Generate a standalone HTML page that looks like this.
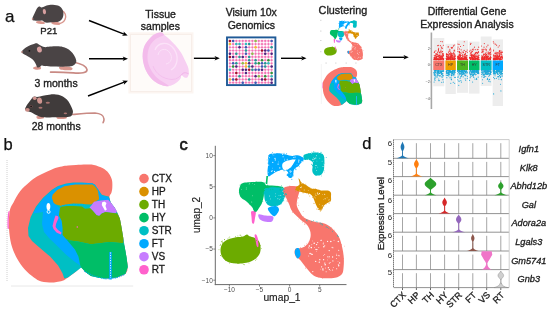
<!DOCTYPE html>
<html><head><meta charset="utf-8"><style>
html,body{margin:0;padding:0;background:#fff;width:550px;height:310px;overflow:hidden}
svg{display:block}
text{font-family:'Liberation Sans', Arial, sans-serif}
</style></head><body>
<svg width="550" height="310" viewBox="0 0 550 310">
<rect width="550" height="310" fill="#fff"/>
<text x="5.00" y="21.70" font-size="17.00" fill="#111" text-anchor="start" stroke="#111" stroke-width="0.25" >a</text>
<text x="3.40" y="149.80" font-size="16.50" fill="#111" text-anchor="start" stroke="#111" stroke-width="0.25" >b</text>
<text x="179.60" y="149.90" font-size="16.50" fill="#111" text-anchor="start" stroke="#111" stroke-width="0.60" >c</text>
<text x="362.20" y="149.00" font-size="16.50" fill="#111" text-anchor="start" stroke="#111" stroke-width="0.25" >d</text>
<text x="48.90" y="33.80" font-size="9.60" fill="#222" text-anchor="middle" stroke="#222" stroke-width="0.35" >P21</text>
<text x="56.10" y="86.80" font-size="10.50" fill="#222" text-anchor="middle" stroke="#222" stroke-width="0.35" >3 months</text>
<text x="56.20" y="130.40" font-size="10.50" fill="#222" text-anchor="middle" stroke="#222" stroke-width="0.35" >28 months</text>
<text x="160.60" y="17.80" font-size="10.50" fill="#222" text-anchor="middle" stroke="#222" stroke-width="0.35" >Tissue</text>
<text x="160.40" y="29.90" font-size="10.50" fill="#222" text-anchor="middle" stroke="#222" stroke-width="0.35" >samples</text>
<text x="251.30" y="16.20" font-size="10.50" fill="#222" text-anchor="middle" stroke="#222" stroke-width="0.35" >Visium 10x</text>
<text x="251.30" y="29.00" font-size="10.50" fill="#222" text-anchor="middle" stroke="#222" stroke-width="0.35" >Genomics</text>
<text x="342.90" y="13.70" font-size="10.80" fill="#222" text-anchor="middle" stroke="#222" stroke-width="0.35" >Clustering</text>
<text x="467.00" y="14.50" font-size="10.50" fill="#222" text-anchor="middle" stroke="#222" stroke-width="0.35" >Differential Gene</text>
<text x="467.00" y="27.80" font-size="10.50" fill="#222" text-anchor="middle" stroke="#222" stroke-width="0.35" >Expression Analysis</text>
<path d="M61.5,10.5 C65.5,12 66.5,16 65,19.5 C63.5,23 59,24.3 53,23.6" fill="none" stroke="#d9968d" stroke-width="1.4" stroke-linecap="round"/>
<path d="M36.50,21.50 C37.12,21.20 38.67,20.88 40.00,21.00 C41.33,21.12 43.83,21.70 44.50,22.20 C45.17,22.70 44.92,23.73 44.00,24.00 C43.08,24.27 40.28,24.00 39.00,23.80 C37.72,23.60 36.72,23.18 36.30,22.80 C35.88,22.42 35.88,21.80 36.50,21.50 Z" fill="#d9968d" />
<path d="M51.50,22.20 C52.20,21.90 54.58,21.67 56.00,21.80 C57.42,21.93 59.42,22.50 60.00,23.00 C60.58,23.50 60.33,24.53 59.50,24.80 C58.67,25.07 56.28,24.80 55.00,24.60 C53.72,24.40 52.38,24.00 51.80,23.60 C51.22,23.20 50.80,22.50 51.50,22.20 Z" fill="#d9968d" />
<path d="M32.10,19.30 C32.10,18.12 33.63,15.38 34.50,13.50 C35.37,11.62 36.43,9.15 37.30,8.00 C38.17,6.85 39.00,6.67 39.70,6.60 C40.40,6.53 40.53,7.70 41.50,7.60 C42.47,7.50 43.98,6.47 45.50,6.00 C47.02,5.53 48.55,4.87 50.60,4.80 C52.65,4.73 55.93,4.98 57.80,5.60 C59.67,6.22 60.87,7.27 61.80,8.50 C62.73,9.73 63.27,11.42 63.40,13.00 C63.53,14.58 63.33,16.60 62.60,18.00 C61.87,19.40 60.77,20.70 59.00,21.40 C57.23,22.10 54.25,22.00 52.00,22.20 C49.75,22.40 47.12,22.87 45.50,22.60 C43.88,22.33 43.47,20.90 42.30,20.60 C41.13,20.30 39.80,20.80 38.50,20.80 C37.20,20.80 35.57,20.85 34.50,20.60 C33.43,20.35 32.10,20.48 32.10,19.30 Z" fill="#4a4445" />
<ellipse cx="44.4" cy="11.6" rx="1.6" ry="2.6" fill="#d8a0a0" transform="rotate(-10 44.4 11.6)"/>
<ellipse cx="32.6" cy="19.0" rx="0.9" ry="0.7" fill="#d9968d"/>
<path d="M73.5,62 C80,63.5 86.5,66 87,69.5 C87.3,73 81,73.6 73.2,72.9 C66,72.4 57,72 50.6,72.2" fill="none" stroke="#c98a84" stroke-width="1.7" stroke-linecap="round"/>
<path d="M33.30,67.40 C33.88,67.00 35.75,66.43 37.00,66.40 C38.25,66.37 40.25,66.72 40.80,67.20 C41.35,67.68 41.10,68.88 40.30,69.30 C39.50,69.72 37.13,69.78 36.00,69.70 C34.87,69.62 33.95,69.18 33.50,68.80 C33.05,68.42 32.72,67.80 33.30,67.40 Z" fill="#d9968d" />
<path d="M59.50,66.80 C60.50,66.32 63.92,66.13 66.00,66.30 C68.08,66.47 71.08,67.18 72.00,67.80 C72.92,68.42 72.67,69.60 71.50,70.00 C70.33,70.40 66.92,70.33 65.00,70.20 C63.08,70.07 60.92,69.77 60.00,69.20 C59.08,68.63 58.50,67.28 59.50,66.80 Z" fill="#d9968d" />
<path d="M21.50,51.80 C21.75,51.10 22.90,49.93 24.00,49.00 C25.10,48.07 26.60,46.98 28.10,46.20 C29.60,45.42 31.60,44.80 33.00,44.30 C34.40,43.80 35.58,43.22 36.50,43.20 C37.42,43.18 37.23,43.55 38.50,44.20 C39.77,44.85 42.18,46.70 44.10,47.10 C46.02,47.50 47.58,46.73 50.00,46.60 C52.42,46.47 56.27,46.18 58.60,46.30 C60.93,46.42 62.30,46.77 64.00,47.30 C65.70,47.83 67.38,48.55 68.80,49.50 C70.22,50.45 71.47,51.75 72.50,53.00 C73.53,54.25 74.37,55.62 75.00,57.00 C75.63,58.38 76.35,60.03 76.30,61.30 C76.25,62.57 75.58,63.77 74.70,64.60 C73.82,65.43 72.95,65.95 71.00,66.30 C69.05,66.65 66.03,66.65 63.00,66.70 C59.97,66.75 55.80,66.70 52.80,66.60 C49.80,66.50 46.88,66.27 45.00,66.10 C43.12,65.93 42.33,65.45 41.50,65.60 C40.67,65.75 40.72,66.73 40.00,67.00 C39.28,67.27 37.87,67.62 37.20,67.20 C36.53,66.78 36.53,65.53 36.00,64.50 C35.47,63.47 34.83,62.05 34.00,61.00 C33.17,59.95 32.33,59.17 31.00,58.20 C29.67,57.23 27.42,56.03 26.00,55.20 C24.58,54.37 23.25,53.77 22.50,53.20 C21.75,52.63 21.25,52.50 21.50,51.80 Z" fill="#4a4445" />
<ellipse cx="39.4" cy="49.6" rx="2.4" ry="3.0" fill="#d8a0a0" transform="rotate(-15 39.4 49.6)"/>
<circle cx="29.4" cy="50.8" r="0.85" fill="#111"/>
<ellipse cx="22.1" cy="52.0" rx="0.9" ry="0.8" fill="#d9968d"/>
<path d="M72.5,114.5 C78,114 88,113 95,113 C100.5,113.3 103.8,116 104,119 C104.1,120.5 103.6,121.7 103.1,122.7" fill="none" stroke="#c98a84" stroke-width="1.6" stroke-linecap="round"/>
<path d="M37.00,116.30 C38.00,116.03 41.37,115.68 42.50,116.00 C43.63,116.32 44.55,117.72 43.80,118.20 C43.05,118.68 39.22,119.00 38.00,118.90 C36.78,118.80 36.67,118.03 36.50,117.60 C36.33,117.17 36.00,116.57 37.00,116.30 Z" fill="#d9968d" />
<path d="M57.00,116.40 C58.25,115.95 63.97,115.87 65.50,116.20 C67.03,116.53 67.45,117.95 66.20,118.40 C64.95,118.85 59.53,119.23 58.00,118.90 C56.47,118.57 55.75,116.85 57.00,116.40 Z" fill="#d9968d" />
<path d="M25.20,109.80 C24.87,109.08 25.33,108.05 25.80,107.00 C26.27,105.95 27.25,104.57 28.00,103.50 C28.75,102.43 29.55,101.60 30.30,100.60 C31.05,99.60 31.80,98.18 32.50,97.50 C33.20,96.82 33.75,96.58 34.50,96.50 C35.25,96.42 36.08,97.00 37.00,97.00 C37.92,97.00 38.80,96.75 40.00,96.50 C41.20,96.25 42.42,95.85 44.20,95.50 C45.98,95.15 48.73,94.55 50.70,94.40 C52.67,94.25 54.35,94.40 56.00,94.60 C57.65,94.80 59.10,95.03 60.60,95.60 C62.10,96.17 63.68,97.02 65.00,98.00 C66.32,98.98 67.47,100.10 68.50,101.50 C69.53,102.90 70.47,104.82 71.20,106.40 C71.93,107.98 72.72,109.65 72.90,111.00 C73.08,112.35 72.72,113.60 72.30,114.50 C71.88,115.40 71.78,115.95 70.40,116.40 C69.02,116.85 65.92,117.05 64.00,117.20 C62.08,117.35 61.23,117.27 58.90,117.30 C56.57,117.33 52.65,117.40 50.00,117.40 C47.35,117.40 44.78,117.47 43.00,117.30 C41.22,117.13 40.63,116.87 39.30,116.40 C37.97,115.93 36.37,115.18 35.00,114.50 C33.63,113.82 32.30,112.83 31.10,112.30 C29.90,111.77 28.78,111.72 27.80,111.30 C26.82,110.88 25.53,110.52 25.20,109.80 Z" fill="#403b3b" />
<ellipse cx="34.7" cy="98.3" rx="1.9" ry="1.8" fill="#d09590"/>
<ellipse cx="39.6" cy="100.6" rx="2.5" ry="3.2" fill="#d09590" transform="rotate(-10 39.6 100.6)"/>
<ellipse cx="27.4" cy="109.8" rx="2.3" ry="1.9" fill="#c98c86"/>
<ellipse cx="47.8" cy="102.7" rx="2.1" ry="1.0" fill="#a87370"/>
<ellipse cx="40.5" cy="107.7" rx="2.0" ry="1.0" fill="#a87370"/>
<ellipse cx="65.4" cy="113.3" rx="1.7" ry="0.9" fill="#a87370"/>
<circle cx="31.1" cy="106.4" r="1.4" fill="#7a5555"/>
<circle cx="31.1" cy="106.4" r="0.85" fill="#111"/>
<line x1="89.00" y1="20.50" x2="124.00" y2="34.16" stroke="#000" stroke-width="1.40"/><path d="M127.70,35.60 L121.93,35.82 L124.00,34.16 L123.60,31.53 Z" fill="#000"/>
<line x1="89.00" y1="58.70" x2="124.03" y2="58.70" stroke="#000" stroke-width="1.40"/><path d="M128.00,58.70 L122.70,61.00 L124.03,58.70 L122.70,56.40 Z" fill="#000"/>
<line x1="88.00" y1="96.00" x2="124.28" y2="82.21" stroke="#000" stroke-width="1.40"/><path d="M128.00,80.80 L123.86,84.83 L124.28,82.21 L122.23,80.53 Z" fill="#000"/>
<line x1="193.80" y1="58.30" x2="215.83" y2="58.30" stroke="#000" stroke-width="1.40"/><path d="M219.80,58.30 L214.50,60.60 L215.83,58.30 L214.50,56.00 Z" fill="#000"/>
<line x1="281.00" y1="58.30" x2="302.52" y2="58.30" stroke="#000" stroke-width="1.40"/><path d="M306.50,58.30 L301.20,60.60 L302.52,58.30 L301.20,56.00 Z" fill="#000"/>
<line x1="383.00" y1="57.30" x2="404.82" y2="57.30" stroke="#000" stroke-width="1.40"/><path d="M408.80,57.30 L403.50,59.60 L404.82,57.30 L403.50,55.00 Z" fill="#000"/>
<rect x="128.4" y="32.3" width="65.1" height="61.2" fill="#fcf5f1"/>
<rect x="130.6" y="34.4" width="60.8" height="57" fill="#fefbf9" stroke="#f6ece6" stroke-width="0.8"/>
<path d="M157.30,32.90 C158.58,32.48 159.98,31.98 161.10,32.30 C162.22,32.62 162.70,33.73 164.00,34.80 C165.30,35.87 166.97,36.92 168.90,38.70 C170.83,40.48 173.52,43.08 175.60,45.50 C177.68,47.92 179.78,50.62 181.40,53.20 C183.02,55.78 184.17,58.58 185.30,61.00 C186.43,63.42 187.62,65.62 188.20,67.70 C188.78,69.78 188.95,71.88 188.80,73.50 C188.65,75.12 188.03,76.75 187.30,77.40 C186.57,78.05 185.38,77.77 184.40,77.40 C183.42,77.03 182.05,75.03 181.40,75.20 C180.75,75.37 181.47,77.07 180.50,78.40 C179.53,79.73 177.53,81.92 175.60,83.20 C173.67,84.48 171.15,85.77 168.90,86.10 C166.65,86.43 164.52,86.00 162.10,85.20 C159.68,84.40 156.82,83.25 154.40,81.30 C151.98,79.35 149.38,76.40 147.60,73.50 C145.82,70.60 144.52,67.12 143.70,63.90 C142.88,60.68 142.53,57.27 142.70,54.20 C142.87,51.13 143.57,48.08 144.70,45.50 C145.83,42.92 148.05,40.48 149.50,38.70 C150.95,36.92 152.10,35.77 153.40,34.80 C154.70,33.83 156.02,33.32 157.30,32.90 Z" fill="#f7cff2" />
<path d="M161.10,32.50 C162.60,32.60 164.18,34.08 164.00,34.80 C163.82,35.52 161.67,35.85 160.00,36.80 C158.33,37.75 155.73,38.88 154.00,40.50 C152.27,42.12 150.67,44.17 149.60,46.50 C148.53,48.83 147.83,51.75 147.60,54.50 C147.37,57.25 147.53,60.25 148.20,63.00 C148.87,65.75 150.13,68.53 151.60,71.00 C153.07,73.47 155.02,75.93 157.00,77.80 C158.98,79.67 161.52,80.82 163.50,82.20 C165.48,83.58 169.13,85.60 168.90,86.10 C168.67,86.60 164.52,86.00 162.10,85.20 C159.68,84.40 156.82,83.25 154.40,81.30 C151.98,79.35 149.38,76.40 147.60,73.50 C145.82,70.60 144.52,67.12 143.70,63.90 C142.88,60.68 142.53,57.27 142.70,54.20 C142.87,51.13 143.57,48.08 144.70,45.50 C145.83,42.92 147.78,40.58 149.50,38.70 C151.22,36.82 153.07,35.23 155.00,34.20 C156.93,33.17 159.60,32.40 161.10,32.50 Z" fill="#f3bbeb" />
<path d="M155,50 C158,42 168,41 174,49 C179,56 178,66 171,70" fill="none" stroke="#fbe2f8" stroke-width="1.3"/>
<path d="M158,55 C159,49 166,47 170,53 C173,58 171,63 166,64" fill="none" stroke="#fbe2f8" stroke-width="1"/>
<path d="M153,66 C156,74 163,79 172,79.5 C177,79.5 180,76.5 181.5,74.5" fill="none" stroke="#f3bdec" stroke-width="0.9"/>
<path d="M181.4,75.2 C183,72 186,72.5 188.6,73.8" fill="none" stroke="#efaee6" stroke-width="0.9"/>
<rect x="227" y="37.4" width="48.4" height="47.7" fill="#fff" stroke="#1f5a97" stroke-width="1.9"/>
<g fill="#f9bcda"><circle cx="231.50" cy="40.90" r="0.6"/><circle cx="234.72" cy="40.90" r="0.6"/><circle cx="237.93" cy="40.90" r="0.6"/><circle cx="241.13" cy="40.90" r="0.6"/><circle cx="244.34" cy="40.90" r="0.6"/><circle cx="247.56" cy="40.90" r="0.6"/><circle cx="250.77" cy="40.90" r="0.6"/><circle cx="253.97" cy="40.90" r="0.6"/><circle cx="257.19" cy="40.90" r="0.6"/><circle cx="260.39" cy="40.90" r="0.6"/><circle cx="263.61" cy="40.90" r="0.6"/><circle cx="266.81" cy="40.90" r="0.6"/><circle cx="270.02" cy="40.90" r="0.6"/><circle cx="229.90" cy="42.50" r="0.6"/><circle cx="233.11" cy="42.50" r="0.6"/><circle cx="236.32" cy="42.50" r="0.6"/><circle cx="239.53" cy="42.50" r="0.6"/><circle cx="242.74" cy="42.50" r="0.6"/><circle cx="245.95" cy="42.50" r="0.6"/><circle cx="249.16" cy="42.50" r="0.6"/><circle cx="252.37" cy="42.50" r="0.6"/><circle cx="255.58" cy="42.50" r="0.6"/><circle cx="258.79" cy="42.50" r="0.6"/><circle cx="262.00" cy="42.50" r="0.6"/><circle cx="265.21" cy="42.50" r="0.6"/><circle cx="268.42" cy="42.50" r="0.6"/><circle cx="271.63" cy="42.50" r="0.6"/><circle cx="231.50" cy="44.11" r="0.6"/><circle cx="234.72" cy="44.11" r="0.6"/><circle cx="237.93" cy="44.11" r="0.6"/><circle cx="241.13" cy="44.11" r="0.6"/><circle cx="244.34" cy="44.11" r="0.6"/><circle cx="247.56" cy="44.11" r="0.6"/><circle cx="250.77" cy="44.11" r="0.6"/><circle cx="253.97" cy="44.11" r="0.6"/><circle cx="257.19" cy="44.11" r="0.6"/><circle cx="260.39" cy="44.11" r="0.6"/><circle cx="263.61" cy="44.11" r="0.6"/><circle cx="266.81" cy="44.11" r="0.6"/><circle cx="270.02" cy="44.11" r="0.6"/><circle cx="229.90" cy="45.71" r="0.6"/><circle cx="233.11" cy="45.71" r="0.6"/><circle cx="236.32" cy="45.71" r="0.6"/><circle cx="239.53" cy="45.71" r="0.6"/><circle cx="242.74" cy="45.71" r="0.6"/><circle cx="245.95" cy="45.71" r="0.6"/><circle cx="249.16" cy="45.71" r="0.6"/><circle cx="252.37" cy="45.71" r="0.6"/><circle cx="255.58" cy="45.71" r="0.6"/><circle cx="258.79" cy="45.71" r="0.6"/><circle cx="262.00" cy="45.71" r="0.6"/><circle cx="265.21" cy="45.71" r="0.6"/><circle cx="268.42" cy="45.71" r="0.6"/><circle cx="271.63" cy="45.71" r="0.6"/><circle cx="231.50" cy="47.32" r="0.6"/><circle cx="234.72" cy="47.32" r="0.6"/><circle cx="237.93" cy="47.32" r="0.6"/><circle cx="241.13" cy="47.32" r="0.6"/><circle cx="244.34" cy="47.32" r="0.6"/><circle cx="247.56" cy="47.32" r="0.6"/><circle cx="250.77" cy="47.32" r="0.6"/><circle cx="253.97" cy="47.32" r="0.6"/><circle cx="257.19" cy="47.32" r="0.6"/><circle cx="260.39" cy="47.32" r="0.6"/><circle cx="263.61" cy="47.32" r="0.6"/><circle cx="266.81" cy="47.32" r="0.6"/><circle cx="270.02" cy="47.32" r="0.6"/><circle cx="229.90" cy="48.92" r="0.6"/><circle cx="233.11" cy="48.92" r="0.6"/><circle cx="236.32" cy="48.92" r="0.6"/><circle cx="239.53" cy="48.92" r="0.6"/><circle cx="242.74" cy="48.92" r="0.6"/><circle cx="245.95" cy="48.92" r="0.6"/><circle cx="249.16" cy="48.92" r="0.6"/><circle cx="252.37" cy="48.92" r="0.6"/><circle cx="255.58" cy="48.92" r="0.6"/><circle cx="258.79" cy="48.92" r="0.6"/><circle cx="262.00" cy="48.92" r="0.6"/><circle cx="265.21" cy="48.92" r="0.6"/><circle cx="268.42" cy="48.92" r="0.6"/><circle cx="271.63" cy="48.92" r="0.6"/><circle cx="231.50" cy="50.53" r="0.6"/><circle cx="234.72" cy="50.53" r="0.6"/><circle cx="237.93" cy="50.53" r="0.6"/><circle cx="241.13" cy="50.53" r="0.6"/><circle cx="244.34" cy="50.53" r="0.6"/><circle cx="247.56" cy="50.53" r="0.6"/><circle cx="250.77" cy="50.53" r="0.6"/><circle cx="253.97" cy="50.53" r="0.6"/><circle cx="257.19" cy="50.53" r="0.6"/><circle cx="260.39" cy="50.53" r="0.6"/><circle cx="263.61" cy="50.53" r="0.6"/><circle cx="266.81" cy="50.53" r="0.6"/><circle cx="270.02" cy="50.53" r="0.6"/><circle cx="229.90" cy="52.13" r="0.6"/><circle cx="233.11" cy="52.13" r="0.6"/><circle cx="236.32" cy="52.13" r="0.6"/><circle cx="239.53" cy="52.13" r="0.6"/><circle cx="242.74" cy="52.13" r="0.6"/><circle cx="245.95" cy="52.13" r="0.6"/><circle cx="249.16" cy="52.13" r="0.6"/><circle cx="252.37" cy="52.13" r="0.6"/><circle cx="255.58" cy="52.13" r="0.6"/><circle cx="258.79" cy="52.13" r="0.6"/><circle cx="262.00" cy="52.13" r="0.6"/><circle cx="265.21" cy="52.13" r="0.6"/><circle cx="268.42" cy="52.13" r="0.6"/><circle cx="271.63" cy="52.13" r="0.6"/><circle cx="231.50" cy="53.74" r="0.6"/><circle cx="234.72" cy="53.74" r="0.6"/><circle cx="237.93" cy="53.74" r="0.6"/><circle cx="241.13" cy="53.74" r="0.6"/><circle cx="244.34" cy="53.74" r="0.6"/><circle cx="247.56" cy="53.74" r="0.6"/><circle cx="250.77" cy="53.74" r="0.6"/><circle cx="253.97" cy="53.74" r="0.6"/><circle cx="257.19" cy="53.74" r="0.6"/><circle cx="260.39" cy="53.74" r="0.6"/><circle cx="263.61" cy="53.74" r="0.6"/><circle cx="266.81" cy="53.74" r="0.6"/><circle cx="270.02" cy="53.74" r="0.6"/><circle cx="229.90" cy="55.34" r="0.6"/><circle cx="233.11" cy="55.34" r="0.6"/><circle cx="236.32" cy="55.34" r="0.6"/><circle cx="239.53" cy="55.34" r="0.6"/><circle cx="242.74" cy="55.34" r="0.6"/><circle cx="245.95" cy="55.34" r="0.6"/><circle cx="249.16" cy="55.34" r="0.6"/><circle cx="252.37" cy="55.34" r="0.6"/><circle cx="255.58" cy="55.34" r="0.6"/><circle cx="258.79" cy="55.34" r="0.6"/><circle cx="262.00" cy="55.34" r="0.6"/><circle cx="265.21" cy="55.34" r="0.6"/><circle cx="268.42" cy="55.34" r="0.6"/><circle cx="271.63" cy="55.34" r="0.6"/><circle cx="231.50" cy="56.95" r="0.6"/><circle cx="234.72" cy="56.95" r="0.6"/><circle cx="237.93" cy="56.95" r="0.6"/><circle cx="241.13" cy="56.95" r="0.6"/><circle cx="244.34" cy="56.95" r="0.6"/><circle cx="247.56" cy="56.95" r="0.6"/><circle cx="250.77" cy="56.95" r="0.6"/><circle cx="253.97" cy="56.95" r="0.6"/><circle cx="257.19" cy="56.95" r="0.6"/><circle cx="260.39" cy="56.95" r="0.6"/><circle cx="263.61" cy="56.95" r="0.6"/><circle cx="266.81" cy="56.95" r="0.6"/><circle cx="270.02" cy="56.95" r="0.6"/><circle cx="229.90" cy="58.55" r="0.6"/><circle cx="233.11" cy="58.55" r="0.6"/><circle cx="236.32" cy="58.55" r="0.6"/><circle cx="239.53" cy="58.55" r="0.6"/><circle cx="242.74" cy="58.55" r="0.6"/><circle cx="245.95" cy="58.55" r="0.6"/><circle cx="249.16" cy="58.55" r="0.6"/><circle cx="252.37" cy="58.55" r="0.6"/><circle cx="255.58" cy="58.55" r="0.6"/><circle cx="258.79" cy="58.55" r="0.6"/><circle cx="262.00" cy="58.55" r="0.6"/><circle cx="265.21" cy="58.55" r="0.6"/><circle cx="268.42" cy="58.55" r="0.6"/><circle cx="271.63" cy="58.55" r="0.6"/><circle cx="231.50" cy="60.16" r="0.6"/><circle cx="234.72" cy="60.16" r="0.6"/><circle cx="237.93" cy="60.16" r="0.6"/><circle cx="241.13" cy="60.16" r="0.6"/><circle cx="244.34" cy="60.16" r="0.6"/><circle cx="247.56" cy="60.16" r="0.6"/><circle cx="250.77" cy="60.16" r="0.6"/><circle cx="253.97" cy="60.16" r="0.6"/><circle cx="257.19" cy="60.16" r="0.6"/><circle cx="260.39" cy="60.16" r="0.6"/><circle cx="263.61" cy="60.16" r="0.6"/><circle cx="266.81" cy="60.16" r="0.6"/><circle cx="270.02" cy="60.16" r="0.6"/><circle cx="229.90" cy="61.77" r="0.6"/><circle cx="233.11" cy="61.77" r="0.6"/><circle cx="236.32" cy="61.77" r="0.6"/><circle cx="239.53" cy="61.77" r="0.6"/><circle cx="242.74" cy="61.77" r="0.6"/><circle cx="245.95" cy="61.77" r="0.6"/><circle cx="249.16" cy="61.77" r="0.6"/><circle cx="252.37" cy="61.77" r="0.6"/><circle cx="255.58" cy="61.77" r="0.6"/><circle cx="258.79" cy="61.77" r="0.6"/><circle cx="262.00" cy="61.77" r="0.6"/><circle cx="265.21" cy="61.77" r="0.6"/><circle cx="268.42" cy="61.77" r="0.6"/><circle cx="271.63" cy="61.77" r="0.6"/><circle cx="231.50" cy="63.37" r="0.6"/><circle cx="234.72" cy="63.37" r="0.6"/><circle cx="237.93" cy="63.37" r="0.6"/><circle cx="241.13" cy="63.37" r="0.6"/><circle cx="244.34" cy="63.37" r="0.6"/><circle cx="247.56" cy="63.37" r="0.6"/><circle cx="250.77" cy="63.37" r="0.6"/><circle cx="253.97" cy="63.37" r="0.6"/><circle cx="257.19" cy="63.37" r="0.6"/><circle cx="260.39" cy="63.37" r="0.6"/><circle cx="263.61" cy="63.37" r="0.6"/><circle cx="266.81" cy="63.37" r="0.6"/><circle cx="270.02" cy="63.37" r="0.6"/><circle cx="229.90" cy="64.97" r="0.6"/><circle cx="233.11" cy="64.97" r="0.6"/><circle cx="236.32" cy="64.97" r="0.6"/><circle cx="239.53" cy="64.97" r="0.6"/><circle cx="242.74" cy="64.97" r="0.6"/><circle cx="245.95" cy="64.97" r="0.6"/><circle cx="249.16" cy="64.97" r="0.6"/><circle cx="252.37" cy="64.97" r="0.6"/><circle cx="255.58" cy="64.97" r="0.6"/><circle cx="258.79" cy="64.97" r="0.6"/><circle cx="262.00" cy="64.97" r="0.6"/><circle cx="265.21" cy="64.97" r="0.6"/><circle cx="268.42" cy="64.97" r="0.6"/><circle cx="271.63" cy="64.97" r="0.6"/><circle cx="231.50" cy="66.58" r="0.6"/><circle cx="234.72" cy="66.58" r="0.6"/><circle cx="237.93" cy="66.58" r="0.6"/><circle cx="241.13" cy="66.58" r="0.6"/><circle cx="244.34" cy="66.58" r="0.6"/><circle cx="247.56" cy="66.58" r="0.6"/><circle cx="250.77" cy="66.58" r="0.6"/><circle cx="253.97" cy="66.58" r="0.6"/><circle cx="257.19" cy="66.58" r="0.6"/><circle cx="260.39" cy="66.58" r="0.6"/><circle cx="263.61" cy="66.58" r="0.6"/><circle cx="266.81" cy="66.58" r="0.6"/><circle cx="270.02" cy="66.58" r="0.6"/><circle cx="229.90" cy="68.19" r="0.6"/><circle cx="233.11" cy="68.19" r="0.6"/><circle cx="236.32" cy="68.19" r="0.6"/><circle cx="239.53" cy="68.19" r="0.6"/><circle cx="242.74" cy="68.19" r="0.6"/><circle cx="245.95" cy="68.19" r="0.6"/><circle cx="249.16" cy="68.19" r="0.6"/><circle cx="252.37" cy="68.19" r="0.6"/><circle cx="255.58" cy="68.19" r="0.6"/><circle cx="258.79" cy="68.19" r="0.6"/><circle cx="262.00" cy="68.19" r="0.6"/><circle cx="265.21" cy="68.19" r="0.6"/><circle cx="268.42" cy="68.19" r="0.6"/><circle cx="271.63" cy="68.19" r="0.6"/><circle cx="231.50" cy="69.79" r="0.6"/><circle cx="234.72" cy="69.79" r="0.6"/><circle cx="237.93" cy="69.79" r="0.6"/><circle cx="241.13" cy="69.79" r="0.6"/><circle cx="244.34" cy="69.79" r="0.6"/><circle cx="247.56" cy="69.79" r="0.6"/><circle cx="250.77" cy="69.79" r="0.6"/><circle cx="253.97" cy="69.79" r="0.6"/><circle cx="257.19" cy="69.79" r="0.6"/><circle cx="260.39" cy="69.79" r="0.6"/><circle cx="263.61" cy="69.79" r="0.6"/><circle cx="266.81" cy="69.79" r="0.6"/><circle cx="270.02" cy="69.79" r="0.6"/><circle cx="229.90" cy="71.39" r="0.6"/><circle cx="233.11" cy="71.39" r="0.6"/><circle cx="236.32" cy="71.39" r="0.6"/><circle cx="239.53" cy="71.39" r="0.6"/><circle cx="242.74" cy="71.39" r="0.6"/><circle cx="245.95" cy="71.39" r="0.6"/><circle cx="249.16" cy="71.39" r="0.6"/><circle cx="252.37" cy="71.39" r="0.6"/><circle cx="255.58" cy="71.39" r="0.6"/><circle cx="258.79" cy="71.39" r="0.6"/><circle cx="262.00" cy="71.39" r="0.6"/><circle cx="265.21" cy="71.39" r="0.6"/><circle cx="268.42" cy="71.39" r="0.6"/><circle cx="271.63" cy="71.39" r="0.6"/><circle cx="231.50" cy="73.00" r="0.6"/><circle cx="234.72" cy="73.00" r="0.6"/><circle cx="237.93" cy="73.00" r="0.6"/><circle cx="241.13" cy="73.00" r="0.6"/><circle cx="244.34" cy="73.00" r="0.6"/><circle cx="247.56" cy="73.00" r="0.6"/><circle cx="250.77" cy="73.00" r="0.6"/><circle cx="253.97" cy="73.00" r="0.6"/><circle cx="257.19" cy="73.00" r="0.6"/><circle cx="260.39" cy="73.00" r="0.6"/><circle cx="263.61" cy="73.00" r="0.6"/><circle cx="266.81" cy="73.00" r="0.6"/><circle cx="270.02" cy="73.00" r="0.6"/><circle cx="229.90" cy="74.60" r="0.6"/><circle cx="233.11" cy="74.60" r="0.6"/><circle cx="236.32" cy="74.60" r="0.6"/><circle cx="239.53" cy="74.60" r="0.6"/><circle cx="242.74" cy="74.60" r="0.6"/><circle cx="245.95" cy="74.60" r="0.6"/><circle cx="249.16" cy="74.60" r="0.6"/><circle cx="252.37" cy="74.60" r="0.6"/><circle cx="255.58" cy="74.60" r="0.6"/><circle cx="258.79" cy="74.60" r="0.6"/><circle cx="262.00" cy="74.60" r="0.6"/><circle cx="265.21" cy="74.60" r="0.6"/><circle cx="268.42" cy="74.60" r="0.6"/><circle cx="271.63" cy="74.60" r="0.6"/><circle cx="231.50" cy="76.21" r="0.6"/><circle cx="234.72" cy="76.21" r="0.6"/><circle cx="237.93" cy="76.21" r="0.6"/><circle cx="241.13" cy="76.21" r="0.6"/><circle cx="244.34" cy="76.21" r="0.6"/><circle cx="247.56" cy="76.21" r="0.6"/><circle cx="250.77" cy="76.21" r="0.6"/><circle cx="253.97" cy="76.21" r="0.6"/><circle cx="257.19" cy="76.21" r="0.6"/><circle cx="260.39" cy="76.21" r="0.6"/><circle cx="263.61" cy="76.21" r="0.6"/><circle cx="266.81" cy="76.21" r="0.6"/><circle cx="270.02" cy="76.21" r="0.6"/><circle cx="229.90" cy="77.81" r="0.6"/><circle cx="233.11" cy="77.81" r="0.6"/><circle cx="236.32" cy="77.81" r="0.6"/><circle cx="239.53" cy="77.81" r="0.6"/><circle cx="242.74" cy="77.81" r="0.6"/><circle cx="245.95" cy="77.81" r="0.6"/><circle cx="249.16" cy="77.81" r="0.6"/><circle cx="252.37" cy="77.81" r="0.6"/><circle cx="255.58" cy="77.81" r="0.6"/><circle cx="258.79" cy="77.81" r="0.6"/><circle cx="262.00" cy="77.81" r="0.6"/><circle cx="265.21" cy="77.81" r="0.6"/><circle cx="268.42" cy="77.81" r="0.6"/><circle cx="271.63" cy="77.81" r="0.6"/><circle cx="231.50" cy="79.42" r="0.6"/><circle cx="234.72" cy="79.42" r="0.6"/><circle cx="237.93" cy="79.42" r="0.6"/><circle cx="241.13" cy="79.42" r="0.6"/><circle cx="244.34" cy="79.42" r="0.6"/><circle cx="247.56" cy="79.42" r="0.6"/><circle cx="250.77" cy="79.42" r="0.6"/><circle cx="253.97" cy="79.42" r="0.6"/><circle cx="257.19" cy="79.42" r="0.6"/><circle cx="260.39" cy="79.42" r="0.6"/><circle cx="263.61" cy="79.42" r="0.6"/><circle cx="266.81" cy="79.42" r="0.6"/><circle cx="270.02" cy="79.42" r="0.6"/><circle cx="229.90" cy="81.03" r="0.6"/><circle cx="233.11" cy="81.03" r="0.6"/><circle cx="236.32" cy="81.03" r="0.6"/><circle cx="239.53" cy="81.03" r="0.6"/><circle cx="242.74" cy="81.03" r="0.6"/><circle cx="245.95" cy="81.03" r="0.6"/><circle cx="249.16" cy="81.03" r="0.6"/><circle cx="252.37" cy="81.03" r="0.6"/><circle cx="255.58" cy="81.03" r="0.6"/><circle cx="258.79" cy="81.03" r="0.6"/><circle cx="262.00" cy="81.03" r="0.6"/><circle cx="265.21" cy="81.03" r="0.6"/><circle cx="268.42" cy="81.03" r="0.6"/><circle cx="271.63" cy="81.03" r="0.6"/><circle cx="231.50" cy="82.63" r="0.6"/><circle cx="234.72" cy="82.63" r="0.6"/><circle cx="237.93" cy="82.63" r="0.6"/><circle cx="241.13" cy="82.63" r="0.6"/><circle cx="244.34" cy="82.63" r="0.6"/><circle cx="247.56" cy="82.63" r="0.6"/><circle cx="250.77" cy="82.63" r="0.6"/><circle cx="253.97" cy="82.63" r="0.6"/><circle cx="257.19" cy="82.63" r="0.6"/><circle cx="260.39" cy="82.63" r="0.6"/><circle cx="263.61" cy="82.63" r="0.6"/><circle cx="266.81" cy="82.63" r="0.6"/><circle cx="270.02" cy="82.63" r="0.6"/></g>
<g fill="#f374b4"><circle cx="229.90" cy="40.90" r="1.15"/><circle cx="233.11" cy="40.90" r="1.15"/><circle cx="236.32" cy="40.90" r="1.15"/><circle cx="239.53" cy="40.90" r="1.15"/><circle cx="242.74" cy="40.90" r="1.15"/><circle cx="245.95" cy="40.90" r="1.15"/><circle cx="249.16" cy="40.90" r="1.15"/><circle cx="252.37" cy="40.90" r="1.15"/><circle cx="255.58" cy="40.90" r="1.15"/><circle cx="258.79" cy="40.90" r="1.15"/><circle cx="262.00" cy="40.90" r="1.15"/><circle cx="265.21" cy="40.90" r="1.15"/><circle cx="268.42" cy="40.90" r="1.15"/><circle cx="271.63" cy="40.90" r="1.15"/><circle cx="229.90" cy="44.11" r="1.15"/><circle cx="233.11" cy="44.11" r="1.15"/><circle cx="236.32" cy="44.11" r="1.15"/><circle cx="239.53" cy="44.11" r="1.15"/><circle cx="242.74" cy="44.11" r="1.15"/><circle cx="245.95" cy="44.11" r="1.15"/><circle cx="249.16" cy="44.11" r="1.15"/><circle cx="252.37" cy="44.11" r="1.15"/><circle cx="255.58" cy="44.11" r="1.15"/><circle cx="258.79" cy="44.11" r="1.15"/><circle cx="262.00" cy="44.11" r="1.15"/><circle cx="265.21" cy="44.11" r="1.15"/><circle cx="268.42" cy="44.11" r="1.15"/><circle cx="271.63" cy="44.11" r="1.15"/><circle cx="229.90" cy="47.32" r="1.15"/><circle cx="233.11" cy="47.32" r="1.15"/><circle cx="236.32" cy="47.32" r="1.15"/><circle cx="239.53" cy="47.32" r="1.15"/><circle cx="242.74" cy="47.32" r="1.15"/><circle cx="245.95" cy="47.32" r="1.15"/><circle cx="249.16" cy="47.32" r="1.15"/><circle cx="252.37" cy="47.32" r="1.15"/><circle cx="255.58" cy="47.32" r="1.15"/><circle cx="258.79" cy="47.32" r="1.15"/><circle cx="262.00" cy="47.32" r="1.15"/><circle cx="265.21" cy="47.32" r="1.15"/><circle cx="268.42" cy="47.32" r="1.15"/><circle cx="271.63" cy="47.32" r="1.15"/><circle cx="229.90" cy="50.53" r="1.15"/><circle cx="233.11" cy="50.53" r="1.15"/><circle cx="236.32" cy="50.53" r="1.15"/><circle cx="239.53" cy="50.53" r="1.15"/><circle cx="242.74" cy="50.53" r="1.15"/><circle cx="245.95" cy="50.53" r="1.15"/><circle cx="249.16" cy="50.53" r="1.15"/><circle cx="252.37" cy="50.53" r="1.15"/><circle cx="255.58" cy="50.53" r="1.15"/><circle cx="258.79" cy="50.53" r="1.15"/><circle cx="262.00" cy="50.53" r="1.15"/><circle cx="265.21" cy="50.53" r="1.15"/><circle cx="268.42" cy="50.53" r="1.15"/><circle cx="271.63" cy="50.53" r="1.15"/><circle cx="229.90" cy="53.74" r="1.15"/><circle cx="233.11" cy="53.74" r="1.15"/><circle cx="236.32" cy="53.74" r="1.15"/><circle cx="239.53" cy="53.74" r="1.15"/><circle cx="242.74" cy="53.74" r="1.15"/><circle cx="245.95" cy="53.74" r="1.15"/><circle cx="249.16" cy="53.74" r="1.15"/><circle cx="252.37" cy="53.74" r="1.15"/><circle cx="255.58" cy="53.74" r="1.15"/><circle cx="258.79" cy="53.74" r="1.15"/><circle cx="262.00" cy="53.74" r="1.15"/><circle cx="265.21" cy="53.74" r="1.15"/><circle cx="268.42" cy="53.74" r="1.15"/><circle cx="271.63" cy="53.74" r="1.15"/><circle cx="229.90" cy="56.95" r="1.15"/><circle cx="233.11" cy="56.95" r="1.15"/><circle cx="236.32" cy="56.95" r="1.15"/><circle cx="239.53" cy="56.95" r="1.15"/><circle cx="242.74" cy="56.95" r="1.15"/><circle cx="245.95" cy="56.95" r="1.15"/><circle cx="249.16" cy="56.95" r="1.15"/><circle cx="252.37" cy="56.95" r="1.15"/><circle cx="255.58" cy="56.95" r="1.15"/><circle cx="258.79" cy="56.95" r="1.15"/><circle cx="262.00" cy="56.95" r="1.15"/><circle cx="265.21" cy="56.95" r="1.15"/><circle cx="268.42" cy="56.95" r="1.15"/><circle cx="271.63" cy="56.95" r="1.15"/><circle cx="229.90" cy="60.16" r="1.15"/><circle cx="233.11" cy="60.16" r="1.15"/><circle cx="236.32" cy="60.16" r="1.15"/><circle cx="239.53" cy="60.16" r="1.15"/><circle cx="242.74" cy="60.16" r="1.15"/><circle cx="245.95" cy="60.16" r="1.15"/><circle cx="249.16" cy="60.16" r="1.15"/><circle cx="252.37" cy="60.16" r="1.15"/><circle cx="255.58" cy="60.16" r="1.15"/><circle cx="258.79" cy="60.16" r="1.15"/><circle cx="262.00" cy="60.16" r="1.15"/><circle cx="265.21" cy="60.16" r="1.15"/><circle cx="268.42" cy="60.16" r="1.15"/><circle cx="271.63" cy="60.16" r="1.15"/><circle cx="229.90" cy="63.37" r="1.15"/><circle cx="233.11" cy="63.37" r="1.15"/><circle cx="236.32" cy="63.37" r="1.15"/><circle cx="239.53" cy="63.37" r="1.15"/><circle cx="242.74" cy="63.37" r="1.15"/><circle cx="245.95" cy="63.37" r="1.15"/><circle cx="249.16" cy="63.37" r="1.15"/><circle cx="252.37" cy="63.37" r="1.15"/><circle cx="255.58" cy="63.37" r="1.15"/><circle cx="258.79" cy="63.37" r="1.15"/><circle cx="262.00" cy="63.37" r="1.15"/><circle cx="265.21" cy="63.37" r="1.15"/><circle cx="268.42" cy="63.37" r="1.15"/><circle cx="271.63" cy="63.37" r="1.15"/><circle cx="229.90" cy="66.58" r="1.15"/><circle cx="233.11" cy="66.58" r="1.15"/><circle cx="236.32" cy="66.58" r="1.15"/><circle cx="239.53" cy="66.58" r="1.15"/><circle cx="242.74" cy="66.58" r="1.15"/><circle cx="245.95" cy="66.58" r="1.15"/><circle cx="249.16" cy="66.58" r="1.15"/><circle cx="252.37" cy="66.58" r="1.15"/><circle cx="255.58" cy="66.58" r="1.15"/><circle cx="258.79" cy="66.58" r="1.15"/><circle cx="262.00" cy="66.58" r="1.15"/><circle cx="265.21" cy="66.58" r="1.15"/><circle cx="268.42" cy="66.58" r="1.15"/><circle cx="271.63" cy="66.58" r="1.15"/><circle cx="229.90" cy="69.79" r="1.15"/><circle cx="233.11" cy="69.79" r="1.15"/><circle cx="236.32" cy="69.79" r="1.15"/><circle cx="239.53" cy="69.79" r="1.15"/><circle cx="242.74" cy="69.79" r="1.15"/><circle cx="245.95" cy="69.79" r="1.15"/><circle cx="249.16" cy="69.79" r="1.15"/><circle cx="252.37" cy="69.79" r="1.15"/><circle cx="255.58" cy="69.79" r="1.15"/><circle cx="258.79" cy="69.79" r="1.15"/><circle cx="262.00" cy="69.79" r="1.15"/><circle cx="265.21" cy="69.79" r="1.15"/><circle cx="268.42" cy="69.79" r="1.15"/><circle cx="271.63" cy="69.79" r="1.15"/><circle cx="229.90" cy="73.00" r="1.15"/><circle cx="233.11" cy="73.00" r="1.15"/><circle cx="236.32" cy="73.00" r="1.15"/><circle cx="239.53" cy="73.00" r="1.15"/><circle cx="242.74" cy="73.00" r="1.15"/><circle cx="245.95" cy="73.00" r="1.15"/><circle cx="249.16" cy="73.00" r="1.15"/><circle cx="252.37" cy="73.00" r="1.15"/><circle cx="255.58" cy="73.00" r="1.15"/><circle cx="258.79" cy="73.00" r="1.15"/><circle cx="262.00" cy="73.00" r="1.15"/><circle cx="265.21" cy="73.00" r="1.15"/><circle cx="268.42" cy="73.00" r="1.15"/><circle cx="271.63" cy="73.00" r="1.15"/><circle cx="229.90" cy="76.21" r="1.15"/><circle cx="233.11" cy="76.21" r="1.15"/><circle cx="236.32" cy="76.21" r="1.15"/><circle cx="239.53" cy="76.21" r="1.15"/><circle cx="242.74" cy="76.21" r="1.15"/><circle cx="245.95" cy="76.21" r="1.15"/><circle cx="249.16" cy="76.21" r="1.15"/><circle cx="252.37" cy="76.21" r="1.15"/><circle cx="255.58" cy="76.21" r="1.15"/><circle cx="258.79" cy="76.21" r="1.15"/><circle cx="262.00" cy="76.21" r="1.15"/><circle cx="265.21" cy="76.21" r="1.15"/><circle cx="268.42" cy="76.21" r="1.15"/><circle cx="271.63" cy="76.21" r="1.15"/><circle cx="229.90" cy="79.42" r="1.15"/><circle cx="233.11" cy="79.42" r="1.15"/><circle cx="236.32" cy="79.42" r="1.15"/><circle cx="239.53" cy="79.42" r="1.15"/><circle cx="242.74" cy="79.42" r="1.15"/><circle cx="245.95" cy="79.42" r="1.15"/><circle cx="249.16" cy="79.42" r="1.15"/><circle cx="252.37" cy="79.42" r="1.15"/><circle cx="255.58" cy="79.42" r="1.15"/><circle cx="258.79" cy="79.42" r="1.15"/><circle cx="262.00" cy="79.42" r="1.15"/><circle cx="265.21" cy="79.42" r="1.15"/><circle cx="268.42" cy="79.42" r="1.15"/><circle cx="271.63" cy="79.42" r="1.15"/><circle cx="229.90" cy="82.63" r="1.15"/><circle cx="233.11" cy="82.63" r="1.15"/><circle cx="236.32" cy="82.63" r="1.15"/><circle cx="239.53" cy="82.63" r="1.15"/><circle cx="242.74" cy="82.63" r="1.15"/><circle cx="245.95" cy="82.63" r="1.15"/><circle cx="249.16" cy="82.63" r="1.15"/><circle cx="252.37" cy="82.63" r="1.15"/><circle cx="255.58" cy="82.63" r="1.15"/><circle cx="258.79" cy="82.63" r="1.15"/><circle cx="262.00" cy="82.63" r="1.15"/><circle cx="265.21" cy="82.63" r="1.15"/><circle cx="268.42" cy="82.63" r="1.15"/><circle cx="271.63" cy="82.63" r="1.15"/></g>
<circle cx="229.90" cy="40.90" r="1.25" fill="#a3152a"/><circle cx="233.11" cy="40.90" r="1.25" fill="#3b5fb6"/><circle cx="255.58" cy="40.90" r="1.25" fill="#8bc34a"/><circle cx="271.63" cy="40.90" r="1.25" fill="#3b5fb6"/><circle cx="229.90" cy="44.11" r="1.25" fill="#f2c12e"/><circle cx="236.32" cy="44.11" r="1.25" fill="#30c0c0"/><circle cx="239.53" cy="44.11" r="1.25" fill="#30c0c0"/><circle cx="245.95" cy="44.11" r="1.25" fill="#30c0c0"/><circle cx="249.16" cy="44.11" r="1.25" fill="#1f9e96"/><circle cx="239.53" cy="47.32" r="1.25" fill="#4b2a80"/><circle cx="245.95" cy="47.32" r="1.25" fill="#3b5fb6"/><circle cx="255.58" cy="47.32" r="1.25" fill="#f2c12e"/><circle cx="271.63" cy="47.32" r="1.25" fill="#1f9e96"/><circle cx="245.95" cy="50.53" r="1.25" fill="#1f9e96"/><circle cx="262.00" cy="50.53" r="1.25" fill="#a3152a"/><circle cx="265.21" cy="50.53" r="1.25" fill="#4b2a80"/><circle cx="268.42" cy="50.53" r="1.25" fill="#3b5fb6"/><circle cx="229.90" cy="53.74" r="1.25" fill="#4b2a80"/><circle cx="236.32" cy="53.74" r="1.25" fill="#1f9e96"/><circle cx="245.95" cy="53.74" r="1.25" fill="#3b5fb6"/><circle cx="252.37" cy="53.74" r="1.25" fill="#8bc34a"/><circle cx="265.21" cy="53.74" r="1.25" fill="#4b2a80"/><circle cx="271.63" cy="53.74" r="1.25" fill="#4b2a80"/><circle cx="229.90" cy="56.95" r="1.25" fill="#a3152a"/><circle cx="233.11" cy="56.95" r="1.25" fill="#4b2a80"/><circle cx="239.53" cy="56.95" r="1.25" fill="#1f9e96"/><circle cx="242.74" cy="56.95" r="1.25" fill="#4b2a80"/><circle cx="249.16" cy="56.95" r="1.25" fill="#1f9e96"/><circle cx="249.16" cy="60.16" r="1.25" fill="#1f9e96"/><circle cx="255.58" cy="60.16" r="1.25" fill="#1f9e96"/><circle cx="262.00" cy="60.16" r="1.25" fill="#2a9d3a"/><circle cx="268.42" cy="60.16" r="1.25" fill="#2a9d3a"/><circle cx="233.11" cy="63.37" r="1.25" fill="#3b5fb6"/><circle cx="236.32" cy="63.37" r="1.25" fill="#1f9e96"/><circle cx="242.74" cy="63.37" r="1.25" fill="#8bc34a"/><circle cx="245.95" cy="63.37" r="1.25" fill="#f2c12e"/><circle cx="249.16" cy="63.37" r="1.25" fill="#4b2a80"/><circle cx="255.58" cy="63.37" r="1.25" fill="#1f9e96"/><circle cx="258.79" cy="63.37" r="1.25" fill="#2a9d3a"/><circle cx="262.00" cy="63.37" r="1.25" fill="#3b5fb6"/><circle cx="265.21" cy="63.37" r="1.25" fill="#1f9e96"/><circle cx="268.42" cy="63.37" r="1.25" fill="#30c0c0"/><circle cx="233.11" cy="66.58" r="1.25" fill="#2a9d3a"/><circle cx="236.32" cy="66.58" r="1.25" fill="#4b2a80"/><circle cx="245.95" cy="66.58" r="1.25" fill="#f2c12e"/><circle cx="249.16" cy="66.58" r="1.25" fill="#1f9e96"/><circle cx="252.37" cy="66.58" r="1.25" fill="#4b2a80"/><circle cx="262.00" cy="66.58" r="1.25" fill="#3b5fb6"/><circle cx="265.21" cy="66.58" r="1.25" fill="#1f9e96"/><circle cx="271.63" cy="66.58" r="1.25" fill="#4b2a80"/><circle cx="229.90" cy="69.79" r="1.25" fill="#30c0c0"/><circle cx="242.74" cy="69.79" r="1.25" fill="#4b2a80"/><circle cx="245.95" cy="69.79" r="1.25" fill="#4b2a80"/><circle cx="249.16" cy="69.79" r="1.25" fill="#a3152a"/><circle cx="252.37" cy="69.79" r="1.25" fill="#1f9e96"/><circle cx="255.58" cy="69.79" r="1.25" fill="#3b5fb6"/><circle cx="258.79" cy="69.79" r="1.25" fill="#3b5fb6"/><circle cx="262.00" cy="69.79" r="1.25" fill="#4b2a80"/><circle cx="236.32" cy="73.00" r="1.25" fill="#a3152a"/><circle cx="245.95" cy="73.00" r="1.25" fill="#4b2a80"/><circle cx="271.63" cy="73.00" r="1.25" fill="#2a9d3a"/><circle cx="239.53" cy="76.21" r="1.25" fill="#1f9e96"/><circle cx="255.58" cy="76.21" r="1.25" fill="#4b2a80"/><circle cx="258.79" cy="76.21" r="1.25" fill="#8bc34a"/><circle cx="265.21" cy="76.21" r="1.25" fill="#2a9d3a"/><circle cx="271.63" cy="76.21" r="1.25" fill="#30c0c0"/><circle cx="229.90" cy="79.42" r="1.25" fill="#f2c12e"/><circle cx="233.11" cy="79.42" r="1.25" fill="#3b5fb6"/><circle cx="236.32" cy="79.42" r="1.25" fill="#a3152a"/><circle cx="249.16" cy="79.42" r="1.25" fill="#1f9e96"/><circle cx="262.00" cy="79.42" r="1.25" fill="#4b2a80"/><circle cx="265.21" cy="79.42" r="1.25" fill="#a3152a"/><circle cx="271.63" cy="79.42" r="1.25" fill="#4b2a80"/><circle cx="242.74" cy="82.63" r="1.25" fill="#3b5fb6"/><circle cx="255.58" cy="82.63" r="1.25" fill="#3b5fb6"/><circle cx="271.63" cy="82.63" r="1.25" fill="#4b2a80"/>
<line x1="7.0" y1="160" x2="7.0" y2="282" stroke="#d0d0d0" stroke-width="1" stroke-dasharray="1 1"/>
<line x1="11.5" y1="286" x2="133.6" y2="286" stroke="#d0d0d0" stroke-width="1" stroke-dasharray="1 1"/>
<path d="M54.00,168.40 C56.82,167.37 59.67,166.88 62.00,166.40 C64.33,165.92 65.67,165.73 68.00,165.50 C70.33,165.27 73.00,165.15 76.00,165.00 C79.00,164.85 83.02,164.60 86.00,164.60 C88.98,164.60 91.08,164.38 93.90,165.00 C96.72,165.62 100.47,166.97 102.90,168.30 C105.33,169.63 107.00,171.08 108.50,173.00 C110.00,174.92 111.27,177.37 111.90,179.80 C112.53,182.23 112.38,185.45 112.30,187.60 C112.22,189.75 111.87,191.22 111.40,192.70 C110.93,194.18 109.60,194.88 109.50,196.50 C109.40,198.12 109.95,200.55 110.80,202.40 C111.65,204.25 113.53,205.92 114.60,207.60 C115.67,209.28 116.33,210.68 117.20,212.50 C118.07,214.32 119.12,216.20 119.80,218.50 C120.48,220.80 120.73,223.12 121.30,226.30 C121.87,229.48 122.65,234.22 123.20,237.60 C123.75,240.98 124.03,243.22 124.60,246.60 C125.17,249.98 126.08,254.52 126.60,257.90 C127.12,261.28 127.88,264.27 127.70,266.90 C127.52,269.53 127.38,271.92 125.50,273.70 C123.62,275.48 119.80,276.78 116.40,277.60 C113.00,278.42 108.85,278.95 105.10,278.60 C101.35,278.25 97.08,276.52 93.90,275.50 C90.72,274.48 88.12,273.83 86.00,272.50 C83.88,271.17 82.75,267.75 81.20,267.50 C79.65,267.25 78.57,269.58 76.70,271.00 C74.83,272.42 72.12,274.47 70.00,276.00 C67.88,277.53 66.00,279.23 64.00,280.20 C62.00,281.17 60.02,281.40 58.00,281.80 C55.98,282.20 54.68,282.63 51.90,282.60 C49.12,282.57 44.30,282.43 41.30,281.60 C38.30,280.77 36.65,279.60 33.90,277.60 C31.15,275.60 27.63,272.83 24.80,269.60 C21.97,266.37 19.15,262.38 16.90,258.20 C14.65,254.02 12.62,249.45 11.30,244.50 C9.98,239.55 9.35,233.42 9.00,228.50 C8.65,223.58 8.95,218.42 9.20,215.00 C9.45,211.58 9.78,210.10 10.50,208.00 C11.22,205.90 11.87,205.22 13.50,202.40 C15.13,199.58 17.67,194.45 20.30,191.10 C22.93,187.75 26.52,184.72 29.30,182.30 C32.08,179.88 34.37,178.22 37.00,176.60 C39.63,174.98 42.27,173.97 45.10,172.60 C47.93,171.23 51.18,169.43 54.00,168.40 Z" fill="#F8766D" />
<path d="M108.8,196.5 L106.3,196.0 L101.8,194.7 L97.9,188.9 L95.0,184.5 L92.0,183.2 L82.0,182.6 L73.5,182.6 L66.1,183.5 L58.0,186.0 L51.9,189.8 L43.0,197.7 L36.0,206.6 L30.6,217.2 L28.0,227.9 L28.5,236.0 L32.0,241.0 L37.7,246.0 L50.1,256.6 L58.1,265.5 L62.6,273.4 L64.3,278.6 L67.9,277.4 L72.0,274.5 L76.7,271.0 L81.2,267.5 L86.0,272.5 L90.9,276.1 L99.8,277.9 L105.1,278.6 L116.4,277.6 L125.5,273.7 L127.7,266.9 L126.6,257.9 L124.6,246.6 L123.2,237.6 L121.3,226.3 L119.8,218.5 L117.2,212.5 L114.6,207.6 L110.8,202.4 L109.5,198.5 Z" fill="#00BFC4" />
<path d="M108.8,197.5 L101.8,195.5 L97.5,189.5 L94.5,185.0 L92.0,183.6 L82.0,183.2 L73.5,183.2 L66.1,184.2 L58.0,186.8 L52.2,190.5 L43.5,198.3 L36.8,207.0 L33.0,213.5 L43.0,212.0 L42.0,224.0 L44.0,232.0 L49.0,238.0 L55.5,244.2 L66.1,254.8 L75.0,262.0 L80.3,265.5 L78.5,256.6 L75.0,249.5 L69.0,241.0 L63.5,236.0 L62.6,227.9 L61.7,220.8 L59.0,215.5 L59.9,208.4 L56.0,205.0 L52.5,200.0 L94.0,201.8 L100.0,200.0 L110.0,200.5 Z" fill="#00A9FF" />
<path d="M52.8,194.2 L57.0,190.0 L64.3,186.2 L75.0,184.4 L92.7,184.4 L96.5,188.0 L98.0,191.0 L99.2,199.2 L95.3,201.8 L90.9,204.4 L85.0,204.3 L82.0,203.8 L73.2,203.5 L66.0,204.5 L60.8,205.7 L56.0,204.5 L53.7,203.0 L51.9,197.7 Z" fill="#DA9100" />
<path d="M53.2,193.6 L57,189.4 L64.3,185.4 L75,183.6 L92.7,183.6 L97.2,188.3 L98.6,191.5" fill="none" stroke="#00A9FF" stroke-width="1.0" stroke-dasharray="1.6 1.0"/>
<path d="M62,205.5 L73.2,204.4 L85,205.1" fill="none" stroke="#00A9FF" stroke-width="0.9" stroke-dasharray="1.4 1.4"/>
<path d="M91.4,205.6 L94.0,201.8 L100.5,200.5 L108.2,199.8 L110.8,202.4 L114.6,207.6 L117.0,211.6 L115.9,212.9 L110.8,212.7 L105.6,212.0 L101.8,213.4 L99.2,215.9 L96.6,215.3 L92.7,210.8 L89.5,207.6 Z" fill="#C77CFF" />
<path d="M102.2,202.2 L104.5,201.5 L106.5,203.0 L105.5,206.0 L106.8,209.5 L105.0,210.8 L103.5,208.0 L101.8,205.0 Z" fill="#fff" />
<path d="M60.8,206.8 L67.0,206.0 L73.2,205.9 L82.0,206.4 L85.0,208.8 L90.2,208.2 L92.7,210.8 L96.6,215.3 L99.2,215.9 L101.8,213.4 L105.6,212.0 L110.8,212.7 L117.2,213.4 L119.8,218.5 L121.3,226.3 L123.2,237.6 L123.4,243.2 L109.7,242.1 L99.8,243.3 L90.9,244.2 L78.0,241.5 L69.6,240.6 L66.1,238.9 L62.6,235.0 L62.6,227.9 L61.7,220.8 L59.0,215.5 L59.9,208.4 Z" fill="#6CAB00" />
<path d="M66.1,238.9 L69.6,240.6 L78.0,241.5 L90.9,244.2 L99.8,243.3 L109.7,242.1 L123.4,243.2 L124.6,246.6 L126.6,257.9 L127.7,266.9 L125.5,273.7 L116.4,277.6 L105.1,278.6 L99.8,277.9 L90.9,276.1 L86.0,272.5 L81.2,267.2 L80.3,265.5 L78.5,256.6 L75.0,249.5 Z" fill="#00BE67" />
<path d="M55.5,215.5 L58.1,216.3 L58.5,218.0 L56.0,224.0 L55.6,227.0 L58.0,230.0 L61.5,232.5 L60.8,234.4 L56.5,232.6 L53.5,229.0 L52.5,226.1 L54.0,220.0 Z" fill="#FF61CC" />
<path d="M9.6,211 C8.8,216 8.6,222 8.9,229 L7.6,228.5 C7.3,222 7.5,216 8.4,211.5 Z" fill="#FF61CC"/>
<ellipse cx="48.4" cy="206.6" rx="1.9" ry="3.6" fill="#fff"/>
<circle cx="48.6" cy="211.8" r="1.5" fill="none" stroke="#fff" stroke-width="0.9"/>
<circle cx="77.3" cy="227" r="0.8" fill="#FF61CC"/>
<rect x="109.2" y="252" width="2.6" height="27.5" fill="#00A9FF"/>
<line x1="110.5" y1="252.5" x2="110.5" y2="279" stroke="#d8f2ff" stroke-width="1.0" stroke-dasharray="1.1 1.4"/>
<path d="M84,271 L93.9,276 L105.1,279 L116.4,278 L125,274.5" fill="none" stroke="#00A9FF" stroke-width="0.9" stroke-dasharray="1.3 1.0"/>
<circle cx="144.0" cy="178.60" r="4.8" fill="#F8766D"/>
<text x="151.80" y="182.30" font-size="10.00" fill="#1a1a1a" text-anchor="start" stroke="#1a1a1a" stroke-width="0.30" >CTX</text>
<circle cx="144.0" cy="191.62" r="4.8" fill="#DA9100"/>
<text x="151.80" y="195.32" font-size="10.00" fill="#1a1a1a" text-anchor="start" stroke="#1a1a1a" stroke-width="0.30" >HP</text>
<circle cx="144.0" cy="204.64" r="4.8" fill="#6CAB00"/>
<text x="151.80" y="208.34" font-size="10.00" fill="#1a1a1a" text-anchor="start" stroke="#1a1a1a" stroke-width="0.30" >TH</text>
<circle cx="144.0" cy="217.66" r="4.8" fill="#00BE67"/>
<text x="151.80" y="221.36" font-size="10.00" fill="#1a1a1a" text-anchor="start" stroke="#1a1a1a" stroke-width="0.30" >HY</text>
<circle cx="144.0" cy="230.68" r="4.8" fill="#00BFC4"/>
<text x="151.80" y="234.38" font-size="10.00" fill="#1a1a1a" text-anchor="start" stroke="#1a1a1a" stroke-width="0.30" >STR</text>
<circle cx="144.0" cy="243.70" r="4.8" fill="#00A9FF"/>
<text x="151.80" y="247.40" font-size="10.00" fill="#1a1a1a" text-anchor="start" stroke="#1a1a1a" stroke-width="0.30" >FT</text>
<circle cx="144.0" cy="256.72" r="4.8" fill="#C77CFF"/>
<text x="151.80" y="260.42" font-size="10.00" fill="#1a1a1a" text-anchor="start" stroke="#1a1a1a" stroke-width="0.30" >VS</text>
<circle cx="144.0" cy="269.74" r="4.8" fill="#FF61CC"/>
<text x="151.80" y="273.44" font-size="10.00" fill="#1a1a1a" text-anchor="start" stroke="#1a1a1a" stroke-width="0.30" >RT</text>
<line x1="215.3" y1="145.8" x2="215.3" y2="285.1" stroke="#6a6a6a" stroke-width="1"/>
<line x1="214.8" y1="284.6" x2="346.5" y2="284.6" stroke="#6a6a6a" stroke-width="1"/>
<line x1="213.3" y1="155.60" x2="215.3" y2="155.60" stroke="#6a6a6a" stroke-width="0.8"/>
<text x="212.80" y="157.90" font-size="6.50" fill="#4d4d4d" text-anchor="end" >10</text>
<line x1="213.3" y1="186.75" x2="215.3" y2="186.75" stroke="#6a6a6a" stroke-width="0.8"/>
<text x="212.80" y="189.05" font-size="6.50" fill="#4d4d4d" text-anchor="end" >5</text>
<line x1="213.3" y1="217.90" x2="215.3" y2="217.90" stroke="#6a6a6a" stroke-width="0.8"/>
<text x="212.80" y="220.20" font-size="6.50" fill="#4d4d4d" text-anchor="end" >0</text>
<line x1="213.3" y1="249.05" x2="215.3" y2="249.05" stroke="#6a6a6a" stroke-width="0.8"/>
<text x="212.80" y="251.35" font-size="6.50" fill="#4d4d4d" text-anchor="end" >−5</text>
<line x1="213.3" y1="280.20" x2="215.3" y2="280.20" stroke="#6a6a6a" stroke-width="0.8"/>
<text x="212.80" y="282.50" font-size="6.50" fill="#4d4d4d" text-anchor="end" >−10</text>
<line x1="229.40" y1="284.6" x2="229.40" y2="286.6" stroke="#6a6a6a" stroke-width="0.8"/>
<text x="229.40" y="291.80" font-size="6.50" fill="#4d4d4d" text-anchor="middle" >−10</text>
<line x1="259.50" y1="284.6" x2="259.50" y2="286.6" stroke="#6a6a6a" stroke-width="0.8"/>
<text x="259.50" y="291.80" font-size="6.50" fill="#4d4d4d" text-anchor="middle" >−5</text>
<line x1="289.60" y1="284.6" x2="289.60" y2="286.6" stroke="#6a6a6a" stroke-width="0.8"/>
<text x="289.60" y="291.80" font-size="6.50" fill="#4d4d4d" text-anchor="middle" >0</text>
<line x1="319.70" y1="284.6" x2="319.70" y2="286.6" stroke="#6a6a6a" stroke-width="0.8"/>
<text x="319.70" y="291.80" font-size="6.50" fill="#4d4d4d" text-anchor="middle" >5</text>
<text x="282.00" y="301.40" font-size="10.30" fill="#1a1a1a" text-anchor="middle" stroke="#1a1a1a" stroke-width="0.15" >umap_1</text>
<text x="0.00" y="0.00" font-size="10.00" fill="#1a1a1a" text-anchor="middle" stroke="#1a1a1a" stroke-width="0.15" transform="translate(200.2,215) rotate(-90)">umap_2</text>
<path d="M269.00,154.70 C269.95,153.63 272.27,153.85 274.00,153.60 C275.73,153.35 277.40,153.05 279.40,153.20 C281.40,153.35 283.85,154.03 286.00,154.50 C288.15,154.97 290.38,155.87 292.30,156.00 C294.22,156.13 295.78,155.08 297.50,155.30 C299.22,155.52 301.60,156.52 302.60,157.30 C303.60,158.08 303.93,158.88 303.50,160.00 C303.07,161.12 300.78,163.05 300.00,164.00 C299.22,164.95 299.63,164.95 298.80,165.70 C297.97,166.45 295.87,167.62 295.00,168.50 C294.13,169.38 294.05,169.53 293.60,171.00 C293.15,172.47 293.17,176.25 292.30,177.30 C291.43,178.35 289.15,178.27 288.40,177.30 C287.65,176.33 288.53,172.72 287.80,171.50 C287.07,170.28 284.97,170.28 284.00,170.00 C283.03,169.72 283.33,169.47 282.00,169.80 C280.67,170.13 277.67,171.22 276.00,172.00 C274.33,172.78 273.25,173.75 272.00,174.50 C270.75,175.25 269.25,176.92 268.50,176.50 C267.75,176.08 267.58,173.75 267.50,172.00 C267.42,170.25 267.87,168.00 268.00,166.00 C268.13,164.00 268.13,161.88 268.30,160.00 C268.47,158.12 268.05,155.77 269.00,154.70 Z" fill="#00A9FF" />
<path d="M303.50,155.50 C303.92,154.50 305.63,154.25 307.00,153.80 C308.37,153.35 310.20,153.02 311.70,152.80 C313.20,152.58 314.50,152.43 316.00,152.50 C317.50,152.57 319.43,152.75 320.70,153.20 C321.97,153.65 322.98,154.07 323.60,155.20 C324.22,156.33 324.30,158.20 324.40,160.00 C324.50,161.80 324.30,164.33 324.20,166.00 C324.10,167.67 324.25,168.58 323.80,170.00 C323.35,171.42 322.55,173.57 321.50,174.50 C320.45,175.43 318.70,175.57 317.50,175.60 C316.30,175.63 315.17,175.47 314.30,174.70 C313.43,173.93 312.55,172.62 312.30,171.00 C312.05,169.38 312.77,166.50 312.80,165.00 C312.83,163.50 313.13,162.83 312.50,162.00 C311.87,161.17 310.33,160.37 309.00,160.00 C307.67,159.63 305.42,160.55 304.50,159.80 C303.58,159.05 303.08,156.50 303.50,155.50 Z" fill="#00BFC4" />
<path d="M266.5,184 L267.2,176" stroke="#00BE67" stroke-width="1.6" fill="none"/>
<path d="M240.50,185.20 C241.10,184.07 241.35,183.68 242.60,183.20 C243.85,182.72 245.93,182.50 248.00,182.30 C250.07,182.10 253.00,182.08 255.00,182.00 C257.00,181.92 258.50,181.70 260.00,181.80 C261.50,181.90 262.97,182.03 264.00,182.60 C265.03,183.17 264.87,184.72 266.20,185.20 C267.53,185.68 270.03,185.37 272.00,185.50 C273.97,185.63 276.17,185.75 278.00,186.00 C279.83,186.25 282.33,186.50 283.00,187.00 C283.67,187.50 283.33,188.73 282.00,189.00 C280.67,189.27 277.33,188.67 275.00,188.60 C272.67,188.53 269.75,188.37 268.00,188.60 C266.25,188.83 265.20,188.77 264.50,190.00 C263.80,191.23 264.22,193.83 263.80,196.00 C263.38,198.17 262.80,201.00 262.00,203.00 C261.20,205.00 259.95,206.53 259.00,208.00 C258.05,209.47 257.08,211.22 256.30,211.80 C255.52,212.38 255.02,212.30 254.30,211.50 C253.58,210.70 253.30,208.67 252.00,207.00 C250.70,205.33 248.17,202.92 246.50,201.50 C244.83,200.08 243.15,199.58 242.00,198.50 C240.85,197.42 240.10,196.42 239.60,195.00 C239.10,193.58 238.85,191.63 239.00,190.00 C239.15,188.37 239.90,186.33 240.50,185.20 Z" fill="#00BE67" />
<path d="M264.50,189.00 C265.47,187.75 267.92,187.75 270.00,187.50 C272.08,187.25 274.75,187.33 277.00,187.50 C279.25,187.67 282.08,187.58 283.50,188.50 C284.92,189.42 285.42,191.25 285.50,193.00 C285.58,194.75 284.83,197.08 284.00,199.00 C283.17,200.92 282.17,203.30 280.50,204.50 C278.83,205.70 276.00,206.08 274.00,206.20 C272.00,206.32 269.97,206.07 268.50,205.20 C267.03,204.33 265.92,202.70 265.20,201.00 C264.48,199.30 264.32,197.00 264.20,195.00 C264.08,193.00 263.53,190.25 264.50,189.00 Z" fill="#00BFC4" />
<path d="M283.50,188.50 C284.32,187.37 286.78,186.57 288.70,186.20 C290.62,185.83 293.03,186.00 295.00,186.30 C296.97,186.60 299.83,186.88 300.50,188.00 C301.17,189.12 299.50,191.25 299.00,193.00 C298.50,194.75 297.87,196.42 297.50,198.50 C297.13,200.58 296.47,203.33 296.80,205.50 C297.13,207.67 298.30,209.50 299.50,211.50 C300.70,213.50 301.60,215.82 304.00,217.50 C306.40,219.18 310.38,220.55 313.90,221.60 C317.42,222.65 322.10,222.68 325.10,223.80 C328.10,224.92 329.63,226.20 331.90,228.30 C334.17,230.40 336.97,233.17 338.70,236.40 C340.43,239.63 341.45,244.10 342.30,247.70 C343.15,251.30 343.58,254.78 343.80,258.00 C344.02,261.22 343.90,264.33 343.60,267.00 C343.30,269.67 343.43,272.20 342.00,274.00 C340.57,275.80 338.47,277.13 335.00,277.80 C331.53,278.47 324.87,278.47 321.20,278.00 C317.53,277.53 315.52,276.75 313.00,275.00 C310.48,273.25 308.17,269.93 306.10,267.50 C304.03,265.07 302.43,262.50 300.60,260.40 C298.77,258.30 296.02,256.73 295.10,254.90 C294.18,253.07 294.62,250.42 295.10,249.40 C295.58,248.38 296.38,249.27 298.00,248.80 C299.62,248.33 302.92,247.90 304.80,246.60 C306.68,245.30 308.33,243.27 309.30,241.00 C310.27,238.73 310.97,235.67 310.60,233.00 C310.23,230.33 308.82,227.25 307.10,225.00 C305.38,222.75 302.75,221.73 300.30,219.50 C297.85,217.27 294.28,214.18 292.40,211.60 C290.52,209.02 290.07,206.35 289.00,204.00 C287.93,201.65 286.87,199.33 286.00,197.50 C285.13,195.67 284.22,194.50 283.80,193.00 C283.38,191.50 282.68,189.63 283.50,188.50 Z" fill="#F8766D" />
<path d="M298.60,178.20 C298.98,177.90 300.62,181.62 301.80,182.70 C302.98,183.78 304.20,183.83 305.70,184.70 C307.20,185.57 308.87,187.15 310.80,187.90 C312.73,188.65 315.57,188.77 317.30,189.20 C319.03,189.63 319.48,190.28 321.20,190.50 C322.92,190.72 326.00,190.18 327.60,190.50 C329.20,190.82 330.23,191.32 330.80,192.40 C331.37,193.48 331.00,195.60 331.00,197.00 C331.00,198.40 331.37,199.83 330.80,200.80 C330.23,201.77 328.78,201.93 327.60,202.80 C326.42,203.67 324.67,204.82 323.70,206.00 C322.73,207.18 322.65,209.37 321.80,209.90 C320.95,210.43 319.57,210.07 318.60,209.20 C317.63,208.33 316.87,206.53 316.00,204.70 C315.13,202.87 314.27,199.92 313.40,198.20 C312.53,196.48 312.08,195.25 310.80,194.40 C309.52,193.55 307.42,193.53 305.70,193.10 C303.98,192.67 302.03,192.23 300.50,191.80 C298.97,191.37 297.25,191.30 296.50,190.50 C295.75,189.70 295.50,188.00 296.00,187.00 C296.50,186.00 299.07,185.97 299.50,184.50 C299.93,183.03 298.22,178.50 298.60,178.20 Z" fill="#DA9100" />
<path d="M220.50,250.00 C220.53,247.75 221.25,245.25 222.50,243.50 C223.75,241.75 225.75,240.53 228.00,239.50 C230.25,238.47 233.50,237.80 236.00,237.30 C238.50,236.80 241.17,236.97 243.00,236.50 C244.83,236.03 245.92,234.55 247.00,234.50 C248.08,234.45 248.25,235.65 249.50,236.20 C250.75,236.75 252.92,236.92 254.50,237.80 C256.08,238.68 257.98,239.88 259.00,241.50 C260.02,243.12 260.52,245.42 260.60,247.50 C260.68,249.58 260.52,252.00 259.50,254.00 C258.48,256.00 256.67,258.03 254.50,259.50 C252.33,260.97 249.58,262.12 246.50,262.80 C243.42,263.48 239.17,263.77 236.00,263.60 C232.83,263.43 229.78,262.90 227.50,261.80 C225.22,260.70 223.47,258.97 222.30,257.00 C221.13,255.03 220.47,252.25 220.50,250.00 Z" fill="#6CAB00" />
<path d="M254.60,235.00 C254.73,234.05 255.80,233.97 256.40,234.80 C257.00,235.63 257.87,238.05 258.20,240.00 C258.53,241.95 258.63,245.47 258.40,246.50 C258.17,247.53 257.27,247.20 256.80,246.20 C256.33,245.20 255.97,242.37 255.60,240.50 C255.23,238.63 254.47,235.95 254.60,235.00 Z" fill="#FF61CC" />
<path d="M251.30,211.60 C251.98,210.73 254.98,210.73 255.60,211.80 C256.22,212.87 255.27,216.10 255.00,218.00 C254.73,219.90 254.47,222.37 254.00,223.20 C253.53,224.03 252.62,224.03 252.20,223.00 C251.78,221.97 251.65,218.90 251.50,217.00 C251.35,215.10 250.62,212.47 251.30,211.60 Z" fill="#FF61CC" />
<path d="M258.50,214.50 C259.33,213.83 262.58,215.17 265.00,215.50 C267.42,215.83 271.83,215.50 273.00,216.50 C274.17,217.50 273.17,220.62 272.00,221.50 C270.83,222.38 268.00,222.13 266.00,221.80 C264.00,221.47 261.25,220.72 260.00,219.50 C258.75,218.28 257.67,215.17 258.50,214.50 Z" fill="#C77CFF" />
<path d="M268.00,208.00 C268.83,206.67 274.17,205.67 276.00,206.00 C277.83,206.33 279.17,208.33 279.00,210.00 C278.83,211.67 276.33,215.33 275.00,216.00 C273.67,216.67 272.17,215.33 271.00,214.00 C269.83,212.67 267.17,209.33 268.00,208.00 Z" fill="#00A9FF" />
<path d="M295.50,249.00 C296.17,248.08 298.17,247.50 299.00,248.50 C299.83,249.50 300.75,253.33 300.50,255.00 C300.25,256.67 298.42,258.67 297.50,258.50 C296.58,258.33 295.33,255.58 295.00,254.00 C294.67,252.42 294.83,249.92 295.50,249.00 Z" fill="#00A9FF" />
<path d="M282.60,163.50 C283.47,162.15 285.85,161.15 288.00,160.50 C290.15,159.85 294.58,158.98 295.50,159.60 C296.42,160.22 294.55,162.70 293.50,164.20 C292.45,165.70 290.52,167.60 289.20,168.60 C287.88,169.60 286.67,170.20 285.60,170.20 C284.53,170.20 283.30,169.72 282.80,168.60 C282.30,167.48 281.73,164.85 282.60,163.50 Z" fill="#fff" />
<path d="M296.5,160.5 L287.5,176" stroke="#00A9FF" stroke-width="2.2"/>
<g fill="#fff"><circle cx="289.9" cy="171.1" r="0.54"/><circle cx="290.9" cy="174.9" r="0.33"/><circle cx="284.4" cy="159.1" r="0.46"/><circle cx="275.3" cy="159.9" r="0.57"/><circle cx="295.1" cy="157.0" r="0.54"/><circle cx="272.5" cy="168.1" r="0.34"/><circle cx="275.0" cy="158.4" r="0.59"/><circle cx="298.9" cy="160.2" r="0.59"/><circle cx="286.9" cy="169.5" r="0.36"/><circle cx="278.3" cy="161.9" r="0.35"/><circle cx="272.7" cy="154.8" r="0.39"/><circle cx="291.9" cy="161.3" r="0.39"/><circle cx="297.0" cy="164.8" r="0.39"/><circle cx="284.8" cy="170.2" r="0.32"/><circle cx="268.2" cy="172.2" r="0.41"/><circle cx="269.2" cy="157.6" r="0.59"/><circle cx="274.6" cy="171.4" r="0.58"/><circle cx="301.4" cy="161.5" r="0.41"/><circle cx="271.4" cy="171.2" r="0.54"/><circle cx="279.8" cy="167.9" r="0.58"/><circle cx="287.1" cy="160.7" r="0.40"/><circle cx="273.9" cy="155.1" r="0.34"/><circle cx="292.3" cy="177.2" r="0.35"/><circle cx="286.7" cy="163.0" r="0.37"/><circle cx="288.9" cy="173.1" r="0.44"/><circle cx="282.7" cy="154.5" r="0.57"/><circle cx="268.7" cy="165.1" r="0.55"/><circle cx="272.2" cy="170.8" r="0.58"/><circle cx="290.2" cy="172.2" r="0.33"/><circle cx="283.1" cy="156.8" r="0.55"/><circle cx="278.1" cy="164.1" r="0.60"/><circle cx="283.8" cy="165.0" r="0.52"/><circle cx="284.7" cy="160.2" r="0.42"/><circle cx="272.8" cy="162.3" r="0.60"/><circle cx="285.5" cy="161.4" r="0.33"/><circle cx="298.7" cy="161.9" r="0.54"/><circle cx="291.4" cy="171.5" r="0.41"/><circle cx="292.9" cy="160.0" r="0.45"/><circle cx="290.9" cy="167.2" r="0.30"/><circle cx="287.2" cy="159.2" r="0.50"/><circle cx="290.8" cy="172.4" r="0.40"/><circle cx="290.7" cy="171.0" r="0.55"/><circle cx="286.2" cy="166.0" r="0.35"/><circle cx="284.7" cy="169.9" r="0.52"/><circle cx="293.8" cy="157.3" r="0.53"/></g>
<g fill="#fff"><circle cx="315.6" cy="167.9" r="0.41"/><circle cx="316.5" cy="170.4" r="0.46"/><circle cx="318.6" cy="153.1" r="0.34"/><circle cx="312.7" cy="167.5" r="0.35"/><circle cx="317.8" cy="167.1" r="0.31"/><circle cx="313.4" cy="157.7" r="0.31"/><circle cx="306.3" cy="159.8" r="0.35"/><circle cx="313.2" cy="161.3" r="0.45"/><circle cx="315.8" cy="158.0" r="0.53"/><circle cx="311.3" cy="153.3" r="0.45"/><circle cx="316.9" cy="161.0" r="0.34"/><circle cx="316.0" cy="165.5" r="0.54"/><circle cx="323.7" cy="166.6" r="0.39"/><circle cx="316.4" cy="155.8" r="0.46"/><circle cx="322.1" cy="161.2" r="0.41"/><circle cx="308.2" cy="159.2" r="0.54"/><circle cx="322.6" cy="166.3" r="0.36"/><circle cx="324.0" cy="164.0" r="0.40"/><circle cx="313.8" cy="159.1" r="0.42"/><circle cx="312.8" cy="159.3" r="0.50"/><circle cx="314.6" cy="158.8" r="0.53"/><circle cx="319.8" cy="158.2" r="0.37"/></g>
<g fill="#fff"><circle cx="270.4" cy="198.9" r="0.39"/><circle cx="277.9" cy="198.8" r="0.45"/><circle cx="266.7" cy="201.7" r="0.36"/><circle cx="275.6" cy="193.8" r="0.36"/><circle cx="275.5" cy="196.2" r="0.37"/><circle cx="280.1" cy="198.5" r="0.31"/><circle cx="269.6" cy="196.0" r="0.48"/><circle cx="283.1" cy="197.7" r="0.30"/><circle cx="280.8" cy="195.5" r="0.42"/><circle cx="279.3" cy="199.3" r="0.40"/><circle cx="283.6" cy="194.7" r="0.38"/><circle cx="282.3" cy="191.2" r="0.36"/><circle cx="281.9" cy="188.7" r="0.47"/><circle cx="279.0" cy="195.6" r="0.36"/></g>
<g fill="#fff"><circle cx="315.2" cy="194.0" r="0.38"/><circle cx="323.7" cy="199.2" r="0.31"/><circle cx="321.3" cy="209.2" r="0.55"/><circle cx="318.6" cy="208.4" r="0.48"/><circle cx="300.7" cy="187.5" r="0.53"/><circle cx="299.8" cy="190.2" r="0.32"/><circle cx="322.0" cy="206.0" r="0.33"/><circle cx="311.1" cy="188.2" r="0.45"/><circle cx="318.1" cy="194.2" r="0.53"/><circle cx="315.4" cy="197.9" r="0.37"/><circle cx="322.3" cy="194.6" r="0.33"/><circle cx="304.2" cy="190.0" r="0.48"/><circle cx="312.8" cy="188.4" r="0.50"/><circle cx="329.3" cy="199.8" r="0.36"/><circle cx="319.3" cy="204.2" r="0.33"/><circle cx="317.9" cy="189.4" r="0.36"/><circle cx="308.2" cy="190.4" r="0.33"/><circle cx="325.1" cy="198.7" r="0.50"/><circle cx="314.1" cy="197.0" r="0.44"/><circle cx="321.9" cy="190.7" r="0.32"/><circle cx="327.1" cy="197.8" r="0.41"/><circle cx="301.4" cy="183.2" r="0.39"/><circle cx="301.3" cy="186.3" r="0.37"/><circle cx="301.7" cy="187.3" r="0.36"/><circle cx="328.8" cy="200.0" r="0.47"/></g>
<g fill="#fff"><circle cx="251.8" cy="202.0" r="0.41"/><circle cx="246.2" cy="187.8" r="0.30"/><circle cx="249.1" cy="184.1" r="0.36"/><circle cx="252.7" cy="195.8" r="0.34"/><circle cx="246.2" cy="189.0" r="0.40"/><circle cx="254.4" cy="184.6" r="0.31"/><circle cx="249.7" cy="183.3" r="0.36"/><circle cx="241.6" cy="189.5" r="0.36"/><circle cx="252.5" cy="183.3" r="0.31"/><circle cx="281.8" cy="187.2" r="0.38"/></g>
<g fill="#00A9FF"><circle cx="291.8" cy="179.3" r="0.51"/><circle cx="284.0" cy="153.3" r="0.52"/><circle cx="302.4" cy="159.3" r="0.43"/><circle cx="290.4" cy="177.4" r="0.50"/><circle cx="268.9" cy="157.1" r="0.37"/><circle cx="297.1" cy="166.4" r="0.43"/><circle cx="293.6" cy="156.2" r="0.37"/><circle cx="287.5" cy="171.1" r="0.45"/><circle cx="303.6" cy="160.9" r="0.42"/><circle cx="286.6" cy="153.7" r="0.50"/><circle cx="272.6" cy="152.5" r="0.46"/><circle cx="286.7" cy="169.8" r="0.35"/><circle cx="277.6" cy="155.0" r="0.43"/><circle cx="293.8" cy="156.2" r="0.45"/><circle cx="296.0" cy="169.8" r="0.46"/><circle cx="271.3" cy="154.2" r="0.44"/><circle cx="298.4" cy="165.2" r="0.44"/><circle cx="293.0" cy="172.7" r="0.47"/><circle cx="302.1" cy="157.4" r="0.38"/><circle cx="268.5" cy="158.3" r="0.44"/><circle cx="295.4" cy="168.8" r="0.44"/><circle cx="287.4" cy="171.0" r="0.44"/><circle cx="284.1" cy="170.9" r="0.43"/><circle cx="277.1" cy="153.5" r="0.40"/><circle cx="268.4" cy="155.7" r="0.41"/><circle cx="301.3" cy="158.0" r="0.51"/><circle cx="293.2" cy="175.8" r="0.52"/><circle cx="276.9" cy="153.6" r="0.52"/><circle cx="284.0" cy="170.4" r="0.50"/><circle cx="295.9" cy="169.7" r="0.41"/><circle cx="267.8" cy="163.1" r="0.39"/><circle cx="267.1" cy="159.9" r="0.39"/><circle cx="291.7" cy="176.2" r="0.45"/><circle cx="278.9" cy="170.0" r="0.55"/><circle cx="268.3" cy="175.1" r="0.46"/><circle cx="287.1" cy="174.4" r="0.45"/><circle cx="299.2" cy="166.8" r="0.47"/><circle cx="268.7" cy="157.8" r="0.54"/><circle cx="303.3" cy="158.9" r="0.54"/><circle cx="293.5" cy="174.1" r="0.47"/></g>
<g fill="#00BFC4"><circle cx="324.7" cy="163.1" r="0.42"/><circle cx="313.6" cy="163.8" r="0.39"/><circle cx="304.6" cy="155.3" r="0.43"/><circle cx="321.0" cy="152.2" r="0.55"/><circle cx="324.0" cy="170.3" r="0.40"/><circle cx="316.2" cy="153.6" r="0.50"/><circle cx="322.8" cy="168.1" r="0.48"/><circle cx="311.7" cy="164.2" r="0.53"/><circle cx="321.5" cy="175.9" r="0.42"/><circle cx="313.7" cy="165.7" r="0.47"/><circle cx="323.8" cy="157.7" r="0.51"/><circle cx="316.1" cy="175.3" r="0.52"/><circle cx="313.8" cy="151.7" r="0.54"/><circle cx="322.6" cy="168.5" r="0.52"/><circle cx="304.4" cy="155.5" r="0.38"/><circle cx="318.0" cy="153.2" r="0.50"/><circle cx="326.2" cy="157.6" r="0.48"/><circle cx="318.0" cy="152.2" r="0.41"/><circle cx="323.3" cy="156.1" r="0.37"/><circle cx="312.7" cy="165.4" r="0.55"/><circle cx="314.9" cy="174.2" r="0.42"/><circle cx="315.1" cy="152.1" r="0.35"/><circle cx="304.5" cy="159.2" r="0.42"/><circle cx="320.2" cy="153.8" r="0.51"/><circle cx="316.5" cy="154.2" r="0.45"/><circle cx="308.7" cy="153.5" r="0.49"/><circle cx="322.3" cy="154.3" r="0.55"/><circle cx="312.8" cy="166.9" r="0.38"/><circle cx="311.8" cy="152.0" r="0.35"/><circle cx="324.3" cy="172.0" r="0.37"/></g>
<g fill="#00BE67"><circle cx="267.4" cy="185.1" r="0.45"/><circle cx="281.5" cy="185.7" r="0.35"/><circle cx="265.0" cy="182.7" r="0.47"/><circle cx="240.3" cy="196.1" r="0.35"/><circle cx="240.8" cy="186.8" r="0.53"/><circle cx="268.2" cy="188.1" r="0.42"/><circle cx="280.1" cy="189.7" r="0.55"/><circle cx="268.7" cy="185.8" r="0.42"/><circle cx="242.3" cy="184.3" r="0.44"/><circle cx="253.7" cy="182.3" r="0.38"/><circle cx="247.5" cy="199.4" r="0.47"/><circle cx="262.6" cy="182.6" r="0.47"/><circle cx="240.2" cy="185.1" r="0.50"/><circle cx="272.8" cy="189.3" r="0.53"/><circle cx="239.2" cy="192.6" r="0.43"/><circle cx="281.5" cy="187.9" r="0.54"/><circle cx="277.9" cy="186.1" r="0.35"/><circle cx="266.1" cy="189.0" r="0.35"/><circle cx="267.4" cy="185.3" r="0.51"/><circle cx="247.0" cy="183.9" r="0.53"/><circle cx="241.3" cy="184.2" r="0.37"/><circle cx="270.8" cy="189.8" r="0.47"/><circle cx="264.4" cy="190.5" r="0.54"/><circle cx="253.1" cy="182.3" r="0.47"/><circle cx="259.3" cy="182.9" r="0.52"/><circle cx="261.9" cy="182.2" r="0.46"/><circle cx="253.6" cy="209.6" r="0.42"/><circle cx="260.6" cy="183.5" r="0.45"/><circle cx="262.8" cy="184.1" r="0.48"/><circle cx="267.8" cy="187.5" r="0.47"/><circle cx="262.8" cy="201.4" r="0.46"/><circle cx="240.2" cy="189.0" r="0.49"/><circle cx="249.5" cy="204.1" r="0.47"/><circle cx="256.1" cy="181.7" r="0.47"/><circle cx="254.7" cy="211.7" r="0.49"/></g>
<g fill="#DA9100"><circle cx="305.8" cy="184.1" r="0.45"/><circle cx="303.1" cy="192.7" r="0.52"/><circle cx="313.1" cy="189.4" r="0.41"/><circle cx="326.4" cy="203.9" r="0.38"/><circle cx="330.1" cy="193.4" r="0.44"/><circle cx="319.5" cy="190.1" r="0.47"/><circle cx="298.0" cy="187.9" r="0.38"/><circle cx="306.7" cy="192.9" r="0.38"/><circle cx="328.7" cy="199.1" r="0.39"/><circle cx="329.6" cy="196.2" r="0.52"/><circle cx="329.1" cy="202.9" r="0.52"/><circle cx="308.6" cy="193.1" r="0.54"/><circle cx="315.6" cy="189.1" r="0.52"/><circle cx="327.8" cy="202.3" r="0.54"/><circle cx="320.5" cy="211.1" r="0.37"/><circle cx="323.9" cy="206.3" r="0.42"/><circle cx="318.3" cy="209.5" r="0.54"/><circle cx="308.4" cy="194.0" r="0.43"/><circle cx="297.5" cy="190.0" r="0.41"/><circle cx="321.5" cy="209.8" r="0.50"/><circle cx="315.9" cy="189.4" r="0.48"/><circle cx="320.2" cy="210.7" r="0.54"/><circle cx="320.4" cy="207.3" r="0.38"/><circle cx="299.6" cy="180.1" r="0.51"/><circle cx="309.8" cy="196.0" r="0.48"/><circle cx="330.4" cy="201.1" r="0.45"/><circle cx="329.6" cy="200.4" r="0.43"/><circle cx="295.6" cy="189.6" r="0.54"/><circle cx="313.8" cy="189.2" r="0.48"/><circle cx="314.0" cy="203.3" r="0.51"/><circle cx="312.5" cy="197.5" r="0.42"/><circle cx="303.3" cy="183.6" r="0.35"/><circle cx="297.5" cy="190.2" r="0.52"/><circle cx="295.4" cy="191.1" r="0.38"/><circle cx="316.8" cy="209.0" r="0.41"/></g>
<g fill="#F8766D"><circle cx="341.4" cy="244.9" r="0.54"/><circle cx="305.7" cy="268.1" r="0.51"/><circle cx="297.5" cy="215.8" r="0.49"/><circle cx="284.3" cy="188.1" r="0.51"/><circle cx="294.8" cy="213.2" r="0.45"/><circle cx="303.1" cy="216.4" r="0.45"/><circle cx="306.8" cy="243.8" r="0.40"/><circle cx="322.5" cy="278.6" r="0.36"/><circle cx="284.6" cy="195.5" r="0.37"/><circle cx="301.5" cy="218.8" r="0.46"/><circle cx="284.4" cy="188.2" r="0.50"/><circle cx="298.7" cy="205.3" r="0.44"/><circle cx="318.5" cy="276.7" r="0.50"/><circle cx="292.6" cy="212.0" r="0.52"/><circle cx="344.4" cy="246.1" r="0.39"/><circle cx="298.3" cy="197.9" r="0.53"/><circle cx="334.3" cy="230.1" r="0.41"/><circle cx="300.7" cy="247.5" r="0.43"/><circle cx="338.7" cy="239.4" r="0.43"/><circle cx="289.8" cy="186.1" r="0.49"/><circle cx="325.9" cy="276.5" r="0.51"/><circle cx="311.3" cy="233.7" r="0.52"/><circle cx="302.5" cy="222.1" r="0.49"/><circle cx="294.4" cy="186.3" r="0.42"/><circle cx="297.2" cy="210.4" r="0.48"/><circle cx="332.5" cy="229.1" r="0.37"/><circle cx="285.5" cy="187.2" r="0.53"/><circle cx="295.4" cy="203.9" r="0.49"/><circle cx="295.7" cy="249.2" r="0.44"/><circle cx="296.7" cy="256.9" r="0.44"/><circle cx="301.5" cy="219.7" r="0.37"/><circle cx="285.2" cy="197.0" r="0.48"/><circle cx="305.5" cy="265.9" r="0.41"/><circle cx="296.5" cy="186.4" r="0.45"/><circle cx="297.9" cy="202.9" r="0.37"/><circle cx="286.5" cy="200.9" r="0.38"/><circle cx="324.4" cy="276.9" r="0.45"/><circle cx="314.1" cy="275.3" r="0.43"/><circle cx="308.2" cy="242.0" r="0.37"/><circle cx="295.5" cy="255.9" r="0.42"/><circle cx="287.6" cy="201.0" r="0.52"/><circle cx="300.2" cy="190.5" r="0.44"/><circle cx="284.4" cy="195.1" r="0.45"/><circle cx="304.8" cy="224.1" r="0.54"/><circle cx="298.4" cy="213.0" r="0.41"/><circle cx="296.7" cy="249.0" r="0.35"/><circle cx="322.5" cy="223.3" r="0.50"/><circle cx="301.5" cy="189.0" r="0.41"/><circle cx="343.3" cy="258.5" r="0.42"/><circle cx="284.0" cy="195.6" r="0.44"/><circle cx="295.2" cy="186.7" r="0.47"/><circle cx="301.2" cy="216.1" r="0.42"/><circle cx="303.2" cy="211.4" r="0.38"/><circle cx="298.6" cy="219.0" r="0.35"/><circle cx="306.4" cy="245.3" r="0.53"/><circle cx="283.6" cy="191.2" r="0.51"/><circle cx="304.7" cy="245.2" r="0.45"/><circle cx="302.7" cy="216.9" r="0.47"/><circle cx="331.5" cy="227.7" r="0.36"/><circle cx="291.2" cy="207.8" r="0.55"/></g>
<g fill="#00BFC4"><circle cx="283.0" cy="200.3" r="0.37"/><circle cx="283.6" cy="188.6" r="0.53"/><circle cx="265.7" cy="194.3" r="0.53"/><circle cx="281.2" cy="203.9" r="0.40"/><circle cx="272.9" cy="189.8" r="0.52"/><circle cx="284.8" cy="196.1" r="0.50"/><circle cx="267.6" cy="203.9" r="0.45"/><circle cx="286.4" cy="194.2" r="0.53"/><circle cx="283.7" cy="200.7" r="0.52"/><circle cx="267.4" cy="188.9" r="0.41"/><circle cx="264.9" cy="192.7" r="0.44"/><circle cx="263.6" cy="194.6" r="0.35"/><circle cx="285.4" cy="194.4" r="0.48"/><circle cx="284.0" cy="189.2" r="0.53"/><circle cx="273.0" cy="186.4" r="0.47"/><circle cx="284.3" cy="191.4" r="0.37"/><circle cx="281.2" cy="186.9" r="0.49"/><circle cx="263.2" cy="193.1" r="0.52"/><circle cx="285.7" cy="193.5" r="0.51"/><circle cx="277.5" cy="205.2" r="0.48"/></g>
<circle cx="312.3" cy="254.3" r="0.60" fill="#fff"/><circle cx="314.2" cy="243.3" r="0.77" fill="#fff"/><circle cx="308.7" cy="256.0" r="0.48" fill="#fff"/><circle cx="309.0" cy="248.6" r="0.42" fill="#fff"/><circle cx="320.8" cy="269.1" r="0.39" fill="#fff"/><circle cx="319.3" cy="262.2" r="0.63" fill="#fff"/><circle cx="308.7" cy="247.3" r="0.48" fill="#fff"/><circle cx="336.6" cy="254.1" r="0.47" fill="#fff"/><circle cx="323.4" cy="255.5" r="0.42" fill="#fff"/><circle cx="329.3" cy="263.1" r="0.56" fill="#fff"/><circle cx="325.2" cy="264.7" r="0.78" fill="#fff"/><circle cx="327.6" cy="241.4" r="0.58" fill="#fff"/><circle cx="329.2" cy="250.6" r="0.66" fill="#fff"/><circle cx="319.8" cy="259.7" r="0.63" fill="#fff"/><circle cx="329.4" cy="269.6" r="0.67" fill="#fff"/><circle cx="330.7" cy="262.5" r="0.45" fill="#fff"/><circle cx="327.7" cy="259.9" r="0.38" fill="#fff"/><circle cx="332.1" cy="247.3" r="0.57" fill="#fff"/><circle cx="324.8" cy="263.1" r="0.69" fill="#fff"/><circle cx="323.0" cy="270.1" r="0.55" fill="#fff"/><circle cx="326.1" cy="271.7" r="0.50" fill="#fff"/><circle cx="330.8" cy="270.6" r="0.39" fill="#fff"/><circle cx="332.9" cy="260.9" r="0.59" fill="#fff"/><circle cx="333.3" cy="267.5" r="0.42" fill="#fff"/><circle cx="323.6" cy="259.7" r="0.66" fill="#fff"/><circle cx="338.7" cy="265.7" r="0.72" fill="#fff"/><circle cx="310.1" cy="253.6" r="0.76" fill="#fff"/><circle cx="338.3" cy="264.2" r="0.50" fill="#fff"/><circle cx="332.6" cy="257.0" r="0.65" fill="#fff"/><circle cx="328.4" cy="267.7" r="0.67" fill="#fff"/><circle cx="339.1" cy="255.8" r="0.57" fill="#fff"/><circle cx="329.0" cy="258.0" r="0.37" fill="#fff"/><circle cx="338.7" cy="250.2" r="0.57" fill="#fff"/><circle cx="309.4" cy="246.1" r="0.77" fill="#fff"/><circle cx="316.9" cy="249.6" r="0.72" fill="#fff"/><circle cx="315.7" cy="261.4" r="0.61" fill="#fff"/><circle cx="336.7" cy="255.3" r="0.50" fill="#fff"/><circle cx="316.3" cy="251.6" r="0.35" fill="#fff"/><circle cx="311.8" cy="244.8" r="0.49" fill="#fff"/><circle cx="332.6" cy="270.1" r="0.51" fill="#fff"/><circle cx="316.0" cy="249.4" r="0.63" fill="#fff"/><circle cx="323.3" cy="243.8" r="0.59" fill="#fff"/><circle cx="316.6" cy="244.6" r="0.70" fill="#fff"/><circle cx="311.4" cy="254.1" r="0.69" fill="#fff"/><circle cx="325.4" cy="268.0" r="0.49" fill="#fff"/><circle cx="338.3" cy="241.4" r="0.75" fill="#fff"/><circle cx="321.6" cy="240.1" r="0.47" fill="#fff"/><circle cx="339.6" cy="262.9" r="0.68" fill="#fff"/><circle cx="334.0" cy="240.2" r="0.49" fill="#fff"/><circle cx="322.9" cy="269.1" r="0.76" fill="#fff"/><circle cx="312.8" cy="271.6" r="0.60" fill="#fff"/><circle cx="317.7" cy="242.6" r="0.54" fill="#fff"/><circle cx="324.7" cy="254.5" r="0.49" fill="#fff"/><circle cx="338.3" cy="255.2" r="0.49" fill="#fff"/><circle cx="332.9" cy="247.8" r="0.54" fill="#fff"/><circle cx="311.3" cy="247.6" r="0.80" fill="#fff"/><circle cx="327.9" cy="256.8" r="0.65" fill="#fff"/><circle cx="329.5" cy="256.7" r="0.52" fill="#fff"/><circle cx="312.7" cy="240.9" r="0.40" fill="#fff"/><circle cx="321.0" cy="240.3" r="0.65" fill="#fff"/><circle cx="318.8" cy="247.5" r="0.49" fill="#fff"/><circle cx="323.8" cy="246.7" r="0.73" fill="#fff"/><circle cx="323.5" cy="242.2" r="0.39" fill="#fff"/><circle cx="336.5" cy="258.5" r="0.48" fill="#fff"/><circle cx="330.8" cy="241.5" r="0.75" fill="#fff"/><circle cx="338.0" cy="261.3" r="0.37" fill="#fff"/><circle cx="321.6" cy="266.8" r="0.62" fill="#fff"/><circle cx="314.7" cy="247.5" r="0.38" fill="#fff"/><circle cx="324.7" cy="245.8" r="0.55" fill="#fff"/><circle cx="336.7" cy="268.8" r="0.57" fill="#fff"/><circle cx="335.4" cy="192.1" r="0.73" fill="#fff"/><circle cx="337.5" cy="197.7" r="0.70" fill="#fff"/><circle cx="322.7" cy="205.7" r="0.48" fill="#fff"/><circle cx="339.0" cy="203.4" r="0.72" fill="#fff"/><circle cx="333.9" cy="191.2" r="0.46" fill="#fff"/><circle cx="332.0" cy="204.5" r="0.62" fill="#fff"/><circle cx="316.0" cy="195.6" r="0.49" fill="#fff"/><circle cx="319.5" cy="193.6" r="0.56" fill="#fff"/><circle cx="324.7" cy="194.3" r="0.51" fill="#fff"/><circle cx="339.6" cy="199.5" r="0.65" fill="#fff"/><circle cx="339.2" cy="190.5" r="0.70" fill="#fff"/><circle cx="317.5" cy="193.1" r="0.65" fill="#fff"/><circle cx="334.6" cy="199.8" r="0.54" fill="#fff"/><circle cx="333.8" cy="196.8" r="0.43" fill="#fff"/><circle cx="313.5" cy="220.7" r="0.45" fill="#00BFC4"/><circle cx="307.2" cy="220.9" r="0.45" fill="#00BFC4"/><circle cx="338.3" cy="236.4" r="0.45" fill="#00BFC4"/><circle cx="320.0" cy="223.1" r="0.45" fill="#00BFC4"/><circle cx="332.6" cy="231.3" r="0.45" fill="#00BFC4"/><circle cx="311.8" cy="221.3" r="0.45" fill="#00BFC4"/><circle cx="337.6" cy="235.3" r="0.45" fill="#00BFC4"/><circle cx="321.6" cy="223.8" r="0.45" fill="#00BFC4"/><circle cx="327.7" cy="227.5" r="0.45" fill="#00BFC4"/><circle cx="316.1" cy="221.7" r="0.45" fill="#00BFC4"/><circle cx="326.6" cy="226.9" r="0.45" fill="#00BFC4"/><circle cx="322.6" cy="224.8" r="0.45" fill="#00BFC4"/><circle cx="322.1" cy="224.9" r="0.45" fill="#00BFC4"/><circle cx="320.9" cy="224.1" r="0.45" fill="#00BFC4"/><circle cx="337.6" cy="236.0" r="0.45" fill="#00BFC4"/><circle cx="326.0" cy="226.9" r="0.45" fill="#00BFC4"/><circle cx="330.2" cy="229.1" r="0.45" fill="#00BFC4"/><circle cx="320.2" cy="223.0" r="0.45" fill="#00BFC4"/><circle cx="306.7" cy="220.5" r="0.45" fill="#00BFC4"/><circle cx="317.2" cy="222.0" r="0.45" fill="#00BFC4"/><circle cx="306.9" cy="219.7" r="0.45" fill="#00BFC4"/><circle cx="328.8" cy="228.3" r="0.45" fill="#00BFC4"/><circle cx="220.6" cy="255.5" r="0.45" fill="#6CAB00"/><circle cx="258.4" cy="241.7" r="0.45" fill="#6CAB00"/><circle cx="244.7" cy="264.8" r="0.45" fill="#6CAB00"/><circle cx="249.0" cy="263.0" r="0.45" fill="#6CAB00"/><circle cx="227.8" cy="238.9" r="0.45" fill="#6CAB00"/><circle cx="256.7" cy="240.5" r="0.45" fill="#6CAB00"/><circle cx="235.4" cy="236.7" r="0.45" fill="#6CAB00"/><circle cx="250.4" cy="237.7" r="0.45" fill="#6CAB00"/><circle cx="224.4" cy="239.8" r="0.45" fill="#6CAB00"/><circle cx="231.5" cy="262.2" r="0.45" fill="#6CAB00"/><circle cx="229.6" cy="263.1" r="0.45" fill="#6CAB00"/><circle cx="228.9" cy="237.9" r="0.45" fill="#6CAB00"/><circle cx="220.6" cy="244.3" r="0.45" fill="#6CAB00"/><circle cx="238.9" cy="263.2" r="0.45" fill="#6CAB00"/><circle cx="256.8" cy="259.0" r="0.45" fill="#6CAB00"/><circle cx="222.2" cy="240.9" r="0.45" fill="#6CAB00"/><circle cx="224.5" cy="239.5" r="0.45" fill="#6CAB00"/><circle cx="261.3" cy="248.6" r="0.45" fill="#6CAB00"/><circle cx="222.0" cy="256.5" r="0.45" fill="#6CAB00"/><circle cx="225.4" cy="260.5" r="0.45" fill="#6CAB00"/><circle cx="222.7" cy="243.6" r="0.45" fill="#6CAB00"/><circle cx="260.6" cy="245.8" r="0.45" fill="#6CAB00"/><circle cx="240.2" cy="235.4" r="0.45" fill="#6CAB00"/><circle cx="222.4" cy="242.2" r="0.45" fill="#6CAB00"/><circle cx="255.3" cy="258.7" r="0.45" fill="#6CAB00"/><circle cx="237.9" cy="235.9" r="0.45" fill="#6CAB00"/><circle cx="255.5" cy="260.6" r="0.45" fill="#6CAB00"/><circle cx="240.1" cy="235.0" r="0.45" fill="#6CAB00"/><circle cx="225.3" cy="258.6" r="0.45" fill="#6CAB00"/><circle cx="241.6" cy="236.1" r="0.45" fill="#6CAB00"/><circle cx="229.8" cy="237.0" r="0.45" fill="#6CAB00"/><circle cx="237.6" cy="263.0" r="0.45" fill="#6CAB00"/><circle cx="222.0" cy="241.8" r="0.45" fill="#6CAB00"/><circle cx="221.4" cy="241.8" r="0.45" fill="#6CAB00"/><circle cx="243.3" cy="264.4" r="0.45" fill="#6CAB00"/><circle cx="220.9" cy="255.5" r="0.45" fill="#6CAB00"/><circle cx="233.9" cy="262.8" r="0.45" fill="#6CAB00"/><circle cx="220.1" cy="245.5" r="0.45" fill="#6CAB00"/><circle cx="258.3" cy="242.0" r="0.45" fill="#6CAB00"/><circle cx="219.0" cy="249.8" r="0.45" fill="#6CAB00"/>
<g transform="translate(254.6,-27.45) scale(0.315)"><path d="M269.00,154.70 C269.95,153.63 272.27,153.85 274.00,153.60 C275.73,153.35 277.40,153.05 279.40,153.20 C281.40,153.35 283.85,154.03 286.00,154.50 C288.15,154.97 290.38,155.87 292.30,156.00 C294.22,156.13 295.78,155.08 297.50,155.30 C299.22,155.52 301.60,156.52 302.60,157.30 C303.60,158.08 303.93,158.88 303.50,160.00 C303.07,161.12 300.78,163.05 300.00,164.00 C299.22,164.95 299.63,164.95 298.80,165.70 C297.97,166.45 295.87,167.62 295.00,168.50 C294.13,169.38 294.05,169.53 293.60,171.00 C293.15,172.47 293.17,176.25 292.30,177.30 C291.43,178.35 289.15,178.27 288.40,177.30 C287.65,176.33 288.53,172.72 287.80,171.50 C287.07,170.28 284.97,170.28 284.00,170.00 C283.03,169.72 283.33,169.47 282.00,169.80 C280.67,170.13 277.67,171.22 276.00,172.00 C274.33,172.78 273.25,173.75 272.00,174.50 C270.75,175.25 269.25,176.92 268.50,176.50 C267.75,176.08 267.58,173.75 267.50,172.00 C267.42,170.25 267.87,168.00 268.00,166.00 C268.13,164.00 268.13,161.88 268.30,160.00 C268.47,158.12 268.05,155.77 269.00,154.70 Z" fill="#00A9FF" /><path d="M303.50,155.50 C303.92,154.50 305.63,154.25 307.00,153.80 C308.37,153.35 310.20,153.02 311.70,152.80 C313.20,152.58 314.50,152.43 316.00,152.50 C317.50,152.57 319.43,152.75 320.70,153.20 C321.97,153.65 322.98,154.07 323.60,155.20 C324.22,156.33 324.30,158.20 324.40,160.00 C324.50,161.80 324.30,164.33 324.20,166.00 C324.10,167.67 324.25,168.58 323.80,170.00 C323.35,171.42 322.55,173.57 321.50,174.50 C320.45,175.43 318.70,175.57 317.50,175.60 C316.30,175.63 315.17,175.47 314.30,174.70 C313.43,173.93 312.55,172.62 312.30,171.00 C312.05,169.38 312.77,166.50 312.80,165.00 C312.83,163.50 313.13,162.83 312.50,162.00 C311.87,161.17 310.33,160.37 309.00,160.00 C307.67,159.63 305.42,160.55 304.50,159.80 C303.58,159.05 303.08,156.50 303.50,155.50 Z" fill="#00BFC4" /><path d="M266.5,184 L267.2,176" stroke="#00BE67" stroke-width="1.6" fill="none"/><path d="M240.50,185.20 C241.10,184.07 241.35,183.68 242.60,183.20 C243.85,182.72 245.93,182.50 248.00,182.30 C250.07,182.10 253.00,182.08 255.00,182.00 C257.00,181.92 258.50,181.70 260.00,181.80 C261.50,181.90 262.97,182.03 264.00,182.60 C265.03,183.17 264.87,184.72 266.20,185.20 C267.53,185.68 270.03,185.37 272.00,185.50 C273.97,185.63 276.17,185.75 278.00,186.00 C279.83,186.25 282.33,186.50 283.00,187.00 C283.67,187.50 283.33,188.73 282.00,189.00 C280.67,189.27 277.33,188.67 275.00,188.60 C272.67,188.53 269.75,188.37 268.00,188.60 C266.25,188.83 265.20,188.77 264.50,190.00 C263.80,191.23 264.22,193.83 263.80,196.00 C263.38,198.17 262.80,201.00 262.00,203.00 C261.20,205.00 259.95,206.53 259.00,208.00 C258.05,209.47 257.08,211.22 256.30,211.80 C255.52,212.38 255.02,212.30 254.30,211.50 C253.58,210.70 253.30,208.67 252.00,207.00 C250.70,205.33 248.17,202.92 246.50,201.50 C244.83,200.08 243.15,199.58 242.00,198.50 C240.85,197.42 240.10,196.42 239.60,195.00 C239.10,193.58 238.85,191.63 239.00,190.00 C239.15,188.37 239.90,186.33 240.50,185.20 Z" fill="#00BE67" /><path d="M264.50,189.00 C265.47,187.75 267.92,187.75 270.00,187.50 C272.08,187.25 274.75,187.33 277.00,187.50 C279.25,187.67 282.08,187.58 283.50,188.50 C284.92,189.42 285.42,191.25 285.50,193.00 C285.58,194.75 284.83,197.08 284.00,199.00 C283.17,200.92 282.17,203.30 280.50,204.50 C278.83,205.70 276.00,206.08 274.00,206.20 C272.00,206.32 269.97,206.07 268.50,205.20 C267.03,204.33 265.92,202.70 265.20,201.00 C264.48,199.30 264.32,197.00 264.20,195.00 C264.08,193.00 263.53,190.25 264.50,189.00 Z" fill="#00BFC4" /><path d="M283.50,188.50 C284.32,187.37 286.78,186.57 288.70,186.20 C290.62,185.83 293.03,186.00 295.00,186.30 C296.97,186.60 299.83,186.88 300.50,188.00 C301.17,189.12 299.50,191.25 299.00,193.00 C298.50,194.75 297.87,196.42 297.50,198.50 C297.13,200.58 296.47,203.33 296.80,205.50 C297.13,207.67 298.30,209.50 299.50,211.50 C300.70,213.50 301.60,215.82 304.00,217.50 C306.40,219.18 310.38,220.55 313.90,221.60 C317.42,222.65 322.10,222.68 325.10,223.80 C328.10,224.92 329.63,226.20 331.90,228.30 C334.17,230.40 336.97,233.17 338.70,236.40 C340.43,239.63 341.45,244.10 342.30,247.70 C343.15,251.30 343.58,254.78 343.80,258.00 C344.02,261.22 343.90,264.33 343.60,267.00 C343.30,269.67 343.43,272.20 342.00,274.00 C340.57,275.80 338.47,277.13 335.00,277.80 C331.53,278.47 324.87,278.47 321.20,278.00 C317.53,277.53 315.52,276.75 313.00,275.00 C310.48,273.25 308.17,269.93 306.10,267.50 C304.03,265.07 302.43,262.50 300.60,260.40 C298.77,258.30 296.02,256.73 295.10,254.90 C294.18,253.07 294.62,250.42 295.10,249.40 C295.58,248.38 296.38,249.27 298.00,248.80 C299.62,248.33 302.92,247.90 304.80,246.60 C306.68,245.30 308.33,243.27 309.30,241.00 C310.27,238.73 310.97,235.67 310.60,233.00 C310.23,230.33 308.82,227.25 307.10,225.00 C305.38,222.75 302.75,221.73 300.30,219.50 C297.85,217.27 294.28,214.18 292.40,211.60 C290.52,209.02 290.07,206.35 289.00,204.00 C287.93,201.65 286.87,199.33 286.00,197.50 C285.13,195.67 284.22,194.50 283.80,193.00 C283.38,191.50 282.68,189.63 283.50,188.50 Z" fill="#F8766D" /><path d="M298.60,178.20 C298.98,177.90 300.62,181.62 301.80,182.70 C302.98,183.78 304.20,183.83 305.70,184.70 C307.20,185.57 308.87,187.15 310.80,187.90 C312.73,188.65 315.57,188.77 317.30,189.20 C319.03,189.63 319.48,190.28 321.20,190.50 C322.92,190.72 326.00,190.18 327.60,190.50 C329.20,190.82 330.23,191.32 330.80,192.40 C331.37,193.48 331.00,195.60 331.00,197.00 C331.00,198.40 331.37,199.83 330.80,200.80 C330.23,201.77 328.78,201.93 327.60,202.80 C326.42,203.67 324.67,204.82 323.70,206.00 C322.73,207.18 322.65,209.37 321.80,209.90 C320.95,210.43 319.57,210.07 318.60,209.20 C317.63,208.33 316.87,206.53 316.00,204.70 C315.13,202.87 314.27,199.92 313.40,198.20 C312.53,196.48 312.08,195.25 310.80,194.40 C309.52,193.55 307.42,193.53 305.70,193.10 C303.98,192.67 302.03,192.23 300.50,191.80 C298.97,191.37 297.25,191.30 296.50,190.50 C295.75,189.70 295.50,188.00 296.00,187.00 C296.50,186.00 299.07,185.97 299.50,184.50 C299.93,183.03 298.22,178.50 298.60,178.20 Z" fill="#DA9100" /><path d="M220.50,250.00 C220.53,247.75 221.25,245.25 222.50,243.50 C223.75,241.75 225.75,240.53 228.00,239.50 C230.25,238.47 233.50,237.80 236.00,237.30 C238.50,236.80 241.17,236.97 243.00,236.50 C244.83,236.03 245.92,234.55 247.00,234.50 C248.08,234.45 248.25,235.65 249.50,236.20 C250.75,236.75 252.92,236.92 254.50,237.80 C256.08,238.68 257.98,239.88 259.00,241.50 C260.02,243.12 260.52,245.42 260.60,247.50 C260.68,249.58 260.52,252.00 259.50,254.00 C258.48,256.00 256.67,258.03 254.50,259.50 C252.33,260.97 249.58,262.12 246.50,262.80 C243.42,263.48 239.17,263.77 236.00,263.60 C232.83,263.43 229.78,262.90 227.50,261.80 C225.22,260.70 223.47,258.97 222.30,257.00 C221.13,255.03 220.47,252.25 220.50,250.00 Z" fill="#6CAB00" /><path d="M254.60,235.00 C254.73,234.05 255.80,233.97 256.40,234.80 C257.00,235.63 257.87,238.05 258.20,240.00 C258.53,241.95 258.63,245.47 258.40,246.50 C258.17,247.53 257.27,247.20 256.80,246.20 C256.33,245.20 255.97,242.37 255.60,240.50 C255.23,238.63 254.47,235.95 254.60,235.00 Z" fill="#FF61CC" /><path d="M251.30,211.60 C251.98,210.73 254.98,210.73 255.60,211.80 C256.22,212.87 255.27,216.10 255.00,218.00 C254.73,219.90 254.47,222.37 254.00,223.20 C253.53,224.03 252.62,224.03 252.20,223.00 C251.78,221.97 251.65,218.90 251.50,217.00 C251.35,215.10 250.62,212.47 251.30,211.60 Z" fill="#FF61CC" /><path d="M258.50,214.50 C259.33,213.83 262.58,215.17 265.00,215.50 C267.42,215.83 271.83,215.50 273.00,216.50 C274.17,217.50 273.17,220.62 272.00,221.50 C270.83,222.38 268.00,222.13 266.00,221.80 C264.00,221.47 261.25,220.72 260.00,219.50 C258.75,218.28 257.67,215.17 258.50,214.50 Z" fill="#C77CFF" /><path d="M268.00,208.00 C268.83,206.67 274.17,205.67 276.00,206.00 C277.83,206.33 279.17,208.33 279.00,210.00 C278.83,211.67 276.33,215.33 275.00,216.00 C273.67,216.67 272.17,215.33 271.00,214.00 C269.83,212.67 267.17,209.33 268.00,208.00 Z" fill="#00A9FF" /><path d="M295.50,249.00 C296.17,248.08 298.17,247.50 299.00,248.50 C299.83,249.50 300.75,253.33 300.50,255.00 C300.25,256.67 298.42,258.67 297.50,258.50 C296.58,258.33 295.33,255.58 295.00,254.00 C294.67,252.42 294.83,249.92 295.50,249.00 Z" fill="#00A9FF" /><path d="M282.60,163.50 C283.47,162.15 285.85,161.15 288.00,160.50 C290.15,159.85 294.58,158.98 295.50,159.60 C296.42,160.22 294.55,162.70 293.50,164.20 C292.45,165.70 290.52,167.60 289.20,168.60 C287.88,169.60 286.67,170.20 285.60,170.20 C284.53,170.20 283.30,169.72 282.80,168.60 C282.30,167.48 281.73,164.85 282.60,163.50 Z" fill="#fff" /><path d="M296.5,160.5 L287.5,176" stroke="#00A9FF" stroke-width="2.2"/><g fill="#fff"><circle cx="316.9" cy="242.8" r="0.92"/><circle cx="306.4" cy="250.8" r="1.13"/><circle cx="297.9" cy="196.4" r="1.15"/><circle cx="339.2" cy="240.4" r="1.29"/><circle cx="306.6" cy="254.7" r="0.95"/><circle cx="301.1" cy="248.1" r="1.26"/><circle cx="318.4" cy="268.4" r="1.00"/><circle cx="307.5" cy="244.8" r="0.95"/><circle cx="320.2" cy="274.2" r="0.93"/><circle cx="317.0" cy="241.9" r="0.97"/><circle cx="326.0" cy="273.5" r="1.02"/><circle cx="305.6" cy="248.1" r="1.20"/><circle cx="318.7" cy="227.6" r="1.10"/><circle cx="330.6" cy="260.3" r="1.15"/><circle cx="307.7" cy="220.4" r="1.33"/><circle cx="305.8" cy="247.5" r="0.99"/><circle cx="284.2" cy="191.8" r="1.00"/><circle cx="291.8" cy="194.1" r="1.18"/><circle cx="310.7" cy="250.8" r="1.28"/><circle cx="306.6" cy="267.6" r="0.98"/><circle cx="326.6" cy="257.0" r="1.34"/><circle cx="296.9" cy="187.4" r="0.99"/><circle cx="311.0" cy="237.5" r="1.09"/><circle cx="343.4" cy="267.8" r="1.17"/><circle cx="315.1" cy="235.5" r="1.35"/><circle cx="327.2" cy="252.4" r="0.95"/><circle cx="325.7" cy="227.8" r="1.15"/><circle cx="333.1" cy="253.2" r="1.21"/><circle cx="319.5" cy="242.5" r="1.24"/><circle cx="294.4" cy="192.2" r="1.08"/><circle cx="311.9" cy="235.4" r="0.91"/><circle cx="296.8" cy="196.4" r="0.96"/><circle cx="306.0" cy="254.2" r="1.13"/><circle cx="334.9" cy="241.8" r="1.01"/><circle cx="301.6" cy="259.7" r="1.39"/><circle cx="330.9" cy="269.0" r="1.37"/><circle cx="336.4" cy="270.7" r="1.38"/><circle cx="296.1" cy="211.6" r="1.13"/><circle cx="320.3" cy="238.4" r="1.12"/><circle cx="326.4" cy="246.7" r="0.97"/></g><g fill="#fff"><circle cx="290.0" cy="161.3" r="1.08"/><circle cx="289.3" cy="171.6" r="1.25"/><circle cx="293.9" cy="158.3" r="1.12"/><circle cx="279.6" cy="153.7" r="1.12"/><circle cx="286.0" cy="155.6" r="1.19"/><circle cx="277.7" cy="166.1" r="0.93"/><circle cx="269.0" cy="156.8" r="0.97"/><circle cx="271.0" cy="173.1" r="1.30"/><circle cx="290.9" cy="162.7" r="1.26"/><circle cx="285.7" cy="156.4" r="1.18"/></g><g fill="#fff"><circle cx="308.6" cy="186.8" r="1.03"/><circle cx="317.4" cy="205.7" r="1.13"/><circle cx="326.3" cy="199.7" r="1.26"/><circle cx="323.2" cy="199.4" r="0.94"/><circle cx="300.7" cy="184.9" r="1.12"/><circle cx="321.0" cy="193.9" r="0.92"/></g><g fill="#F8766D"><circle cx="307.5" cy="242.2" r="1.08"/><circle cx="299.6" cy="210.9" r="1.14"/><circle cx="342.9" cy="272.3" r="1.21"/><circle cx="297.5" cy="256.6" r="1.02"/><circle cx="340.3" cy="245.0" r="1.13"/><circle cx="303.7" cy="247.3" r="1.18"/><circle cx="297.7" cy="185.3" r="1.28"/><circle cx="282.4" cy="189.9" r="1.35"/><circle cx="284.0" cy="198.4" r="1.16"/><circle cx="317.8" cy="275.0" r="1.27"/><circle cx="297.5" cy="208.6" r="1.15"/><circle cx="296.6" cy="251.9" r="1.26"/><circle cx="298.2" cy="216.5" r="1.01"/><circle cx="294.6" cy="214.6" r="1.00"/><circle cx="309.6" cy="234.4" r="1.13"/><circle cx="330.3" cy="226.6" r="1.08"/><circle cx="300.1" cy="190.9" r="1.18"/><circle cx="295.0" cy="251.5" r="1.28"/><circle cx="308.4" cy="225.9" r="1.20"/><circle cx="308.8" cy="236.5" r="1.14"/><circle cx="284.4" cy="195.5" r="1.22"/><circle cx="328.3" cy="279.5" r="1.21"/><circle cx="296.0" cy="207.0" r="1.26"/><circle cx="309.3" cy="239.0" r="1.38"/><circle cx="309.9" cy="236.6" r="1.05"/><circle cx="304.7" cy="264.6" r="1.16"/><circle cx="344.6" cy="246.7" r="1.07"/><circle cx="290.0" cy="185.2" r="1.24"/><circle cx="283.9" cy="187.5" r="1.11"/><circle cx="339.5" cy="236.7" r="1.12"/></g><g fill="#00A9FF"><circle cx="288.2" cy="173.1" r="1.26"/><circle cx="280.1" cy="169.8" r="1.39"/><circle cx="276.2" cy="171.8" r="1.25"/><circle cx="283.7" cy="170.6" r="1.34"/><circle cx="293.7" cy="168.9" r="1.21"/><circle cx="296.5" cy="155.4" r="1.20"/><circle cx="290.4" cy="155.4" r="1.28"/><circle cx="284.4" cy="154.0" r="1.22"/><circle cx="300.7" cy="163.2" r="1.18"/><circle cx="277.1" cy="171.9" r="1.07"/><circle cx="268.7" cy="154.1" r="1.19"/><circle cx="293.6" cy="171.2" r="1.23"/><circle cx="294.5" cy="166.9" r="1.03"/><circle cx="288.0" cy="176.8" r="1.20"/><circle cx="302.6" cy="157.3" r="1.03"/><circle cx="285.0" cy="153.7" r="1.19"/><circle cx="295.3" cy="168.1" r="1.33"/><circle cx="300.2" cy="166.4" r="1.33"/><circle cx="299.2" cy="165.7" r="1.28"/><circle cx="267.1" cy="161.6" r="1.16"/></g><g fill="#00BFC4"><circle cx="322.4" cy="172.3" r="1.11"/><circle cx="322.9" cy="154.8" r="1.24"/><circle cx="322.3" cy="154.4" r="1.25"/><circle cx="312.8" cy="167.3" r="1.13"/><circle cx="324.4" cy="167.3" r="1.03"/><circle cx="314.4" cy="172.2" r="1.27"/><circle cx="305.6" cy="155.6" r="1.06"/><circle cx="313.3" cy="153.9" r="1.16"/><circle cx="314.6" cy="151.9" r="1.01"/><circle cx="323.4" cy="157.5" r="1.17"/><circle cx="321.5" cy="172.8" r="1.11"/><circle cx="303.7" cy="159.3" r="1.15"/><circle cx="317.9" cy="151.9" r="1.00"/><circle cx="305.0" cy="158.7" r="1.34"/></g><g fill="#DA9100"><circle cx="330.4" cy="196.6" r="1.30"/><circle cx="306.8" cy="183.9" r="1.29"/><circle cx="301.3" cy="181.7" r="1.29"/><circle cx="329.0" cy="190.5" r="1.03"/><circle cx="301.1" cy="193.7" r="1.08"/><circle cx="310.9" cy="188.9" r="1.27"/><circle cx="297.5" cy="190.7" r="1.36"/><circle cx="330.8" cy="200.2" r="1.15"/><circle cx="310.2" cy="186.0" r="1.37"/><circle cx="299.8" cy="191.5" r="1.00"/><circle cx="297.8" cy="186.4" r="1.06"/><circle cx="297.0" cy="190.7" r="1.29"/><circle cx="314.6" cy="201.9" r="1.11"/><circle cx="303.9" cy="184.6" r="1.19"/></g></g>
<g transform="translate(319.8,12.3) scale(0.332)"><path d="M54.00,168.40 C56.82,167.37 59.67,166.88 62.00,166.40 C64.33,165.92 65.67,165.73 68.00,165.50 C70.33,165.27 73.00,165.15 76.00,165.00 C79.00,164.85 83.02,164.60 86.00,164.60 C88.98,164.60 91.08,164.38 93.90,165.00 C96.72,165.62 100.47,166.97 102.90,168.30 C105.33,169.63 107.00,171.08 108.50,173.00 C110.00,174.92 111.27,177.37 111.90,179.80 C112.53,182.23 112.38,185.45 112.30,187.60 C112.22,189.75 111.87,191.22 111.40,192.70 C110.93,194.18 109.60,194.88 109.50,196.50 C109.40,198.12 109.95,200.55 110.80,202.40 C111.65,204.25 113.53,205.92 114.60,207.60 C115.67,209.28 116.33,210.68 117.20,212.50 C118.07,214.32 119.12,216.20 119.80,218.50 C120.48,220.80 120.73,223.12 121.30,226.30 C121.87,229.48 122.65,234.22 123.20,237.60 C123.75,240.98 124.03,243.22 124.60,246.60 C125.17,249.98 126.08,254.52 126.60,257.90 C127.12,261.28 127.88,264.27 127.70,266.90 C127.52,269.53 127.38,271.92 125.50,273.70 C123.62,275.48 119.80,276.78 116.40,277.60 C113.00,278.42 108.85,278.95 105.10,278.60 C101.35,278.25 97.08,276.52 93.90,275.50 C90.72,274.48 88.12,273.83 86.00,272.50 C83.88,271.17 82.75,267.75 81.20,267.50 C79.65,267.25 78.57,269.58 76.70,271.00 C74.83,272.42 72.12,274.47 70.00,276.00 C67.88,277.53 66.00,279.23 64.00,280.20 C62.00,281.17 60.02,281.40 58.00,281.80 C55.98,282.20 54.68,282.63 51.90,282.60 C49.12,282.57 44.30,282.43 41.30,281.60 C38.30,280.77 36.65,279.60 33.90,277.60 C31.15,275.60 27.63,272.83 24.80,269.60 C21.97,266.37 19.15,262.38 16.90,258.20 C14.65,254.02 12.62,249.45 11.30,244.50 C9.98,239.55 9.35,233.42 9.00,228.50 C8.65,223.58 8.95,218.42 9.20,215.00 C9.45,211.58 9.78,210.10 10.50,208.00 C11.22,205.90 11.87,205.22 13.50,202.40 C15.13,199.58 17.67,194.45 20.30,191.10 C22.93,187.75 26.52,184.72 29.30,182.30 C32.08,179.88 34.37,178.22 37.00,176.60 C39.63,174.98 42.27,173.97 45.10,172.60 C47.93,171.23 51.18,169.43 54.00,168.40 Z" fill="#F8766D" /><path d="M108.8,196.5 L106.3,196.0 L101.8,194.7 L97.9,188.9 L95.0,184.5 L92.0,183.2 L82.0,182.6 L73.5,182.6 L66.1,183.5 L58.0,186.0 L51.9,189.8 L43.0,197.7 L36.0,206.6 L30.6,217.2 L28.0,227.9 L28.5,236.0 L32.0,241.0 L37.7,246.0 L50.1,256.6 L58.1,265.5 L62.6,273.4 L64.3,278.6 L67.9,277.4 L72.0,274.5 L76.7,271.0 L81.2,267.5 L86.0,272.5 L90.9,276.1 L99.8,277.9 L105.1,278.6 L116.4,277.6 L125.5,273.7 L127.7,266.9 L126.6,257.9 L124.6,246.6 L123.2,237.6 L121.3,226.3 L119.8,218.5 L117.2,212.5 L114.6,207.6 L110.8,202.4 L109.5,198.5 Z" fill="#00BFC4" /><path d="M108.8,197.5 L101.8,195.5 L97.5,189.5 L94.5,185.0 L92.0,183.6 L82.0,183.2 L73.5,183.2 L66.1,184.2 L58.0,186.8 L52.2,190.5 L43.5,198.3 L36.8,207.0 L33.0,213.5 L43.0,212.0 L42.0,224.0 L44.0,232.0 L49.0,238.0 L55.5,244.2 L66.1,254.8 L75.0,262.0 L80.3,265.5 L78.5,256.6 L75.0,249.5 L69.0,241.0 L63.5,236.0 L62.6,227.9 L61.7,220.8 L59.0,215.5 L59.9,208.4 L56.0,205.0 L52.5,200.0 L94.0,201.8 L100.0,200.0 L110.0,200.5 Z" fill="#00A9FF" /><path d="M52.8,194.2 L57.0,190.0 L64.3,186.2 L75.0,184.4 L92.7,184.4 L96.5,188.0 L98.0,191.0 L99.2,199.2 L95.3,201.8 L90.9,204.4 L85.0,204.3 L82.0,203.8 L73.2,203.5 L66.0,204.5 L60.8,205.7 L56.0,204.5 L53.7,203.0 L51.9,197.7 Z" fill="#DA9100" /><path d="M53.2,193.6 L57,189.4 L64.3,185.4 L75,183.6 L92.7,183.6 L97.2,188.3 L98.6,191.5" fill="none" stroke="#00A9FF" stroke-width="1.0" stroke-dasharray="1.6 1.0"/><path d="M62,205.5 L73.2,204.4 L85,205.1" fill="none" stroke="#00A9FF" stroke-width="0.9" stroke-dasharray="1.4 1.4"/><path d="M91.4,205.6 L94.0,201.8 L100.5,200.5 L108.2,199.8 L110.8,202.4 L114.6,207.6 L117.0,211.6 L115.9,212.9 L110.8,212.7 L105.6,212.0 L101.8,213.4 L99.2,215.9 L96.6,215.3 L92.7,210.8 L89.5,207.6 Z" fill="#C77CFF" /><path d="M102.2,202.2 L104.5,201.5 L106.5,203.0 L105.5,206.0 L106.8,209.5 L105.0,210.8 L103.5,208.0 L101.8,205.0 Z" fill="#fff" /><path d="M60.8,206.8 L67.0,206.0 L73.2,205.9 L82.0,206.4 L85.0,208.8 L90.2,208.2 L92.7,210.8 L96.6,215.3 L99.2,215.9 L101.8,213.4 L105.6,212.0 L110.8,212.7 L117.2,213.4 L119.8,218.5 L121.3,226.3 L123.2,237.6 L123.4,243.2 L109.7,242.1 L99.8,243.3 L90.9,244.2 L78.0,241.5 L69.6,240.6 L66.1,238.9 L62.6,235.0 L62.6,227.9 L61.7,220.8 L59.0,215.5 L59.9,208.4 Z" fill="#6CAB00" /><path d="M66.1,238.9 L69.6,240.6 L78.0,241.5 L90.9,244.2 L99.8,243.3 L109.7,242.1 L123.4,243.2 L124.6,246.6 L126.6,257.9 L127.7,266.9 L125.5,273.7 L116.4,277.6 L105.1,278.6 L99.8,277.9 L90.9,276.1 L86.0,272.5 L81.2,267.2 L80.3,265.5 L78.5,256.6 L75.0,249.5 Z" fill="#00BE67" /><path d="M55.5,215.5 L58.1,216.3 L58.5,218.0 L56.0,224.0 L55.6,227.0 L58.0,230.0 L61.5,232.5 L60.8,234.4 L56.5,232.6 L53.5,229.0 L52.5,226.1 L54.0,220.0 Z" fill="#FF61CC" /><path d="M9.6,211 C8.8,216 8.6,222 8.9,229 L7.6,228.5 C7.3,222 7.5,216 8.4,211.5 Z" fill="#FF61CC"/><ellipse cx="48.4" cy="206.6" rx="1.9" ry="3.6" fill="#fff"/><circle cx="48.6" cy="211.8" r="1.5" fill="none" stroke="#fff" stroke-width="0.9"/><circle cx="77.3" cy="227" r="0.8" fill="#FF61CC"/><rect x="109.2" y="252" width="2.6" height="27.5" fill="#00A9FF"/><line x1="110.5" y1="252.5" x2="110.5" y2="279" stroke="#d8f2ff" stroke-width="1.0" stroke-dasharray="1.1 1.4"/><path d="M84,271 L93.9,276 L105.1,279 L116.4,278 L125,274.5" fill="none" stroke="#00A9FF" stroke-width="0.9" stroke-dasharray="1.3 1.0"/></g>
<line x1="431.4" y1="32.5" x2="431.4" y2="109" stroke="#a8a8a8" stroke-width="1.6"/>
<text x="429.90" y="49.90" font-size="3.80" fill="#555" text-anchor="end" >2</text>
<line x1="430" y1="48.6" x2="431" y2="48.6" stroke="#888" stroke-width="0.5"/>
<text x="429.90" y="66.10" font-size="3.80" fill="#555" text-anchor="end" >0</text>
<line x1="430" y1="64.8" x2="431" y2="64.8" stroke="#888" stroke-width="0.5"/>
<text x="429.90" y="83.30" font-size="3.80" fill="#555" text-anchor="end" >−2</text>
<line x1="430" y1="82.0" x2="431" y2="82.0" stroke="#888" stroke-width="0.5"/>
<text x="429.90" y="100.00" font-size="3.80" fill="#555" text-anchor="end" >−4</text>
<line x1="430" y1="98.7" x2="431" y2="98.7" stroke="#888" stroke-width="0.5"/>
<rect x="433.3" y="38.0" width="11.0" height="48.3" fill="#ededed"/>
<circle cx="439.39" cy="57.63" r="0.55" fill="#ee2a2a"/><circle cx="438.46" cy="50.51" r="0.55" fill="#ee2a2a"/><circle cx="439.66" cy="57.25" r="0.55" fill="#ee2a2a"/><circle cx="438.92" cy="59.07" r="0.55" fill="#ee2a2a"/><circle cx="441.67" cy="56.22" r="0.55" fill="#ee2a2a"/><circle cx="436.87" cy="59.44" r="0.55" fill="#ee2a2a"/><circle cx="441.83" cy="59.46" r="0.55" fill="#ee2a2a"/><circle cx="434.31" cy="55.54" r="0.55" fill="#ee2a2a"/><circle cx="443.35" cy="45.30" r="0.55" fill="#ee2a2a"/><circle cx="439.93" cy="55.98" r="0.55" fill="#ee2a2a"/><circle cx="434.05" cy="59.18" r="0.55" fill="#ee2a2a"/><circle cx="434.48" cy="57.09" r="0.55" fill="#ee2a2a"/><circle cx="436.27" cy="59.04" r="0.55" fill="#ee2a2a"/><circle cx="438.45" cy="59.69" r="0.55" fill="#ee2a2a"/><circle cx="442.16" cy="57.71" r="0.55" fill="#ee2a2a"/><circle cx="440.17" cy="57.16" r="0.55" fill="#ee2a2a"/><circle cx="440.39" cy="57.31" r="0.55" fill="#ee2a2a"/><circle cx="436.63" cy="57.60" r="0.55" fill="#ee2a2a"/><circle cx="440.84" cy="41.52" r="0.55" fill="#ee2a2a"/><circle cx="436.15" cy="58.44" r="0.55" fill="#ee2a2a"/><circle cx="434.59" cy="58.57" r="0.55" fill="#ee2a2a"/><circle cx="437.82" cy="54.57" r="0.55" fill="#ee2a2a"/><circle cx="437.69" cy="53.05" r="0.55" fill="#ee2a2a"/><circle cx="442.20" cy="48.38" r="0.55" fill="#ee2a2a"/><circle cx="435.96" cy="59.80" r="0.55" fill="#ee2a2a"/><circle cx="438.51" cy="51.12" r="0.55" fill="#ee2a2a"/><circle cx="437.79" cy="45.65" r="0.55" fill="#ee2a2a"/><circle cx="440.07" cy="59.53" r="0.55" fill="#ee2a2a"/><circle cx="436.54" cy="54.37" r="0.55" fill="#ee2a2a"/><circle cx="437.16" cy="59.47" r="0.55" fill="#ee2a2a"/><circle cx="441.33" cy="47.83" r="0.55" fill="#ee2a2a"/><circle cx="436.31" cy="59.35" r="0.55" fill="#ee2a2a"/><circle cx="434.49" cy="59.42" r="0.55" fill="#ee2a2a"/><circle cx="435.64" cy="54.06" r="0.55" fill="#ee2a2a"/><circle cx="438.28" cy="56.85" r="0.55" fill="#ee2a2a"/><circle cx="441.07" cy="59.04" r="0.55" fill="#ee2a2a"/><circle cx="440.21" cy="59.29" r="0.55" fill="#ee2a2a"/><circle cx="438.02" cy="59.35" r="0.55" fill="#ee2a2a"/><circle cx="436.54" cy="58.94" r="0.55" fill="#ee2a2a"/><circle cx="441.77" cy="47.06" r="0.55" fill="#ee2a2a"/><circle cx="442.57" cy="58.49" r="0.55" fill="#ee2a2a"/><circle cx="437.76" cy="58.95" r="0.55" fill="#ee2a2a"/><circle cx="440.19" cy="52.86" r="0.55" fill="#ee2a2a"/><circle cx="443.60" cy="59.42" r="0.55" fill="#ee2a2a"/><circle cx="436.43" cy="58.94" r="0.55" fill="#ee2a2a"/><circle cx="437.12" cy="54.47" r="0.55" fill="#ee2a2a"/><circle cx="434.62" cy="58.53" r="0.55" fill="#ee2a2a"/><circle cx="439.61" cy="59.46" r="0.55" fill="#ee2a2a"/><circle cx="439.79" cy="58.80" r="0.55" fill="#ee2a2a"/><circle cx="438.34" cy="58.13" r="0.55" fill="#ee2a2a"/><circle cx="438.64" cy="48.29" r="0.55" fill="#ee2a2a"/><circle cx="442.39" cy="56.72" r="0.55" fill="#ee2a2a"/><circle cx="435.41" cy="59.07" r="0.55" fill="#ee2a2a"/><circle cx="441.91" cy="51.19" r="0.55" fill="#ee2a2a"/><circle cx="435.76" cy="58.77" r="0.55" fill="#ee2a2a"/><circle cx="443.12" cy="54.96" r="0.55" fill="#ee2a2a"/><circle cx="443.21" cy="59.01" r="0.55" fill="#ee2a2a"/><circle cx="439.81" cy="52.10" r="0.55" fill="#ee2a2a"/><circle cx="434.92" cy="57.83" r="0.55" fill="#ee2a2a"/><circle cx="443.33" cy="59.66" r="0.55" fill="#ee2a2a"/><circle cx="440.80" cy="58.82" r="0.55" fill="#ee2a2a"/><circle cx="441.97" cy="58.73" r="0.55" fill="#ee2a2a"/><circle cx="436.78" cy="56.53" r="0.55" fill="#ee2a2a"/><circle cx="440.96" cy="59.11" r="0.55" fill="#ee2a2a"/><circle cx="436.14" cy="59.54" r="0.55" fill="#ee2a2a"/><circle cx="442.25" cy="56.85" r="0.55" fill="#ee2a2a"/><circle cx="436.65" cy="56.37" r="0.55" fill="#ee2a2a"/><circle cx="435.90" cy="50.82" r="0.55" fill="#ee2a2a"/><circle cx="436.54" cy="59.74" r="0.55" fill="#ee2a2a"/><circle cx="434.49" cy="57.68" r="0.55" fill="#ee2a2a"/><circle cx="437.51" cy="59.10" r="0.55" fill="#ee2a2a"/><circle cx="435.19" cy="56.74" r="0.55" fill="#ee2a2a"/><circle cx="442.63" cy="58.18" r="0.55" fill="#ee2a2a"/><circle cx="440.34" cy="45.63" r="0.55" fill="#ee2a2a"/><circle cx="439.63" cy="55.57" r="0.55" fill="#ee2a2a"/><circle cx="434.24" cy="59.26" r="0.55" fill="#ee2a2a"/><circle cx="442.82" cy="59.73" r="0.55" fill="#ee2a2a"/><circle cx="443.34" cy="55.45" r="0.55" fill="#ee2a2a"/><circle cx="440.13" cy="59.72" r="0.55" fill="#ee2a2a"/><circle cx="441.06" cy="57.43" r="0.55" fill="#ee2a2a"/><circle cx="443.69" cy="58.42" r="0.55" fill="#ee2a2a"/><circle cx="439.25" cy="59.52" r="0.55" fill="#ee2a2a"/><circle cx="442.72" cy="54.99" r="0.55" fill="#ee2a2a"/><circle cx="440.80" cy="54.99" r="0.55" fill="#ee2a2a"/><circle cx="442.87" cy="54.13" r="0.55" fill="#ee2a2a"/><circle cx="440.61" cy="58.24" r="0.55" fill="#ee2a2a"/><circle cx="442.44" cy="51.48" r="0.55" fill="#ee2a2a"/><circle cx="441.65" cy="57.86" r="0.55" fill="#ee2a2a"/><circle cx="439.51" cy="52.63" r="0.55" fill="#ee2a2a"/><circle cx="437.65" cy="56.27" r="0.55" fill="#ee2a2a"/><circle cx="439.87" cy="56.65" r="0.55" fill="#ee2a2a"/><circle cx="440.17" cy="59.50" r="0.55" fill="#ee2a2a"/><circle cx="442.52" cy="41.77" r="0.55" fill="#ee2a2a"/><circle cx="437.71" cy="55.11" r="0.55" fill="#ee2a2a"/><circle cx="439.59" cy="55.02" r="0.55" fill="#ee2a2a"/><circle cx="442.12" cy="57.71" r="0.55" fill="#ee2a2a"/><circle cx="441.25" cy="59.48" r="0.55" fill="#ee2a2a"/><circle cx="439.79" cy="59.69" r="0.55" fill="#ee2a2a"/><circle cx="436.16" cy="57.44" r="0.55" fill="#ee2a2a"/><circle cx="438.77" cy="55.49" r="0.55" fill="#ee2a2a"/><circle cx="442.92" cy="56.37" r="0.55" fill="#ee2a2a"/><circle cx="434.01" cy="58.74" r="0.55" fill="#ee2a2a"/><circle cx="440.55" cy="58.51" r="0.55" fill="#ee2a2a"/><circle cx="435.56" cy="58.99" r="0.55" fill="#ee2a2a"/><circle cx="440.37" cy="51.30" r="0.55" fill="#ee2a2a"/><circle cx="442.64" cy="57.70" r="0.55" fill="#ee2a2a"/><circle cx="440.43" cy="58.37" r="0.55" fill="#ee2a2a"/><circle cx="438.12" cy="59.00" r="0.55" fill="#ee2a2a"/><circle cx="442.86" cy="53.90" r="0.55" fill="#ee2a2a"/><circle cx="437.67" cy="52.16" r="0.55" fill="#ee2a2a"/><circle cx="437.00" cy="56.65" r="0.55" fill="#ee2a2a"/><circle cx="438.77" cy="59.27" r="0.55" fill="#ee2a2a"/><circle cx="442.22" cy="53.27" r="0.55" fill="#ee2a2a"/><circle cx="443.21" cy="55.33" r="0.55" fill="#ee2a2a"/><circle cx="435.56" cy="58.63" r="0.55" fill="#ee2a2a"/><circle cx="436.60" cy="57.64" r="0.55" fill="#ee2a2a"/><circle cx="437.96" cy="58.93" r="0.55" fill="#ee2a2a"/><circle cx="438.74" cy="56.26" r="0.55" fill="#ee2a2a"/><circle cx="442.12" cy="58.44" r="0.55" fill="#ee2a2a"/><circle cx="438.33" cy="45.33" r="0.55" fill="#ee2a2a"/><circle cx="434.21" cy="59.52" r="0.55" fill="#ee2a2a"/><circle cx="434.31" cy="52.38" r="0.55" fill="#ee2a2a"/><circle cx="439.49" cy="55.36" r="0.55" fill="#ee2a2a"/><circle cx="441.66" cy="58.47" r="0.55" fill="#ee2a2a"/><circle cx="435.23" cy="59.73" r="0.55" fill="#ee2a2a"/><circle cx="434.14" cy="57.62" r="0.55" fill="#ee2a2a"/><circle cx="436.23" cy="53.43" r="0.55" fill="#ee2a2a"/><circle cx="434.36" cy="59.25" r="0.55" fill="#ee2a2a"/><circle cx="438.28" cy="56.23" r="0.55" fill="#ee2a2a"/><circle cx="440.32" cy="56.22" r="0.55" fill="#ee2a2a"/><circle cx="443.29" cy="53.87" r="0.55" fill="#ee2a2a"/><circle cx="435.85" cy="55.65" r="0.55" fill="#ee2a2a"/><circle cx="435.65" cy="57.48" r="0.55" fill="#ee2a2a"/><circle cx="438.53" cy="59.76" r="0.55" fill="#ee2a2a"/><circle cx="435.66" cy="55.29" r="0.55" fill="#ee2a2a"/><circle cx="437.29" cy="58.66" r="0.55" fill="#ee2a2a"/><circle cx="439.00" cy="55.50" r="0.55" fill="#ee2a2a"/><circle cx="441.31" cy="56.37" r="0.55" fill="#ee2a2a"/><circle cx="441.66" cy="58.00" r="0.55" fill="#ee2a2a"/><circle cx="434.75" cy="51.28" r="0.55" fill="#ee2a2a"/><circle cx="440.98" cy="50.09" r="0.55" fill="#ee2a2a"/><circle cx="438.34" cy="59.30" r="0.55" fill="#ee2a2a"/><circle cx="442.82" cy="56.26" r="0.55" fill="#ee2a2a"/><circle cx="439.47" cy="58.10" r="0.55" fill="#ee2a2a"/><circle cx="441.71" cy="52.19" r="0.55" fill="#ee2a2a"/><circle cx="438.44" cy="49.41" r="0.55" fill="#ee2a2a"/><circle cx="435.91" cy="56.01" r="0.55" fill="#ee2a2a"/><circle cx="441.92" cy="55.19" r="0.55" fill="#ee2a2a"/><circle cx="440.93" cy="56.11" r="0.55" fill="#ee2a2a"/><circle cx="442.72" cy="58.94" r="0.55" fill="#ee2a2a"/><circle cx="443.48" cy="82.01" r="0.55" fill="#1aa6d8"/><circle cx="441.65" cy="72.51" r="0.55" fill="#1aa6d8"/><circle cx="442.82" cy="71.36" r="0.55" fill="#1aa6d8"/><circle cx="437.32" cy="76.01" r="0.55" fill="#1aa6d8"/><circle cx="438.22" cy="70.46" r="0.55" fill="#1aa6d8"/><circle cx="441.43" cy="72.60" r="0.55" fill="#1aa6d8"/><circle cx="434.18" cy="72.21" r="0.55" fill="#1aa6d8"/><circle cx="434.53" cy="75.17" r="0.55" fill="#1aa6d8"/><circle cx="435.59" cy="75.03" r="0.55" fill="#1aa6d8"/><circle cx="441.62" cy="71.42" r="0.55" fill="#1aa6d8"/><circle cx="435.36" cy="70.65" r="0.55" fill="#1aa6d8"/><circle cx="440.99" cy="72.38" r="0.55" fill="#1aa6d8"/><circle cx="440.66" cy="75.70" r="0.55" fill="#1aa6d8"/><circle cx="438.73" cy="78.94" r="0.55" fill="#1aa6d8"/><circle cx="434.74" cy="79.14" r="0.55" fill="#1aa6d8"/><circle cx="439.06" cy="70.95" r="0.55" fill="#1aa6d8"/><circle cx="441.04" cy="71.23" r="0.55" fill="#1aa6d8"/><circle cx="439.02" cy="73.26" r="0.55" fill="#1aa6d8"/><circle cx="439.39" cy="75.77" r="0.55" fill="#1aa6d8"/><circle cx="437.64" cy="71.32" r="0.55" fill="#1aa6d8"/><circle cx="442.73" cy="75.80" r="0.55" fill="#1aa6d8"/><circle cx="442.24" cy="70.90" r="0.55" fill="#1aa6d8"/><circle cx="439.04" cy="80.57" r="0.55" fill="#1aa6d8"/><circle cx="435.87" cy="72.75" r="0.55" fill="#1aa6d8"/><circle cx="438.83" cy="72.50" r="0.55" fill="#1aa6d8"/><circle cx="434.17" cy="72.99" r="0.55" fill="#1aa6d8"/><circle cx="438.96" cy="80.66" r="0.55" fill="#1aa6d8"/><circle cx="441.75" cy="71.74" r="0.55" fill="#1aa6d8"/><circle cx="438.71" cy="72.68" r="0.55" fill="#1aa6d8"/><circle cx="434.55" cy="73.72" r="0.55" fill="#1aa6d8"/><circle cx="437.95" cy="72.52" r="0.55" fill="#1aa6d8"/><circle cx="442.95" cy="79.63" r="0.55" fill="#1aa6d8"/><circle cx="438.54" cy="71.14" r="0.55" fill="#1aa6d8"/><circle cx="438.15" cy="70.61" r="0.55" fill="#1aa6d8"/><circle cx="442.73" cy="75.27" r="0.55" fill="#1aa6d8"/><circle cx="437.01" cy="72.14" r="0.55" fill="#1aa6d8"/><circle cx="439.96" cy="70.84" r="0.55" fill="#1aa6d8"/><circle cx="435.17" cy="77.98" r="0.55" fill="#1aa6d8"/><circle cx="434.12" cy="74.73" r="0.55" fill="#1aa6d8"/><circle cx="436.13" cy="70.85" r="0.55" fill="#1aa6d8"/><circle cx="437.06" cy="73.68" r="0.55" fill="#1aa6d8"/><circle cx="439.97" cy="71.52" r="0.55" fill="#1aa6d8"/><circle cx="441.06" cy="70.53" r="0.55" fill="#1aa6d8"/><circle cx="438.90" cy="70.59" r="0.55" fill="#1aa6d8"/><circle cx="435.84" cy="71.07" r="0.55" fill="#1aa6d8"/><circle cx="438.18" cy="72.47" r="0.55" fill="#1aa6d8"/><circle cx="437.95" cy="71.61" r="0.55" fill="#1aa6d8"/><circle cx="435.47" cy="72.46" r="0.55" fill="#1aa6d8"/><circle cx="440.09" cy="70.89" r="0.55" fill="#1aa6d8"/><circle cx="439.09" cy="73.25" r="0.55" fill="#1aa6d8"/><circle cx="439.89" cy="75.92" r="0.55" fill="#1aa6d8"/><circle cx="436.18" cy="76.03" r="0.55" fill="#1aa6d8"/><circle cx="441.84" cy="74.25" r="0.55" fill="#1aa6d8"/><circle cx="437.00" cy="77.19" r="0.55" fill="#1aa6d8"/><circle cx="442.94" cy="71.33" r="0.55" fill="#1aa6d8"/><circle cx="443.68" cy="70.94" r="0.55" fill="#1aa6d8"/><circle cx="435.21" cy="76.76" r="0.55" fill="#1aa6d8"/><circle cx="441.02" cy="71.02" r="0.55" fill="#1aa6d8"/><circle cx="434.85" cy="71.10" r="0.55" fill="#1aa6d8"/><circle cx="438.03" cy="75.55" r="0.55" fill="#1aa6d8"/><circle cx="435.13" cy="74.88" r="0.55" fill="#1aa6d8"/><circle cx="440.62" cy="71.75" r="0.55" fill="#1aa6d8"/><circle cx="435.87" cy="70.25" r="0.55" fill="#1aa6d8"/><circle cx="442.83" cy="73.64" r="0.55" fill="#1aa6d8"/><circle cx="435.03" cy="80.56" r="0.55" fill="#1aa6d8"/><circle cx="441.33" cy="72.31" r="0.55" fill="#1aa6d8"/><circle cx="440.62" cy="72.30" r="0.55" fill="#1aa6d8"/><circle cx="434.59" cy="70.83" r="0.55" fill="#1aa6d8"/><circle cx="434.27" cy="70.54" r="0.55" fill="#1aa6d8"/><circle cx="438.95" cy="72.61" r="0.55" fill="#1aa6d8"/><circle cx="435.34" cy="72.72" r="0.55" fill="#1aa6d8"/><circle cx="435.90" cy="70.81" r="0.55" fill="#1aa6d8"/><circle cx="443.60" cy="75.70" r="0.55" fill="#1aa6d8"/><circle cx="434.83" cy="78.05" r="0.55" fill="#1aa6d8"/><circle cx="443.22" cy="70.39" r="0.55" fill="#1aa6d8"/><circle cx="441.39" cy="72.06" r="0.55" fill="#1aa6d8"/><circle cx="438.48" cy="71.39" r="0.55" fill="#1aa6d8"/><circle cx="438.11" cy="72.37" r="0.55" fill="#1aa6d8"/><circle cx="434.03" cy="72.96" r="0.55" fill="#1aa6d8"/><circle cx="442.17" cy="73.82" r="0.55" fill="#1aa6d8"/><circle cx="438.35" cy="70.80" r="0.55" fill="#1aa6d8"/><circle cx="437.87" cy="74.23" r="0.55" fill="#1aa6d8"/><circle cx="435.52" cy="70.85" r="0.55" fill="#1aa6d8"/><circle cx="434.05" cy="72.36" r="0.55" fill="#1aa6d8"/><circle cx="441.76" cy="76.91" r="0.55" fill="#1aa6d8"/><circle cx="442.34" cy="73.86" r="0.55" fill="#1aa6d8"/><circle cx="437.86" cy="73.18" r="0.55" fill="#1aa6d8"/><circle cx="438.84" cy="72.95" r="0.55" fill="#1aa6d8"/><circle cx="441.79" cy="82.37" r="0.55" fill="#1aa6d8"/><circle cx="442.83" cy="71.10" r="0.55" fill="#1aa6d8"/><circle cx="441.52" cy="74.29" r="0.55" fill="#1aa6d8"/><circle cx="437.88" cy="75.26" r="0.55" fill="#1aa6d8"/><circle cx="442.52" cy="77.01" r="0.55" fill="#1aa6d8"/><circle cx="441.42" cy="73.76" r="0.55" fill="#1aa6d8"/><circle cx="437.88" cy="74.55" r="0.55" fill="#1aa6d8"/><circle cx="434.59" cy="74.05" r="0.55" fill="#1aa6d8"/><circle cx="438.49" cy="71.45" r="0.55" fill="#1aa6d8"/><circle cx="437.39" cy="70.23" r="0.55" fill="#1aa6d8"/><circle cx="440.02" cy="73.25" r="0.55" fill="#1aa6d8"/><circle cx="443.16" cy="70.99" r="0.55" fill="#1aa6d8"/><circle cx="437.21" cy="73.49" r="0.55" fill="#1aa6d8"/><circle cx="439.48" cy="73.43" r="0.55" fill="#1aa6d8"/><circle cx="437.72" cy="72.48" r="0.55" fill="#1aa6d8"/><circle cx="441.37" cy="73.82" r="0.55" fill="#1aa6d8"/><circle cx="434.12" cy="81.95" r="0.55" fill="#1aa6d8"/><circle cx="441.14" cy="73.07" r="0.55" fill="#1aa6d8"/><circle cx="437.84" cy="71.09" r="0.55" fill="#1aa6d8"/><circle cx="435.82" cy="70.36" r="0.55" fill="#1aa6d8"/><circle cx="434.86" cy="71.61" r="0.55" fill="#1aa6d8"/>
<rect x="433.3" y="60.5" width="11.0" height="9.5" fill="#F8766D"/>
<text x="438.80" y="66.30" font-size="3.60" fill="#333" text-anchor="middle" >CTX</text>
<rect x="445.4" y="43.8" width="10.4" height="50.2" fill="#ededed"/>
<circle cx="454.33" cy="58.76" r="0.55" fill="#ee2a2a"/><circle cx="450.67" cy="56.92" r="0.55" fill="#ee2a2a"/><circle cx="451.23" cy="47.50" r="0.55" fill="#ee2a2a"/><circle cx="446.70" cy="53.83" r="0.55" fill="#ee2a2a"/><circle cx="452.99" cy="56.52" r="0.55" fill="#ee2a2a"/><circle cx="454.56" cy="59.63" r="0.55" fill="#ee2a2a"/><circle cx="450.34" cy="59.17" r="0.55" fill="#ee2a2a"/><circle cx="450.56" cy="59.13" r="0.55" fill="#ee2a2a"/><circle cx="446.54" cy="56.40" r="0.55" fill="#ee2a2a"/><circle cx="449.87" cy="49.34" r="0.55" fill="#ee2a2a"/><circle cx="451.50" cy="57.11" r="0.55" fill="#ee2a2a"/><circle cx="448.63" cy="58.16" r="0.55" fill="#ee2a2a"/><circle cx="451.16" cy="55.97" r="0.55" fill="#ee2a2a"/><circle cx="452.59" cy="58.60" r="0.55" fill="#ee2a2a"/><circle cx="446.13" cy="58.54" r="0.55" fill="#ee2a2a"/><circle cx="446.39" cy="58.79" r="0.55" fill="#ee2a2a"/><circle cx="452.94" cy="59.19" r="0.55" fill="#ee2a2a"/><circle cx="454.26" cy="58.02" r="0.55" fill="#ee2a2a"/><circle cx="446.46" cy="54.83" r="0.55" fill="#ee2a2a"/><circle cx="454.33" cy="45.02" r="0.55" fill="#ee2a2a"/><circle cx="450.39" cy="57.78" r="0.55" fill="#ee2a2a"/><circle cx="448.24" cy="46.77" r="0.55" fill="#ee2a2a"/><circle cx="454.62" cy="57.13" r="0.55" fill="#ee2a2a"/><circle cx="450.31" cy="55.18" r="0.55" fill="#ee2a2a"/><circle cx="453.51" cy="45.92" r="0.55" fill="#ee2a2a"/><circle cx="447.06" cy="56.47" r="0.55" fill="#ee2a2a"/><circle cx="450.19" cy="56.28" r="0.55" fill="#ee2a2a"/><circle cx="446.48" cy="58.98" r="0.55" fill="#ee2a2a"/><circle cx="447.14" cy="57.10" r="0.55" fill="#ee2a2a"/><circle cx="452.14" cy="57.69" r="0.55" fill="#ee2a2a"/><circle cx="448.41" cy="57.61" r="0.55" fill="#ee2a2a"/><circle cx="449.86" cy="56.66" r="0.55" fill="#ee2a2a"/><circle cx="450.88" cy="54.38" r="0.55" fill="#ee2a2a"/><circle cx="448.19" cy="47.00" r="0.55" fill="#ee2a2a"/><circle cx="454.21" cy="59.36" r="0.55" fill="#ee2a2a"/><circle cx="451.75" cy="54.28" r="0.55" fill="#ee2a2a"/><circle cx="448.50" cy="58.20" r="0.55" fill="#ee2a2a"/><circle cx="451.20" cy="55.64" r="0.55" fill="#ee2a2a"/><circle cx="451.82" cy="56.58" r="0.55" fill="#ee2a2a"/><circle cx="447.75" cy="54.76" r="0.55" fill="#ee2a2a"/><circle cx="455.01" cy="58.77" r="0.55" fill="#ee2a2a"/><circle cx="454.08" cy="50.89" r="0.55" fill="#ee2a2a"/><circle cx="446.56" cy="59.65" r="0.55" fill="#ee2a2a"/><circle cx="449.91" cy="58.66" r="0.55" fill="#ee2a2a"/><circle cx="446.94" cy="56.28" r="0.55" fill="#ee2a2a"/><circle cx="446.67" cy="56.99" r="0.55" fill="#ee2a2a"/><circle cx="452.22" cy="59.47" r="0.55" fill="#ee2a2a"/><circle cx="451.81" cy="56.92" r="0.55" fill="#ee2a2a"/><circle cx="450.40" cy="58.12" r="0.55" fill="#ee2a2a"/><circle cx="449.16" cy="58.95" r="0.55" fill="#ee2a2a"/><circle cx="453.71" cy="54.88" r="0.55" fill="#ee2a2a"/><circle cx="447.10" cy="59.52" r="0.55" fill="#ee2a2a"/><circle cx="451.74" cy="53.84" r="0.55" fill="#ee2a2a"/><circle cx="447.96" cy="54.53" r="0.55" fill="#ee2a2a"/><circle cx="448.37" cy="57.81" r="0.55" fill="#ee2a2a"/><circle cx="449.39" cy="53.82" r="0.55" fill="#ee2a2a"/><circle cx="455.10" cy="55.98" r="0.55" fill="#ee2a2a"/><circle cx="451.05" cy="58.38" r="0.55" fill="#ee2a2a"/><circle cx="454.47" cy="54.86" r="0.55" fill="#ee2a2a"/><circle cx="449.40" cy="57.79" r="0.55" fill="#ee2a2a"/><circle cx="454.05" cy="59.43" r="0.55" fill="#ee2a2a"/><circle cx="446.76" cy="59.51" r="0.55" fill="#ee2a2a"/><circle cx="450.46" cy="56.81" r="0.55" fill="#ee2a2a"/><circle cx="448.75" cy="55.64" r="0.55" fill="#ee2a2a"/><circle cx="446.70" cy="54.42" r="0.55" fill="#ee2a2a"/><circle cx="452.09" cy="58.94" r="0.55" fill="#ee2a2a"/><circle cx="448.80" cy="59.49" r="0.55" fill="#ee2a2a"/><circle cx="452.38" cy="55.15" r="0.55" fill="#ee2a2a"/><circle cx="447.31" cy="58.60" r="0.55" fill="#ee2a2a"/><circle cx="452.68" cy="58.21" r="0.55" fill="#ee2a2a"/><circle cx="447.08" cy="58.16" r="0.55" fill="#ee2a2a"/><circle cx="451.24" cy="55.35" r="0.55" fill="#ee2a2a"/><circle cx="454.65" cy="50.77" r="0.55" fill="#ee2a2a"/><circle cx="450.03" cy="50.99" r="0.55" fill="#ee2a2a"/><circle cx="448.80" cy="53.95" r="0.55" fill="#ee2a2a"/><circle cx="449.68" cy="58.42" r="0.55" fill="#ee2a2a"/><circle cx="454.23" cy="49.98" r="0.55" fill="#ee2a2a"/><circle cx="449.33" cy="58.77" r="0.55" fill="#ee2a2a"/><circle cx="449.34" cy="58.16" r="0.55" fill="#ee2a2a"/><circle cx="449.57" cy="57.99" r="0.55" fill="#ee2a2a"/><circle cx="451.19" cy="59.02" r="0.55" fill="#ee2a2a"/><circle cx="450.97" cy="54.06" r="0.55" fill="#ee2a2a"/><circle cx="451.18" cy="53.28" r="0.55" fill="#ee2a2a"/><circle cx="452.98" cy="59.10" r="0.55" fill="#ee2a2a"/><circle cx="448.59" cy="52.14" r="0.55" fill="#ee2a2a"/><circle cx="450.74" cy="59.72" r="0.55" fill="#ee2a2a"/><circle cx="451.22" cy="56.97" r="0.55" fill="#ee2a2a"/><circle cx="451.99" cy="47.58" r="0.55" fill="#ee2a2a"/><circle cx="446.59" cy="53.93" r="0.55" fill="#ee2a2a"/><circle cx="453.25" cy="56.95" r="0.55" fill="#ee2a2a"/><circle cx="446.75" cy="59.48" r="0.55" fill="#ee2a2a"/><circle cx="454.27" cy="54.99" r="0.55" fill="#ee2a2a"/><circle cx="451.83" cy="59.48" r="0.55" fill="#ee2a2a"/><circle cx="452.86" cy="59.24" r="0.55" fill="#ee2a2a"/><circle cx="448.26" cy="56.03" r="0.55" fill="#ee2a2a"/><circle cx="453.04" cy="58.90" r="0.55" fill="#ee2a2a"/><circle cx="453.04" cy="57.15" r="0.55" fill="#ee2a2a"/><circle cx="449.11" cy="57.99" r="0.55" fill="#ee2a2a"/><circle cx="452.19" cy="47.38" r="0.55" fill="#ee2a2a"/><circle cx="450.94" cy="57.35" r="0.55" fill="#ee2a2a"/><circle cx="452.51" cy="55.21" r="0.55" fill="#ee2a2a"/><circle cx="449.78" cy="50.93" r="0.55" fill="#ee2a2a"/><circle cx="452.13" cy="53.50" r="0.55" fill="#ee2a2a"/><circle cx="453.41" cy="52.89" r="0.55" fill="#ee2a2a"/><circle cx="454.18" cy="53.34" r="0.55" fill="#ee2a2a"/><circle cx="451.89" cy="48.41" r="0.55" fill="#ee2a2a"/><circle cx="452.53" cy="57.13" r="0.55" fill="#ee2a2a"/><circle cx="449.88" cy="53.97" r="0.55" fill="#ee2a2a"/><circle cx="447.34" cy="57.84" r="0.55" fill="#ee2a2a"/><circle cx="455.12" cy="54.93" r="0.55" fill="#ee2a2a"/><circle cx="447.54" cy="58.10" r="0.55" fill="#ee2a2a"/><circle cx="449.91" cy="58.98" r="0.55" fill="#ee2a2a"/><circle cx="454.92" cy="58.56" r="0.55" fill="#ee2a2a"/><circle cx="448.84" cy="59.58" r="0.55" fill="#ee2a2a"/><circle cx="451.96" cy="59.36" r="0.55" fill="#ee2a2a"/><circle cx="447.65" cy="54.42" r="0.55" fill="#ee2a2a"/><circle cx="450.22" cy="59.57" r="0.55" fill="#ee2a2a"/><circle cx="454.37" cy="56.64" r="0.55" fill="#ee2a2a"/><circle cx="447.00" cy="59.67" r="0.55" fill="#ee2a2a"/><circle cx="448.00" cy="59.07" r="0.55" fill="#ee2a2a"/><circle cx="452.60" cy="58.83" r="0.55" fill="#ee2a2a"/><circle cx="448.06" cy="56.55" r="0.55" fill="#ee2a2a"/><circle cx="448.59" cy="59.06" r="0.55" fill="#ee2a2a"/><circle cx="452.97" cy="59.12" r="0.55" fill="#ee2a2a"/><circle cx="451.04" cy="58.46" r="0.55" fill="#ee2a2a"/><circle cx="450.41" cy="53.68" r="0.55" fill="#ee2a2a"/><circle cx="454.16" cy="58.71" r="0.55" fill="#ee2a2a"/><circle cx="449.15" cy="50.96" r="0.55" fill="#ee2a2a"/><circle cx="454.80" cy="56.95" r="0.55" fill="#ee2a2a"/><circle cx="448.03" cy="57.43" r="0.55" fill="#ee2a2a"/><circle cx="454.72" cy="59.62" r="0.55" fill="#ee2a2a"/><circle cx="449.54" cy="53.98" r="0.55" fill="#ee2a2a"/><circle cx="450.75" cy="57.10" r="0.55" fill="#ee2a2a"/><circle cx="455.11" cy="58.64" r="0.55" fill="#ee2a2a"/><circle cx="448.19" cy="55.94" r="0.55" fill="#ee2a2a"/><circle cx="450.35" cy="59.76" r="0.55" fill="#ee2a2a"/><circle cx="453.33" cy="58.13" r="0.55" fill="#ee2a2a"/><circle cx="451.58" cy="55.30" r="0.55" fill="#ee2a2a"/><circle cx="447.44" cy="59.18" r="0.55" fill="#ee2a2a"/><circle cx="448.39" cy="58.40" r="0.55" fill="#ee2a2a"/><circle cx="450.75" cy="52.48" r="0.55" fill="#ee2a2a"/><circle cx="455.14" cy="56.15" r="0.55" fill="#ee2a2a"/><circle cx="450.92" cy="58.68" r="0.55" fill="#ee2a2a"/><circle cx="453.09" cy="59.21" r="0.55" fill="#ee2a2a"/><circle cx="453.56" cy="59.80" r="0.55" fill="#ee2a2a"/><circle cx="453.56" cy="53.06" r="0.55" fill="#ee2a2a"/><circle cx="448.48" cy="59.49" r="0.55" fill="#ee2a2a"/><circle cx="446.89" cy="55.26" r="0.55" fill="#ee2a2a"/><circle cx="450.31" cy="57.45" r="0.55" fill="#ee2a2a"/><circle cx="451.40" cy="79.54" r="0.55" fill="#1aa6d8"/><circle cx="448.79" cy="76.04" r="0.55" fill="#1aa6d8"/><circle cx="449.84" cy="74.87" r="0.55" fill="#1aa6d8"/><circle cx="446.84" cy="77.66" r="0.55" fill="#1aa6d8"/><circle cx="447.92" cy="75.45" r="0.55" fill="#1aa6d8"/><circle cx="450.84" cy="72.55" r="0.55" fill="#1aa6d8"/><circle cx="453.65" cy="70.71" r="0.55" fill="#1aa6d8"/><circle cx="448.86" cy="71.32" r="0.55" fill="#1aa6d8"/><circle cx="448.81" cy="70.44" r="0.55" fill="#1aa6d8"/><circle cx="452.58" cy="72.09" r="0.55" fill="#1aa6d8"/><circle cx="452.32" cy="71.54" r="0.55" fill="#1aa6d8"/><circle cx="449.63" cy="70.54" r="0.55" fill="#1aa6d8"/><circle cx="454.90" cy="72.06" r="0.55" fill="#1aa6d8"/><circle cx="452.02" cy="75.51" r="0.55" fill="#1aa6d8"/><circle cx="449.47" cy="70.24" r="0.55" fill="#1aa6d8"/><circle cx="448.18" cy="73.91" r="0.55" fill="#1aa6d8"/><circle cx="450.21" cy="72.69" r="0.55" fill="#1aa6d8"/><circle cx="455.12" cy="70.23" r="0.55" fill="#1aa6d8"/><circle cx="447.90" cy="75.02" r="0.55" fill="#1aa6d8"/><circle cx="448.67" cy="73.07" r="0.55" fill="#1aa6d8"/><circle cx="450.97" cy="71.61" r="0.55" fill="#1aa6d8"/><circle cx="449.10" cy="71.26" r="0.55" fill="#1aa6d8"/><circle cx="452.13" cy="71.69" r="0.55" fill="#1aa6d8"/><circle cx="447.84" cy="71.09" r="0.55" fill="#1aa6d8"/><circle cx="449.03" cy="74.14" r="0.55" fill="#1aa6d8"/><circle cx="451.18" cy="78.90" r="0.55" fill="#1aa6d8"/><circle cx="449.05" cy="74.06" r="0.55" fill="#1aa6d8"/><circle cx="446.85" cy="75.46" r="0.55" fill="#1aa6d8"/><circle cx="446.87" cy="70.66" r="0.55" fill="#1aa6d8"/><circle cx="452.52" cy="73.60" r="0.55" fill="#1aa6d8"/><circle cx="449.70" cy="70.79" r="0.55" fill="#1aa6d8"/><circle cx="451.45" cy="75.64" r="0.55" fill="#1aa6d8"/><circle cx="448.08" cy="70.48" r="0.55" fill="#1aa6d8"/><circle cx="447.14" cy="70.71" r="0.55" fill="#1aa6d8"/><circle cx="446.67" cy="71.77" r="0.55" fill="#1aa6d8"/><circle cx="449.93" cy="77.80" r="0.55" fill="#1aa6d8"/><circle cx="451.95" cy="72.35" r="0.55" fill="#1aa6d8"/><circle cx="453.55" cy="74.57" r="0.55" fill="#1aa6d8"/><circle cx="449.05" cy="71.66" r="0.55" fill="#1aa6d8"/><circle cx="446.14" cy="71.79" r="0.55" fill="#1aa6d8"/><circle cx="452.44" cy="71.74" r="0.55" fill="#1aa6d8"/><circle cx="453.26" cy="82.24" r="0.55" fill="#1aa6d8"/><circle cx="451.60" cy="73.44" r="0.55" fill="#1aa6d8"/><circle cx="449.05" cy="70.26" r="0.55" fill="#1aa6d8"/><circle cx="451.99" cy="71.46" r="0.55" fill="#1aa6d8"/><circle cx="449.47" cy="70.54" r="0.55" fill="#1aa6d8"/><circle cx="453.25" cy="72.34" r="0.55" fill="#1aa6d8"/><circle cx="451.63" cy="75.43" r="0.55" fill="#1aa6d8"/><circle cx="453.05" cy="70.72" r="0.55" fill="#1aa6d8"/><circle cx="451.04" cy="77.20" r="0.55" fill="#1aa6d8"/><circle cx="450.60" cy="71.50" r="0.55" fill="#1aa6d8"/><circle cx="452.56" cy="70.66" r="0.55" fill="#1aa6d8"/><circle cx="450.75" cy="83.18" r="0.55" fill="#1aa6d8"/><circle cx="453.69" cy="73.97" r="0.55" fill="#1aa6d8"/><circle cx="454.69" cy="70.86" r="0.55" fill="#1aa6d8"/><circle cx="447.82" cy="73.16" r="0.55" fill="#1aa6d8"/><circle cx="448.25" cy="70.46" r="0.55" fill="#1aa6d8"/><circle cx="452.41" cy="72.78" r="0.55" fill="#1aa6d8"/><circle cx="454.55" cy="71.40" r="0.55" fill="#1aa6d8"/><circle cx="450.26" cy="71.54" r="0.55" fill="#1aa6d8"/><circle cx="454.96" cy="70.60" r="0.55" fill="#1aa6d8"/><circle cx="454.32" cy="70.64" r="0.55" fill="#1aa6d8"/><circle cx="451.16" cy="72.55" r="0.55" fill="#1aa6d8"/><circle cx="448.43" cy="72.67" r="0.55" fill="#1aa6d8"/><circle cx="455.13" cy="77.40" r="0.55" fill="#1aa6d8"/><circle cx="451.53" cy="75.30" r="0.55" fill="#1aa6d8"/><circle cx="453.59" cy="70.59" r="0.55" fill="#1aa6d8"/><circle cx="454.25" cy="71.22" r="0.55" fill="#1aa6d8"/><circle cx="451.28" cy="71.03" r="0.55" fill="#1aa6d8"/><circle cx="447.71" cy="75.53" r="0.55" fill="#1aa6d8"/><circle cx="446.70" cy="72.58" r="0.55" fill="#1aa6d8"/><circle cx="447.66" cy="70.30" r="0.55" fill="#1aa6d8"/><circle cx="454.64" cy="83.23" r="0.55" fill="#1aa6d8"/><circle cx="448.83" cy="73.42" r="0.55" fill="#1aa6d8"/><circle cx="452.79" cy="73.54" r="0.55" fill="#1aa6d8"/><circle cx="451.45" cy="71.64" r="0.55" fill="#1aa6d8"/><circle cx="446.15" cy="75.09" r="0.55" fill="#1aa6d8"/><circle cx="450.31" cy="70.87" r="0.55" fill="#1aa6d8"/><circle cx="449.55" cy="70.66" r="0.55" fill="#1aa6d8"/><circle cx="447.60" cy="72.73" r="0.55" fill="#1aa6d8"/><circle cx="448.43" cy="72.40" r="0.55" fill="#1aa6d8"/><circle cx="449.06" cy="72.72" r="0.55" fill="#1aa6d8"/><circle cx="446.35" cy="73.28" r="0.55" fill="#1aa6d8"/><circle cx="447.33" cy="73.54" r="0.55" fill="#1aa6d8"/><circle cx="451.52" cy="79.81" r="0.55" fill="#1aa6d8"/><circle cx="449.79" cy="72.10" r="0.55" fill="#1aa6d8"/><circle cx="452.34" cy="73.13" r="0.55" fill="#1aa6d8"/><circle cx="452.92" cy="74.46" r="0.55" fill="#1aa6d8"/><circle cx="455.15" cy="72.20" r="0.55" fill="#1aa6d8"/><circle cx="453.87" cy="75.66" r="0.55" fill="#1aa6d8"/><circle cx="449.99" cy="71.78" r="0.55" fill="#1aa6d8"/><circle cx="454.33" cy="72.70" r="0.55" fill="#1aa6d8"/><circle cx="450.83" cy="72.44" r="0.55" fill="#1aa6d8"/><circle cx="454.32" cy="71.90" r="0.55" fill="#1aa6d8"/><circle cx="446.50" cy="71.36" r="0.55" fill="#1aa6d8"/><circle cx="454.28" cy="74.08" r="0.55" fill="#1aa6d8"/><circle cx="451.50" cy="74.15" r="0.55" fill="#1aa6d8"/><circle cx="448.80" cy="74.38" r="0.55" fill="#1aa6d8"/><circle cx="446.64" cy="72.90" r="0.55" fill="#1aa6d8"/><circle cx="450.11" cy="70.60" r="0.55" fill="#1aa6d8"/><circle cx="449.65" cy="72.30" r="0.55" fill="#1aa6d8"/><circle cx="452.39" cy="70.36" r="0.55" fill="#1aa6d8"/><circle cx="448.20" cy="72.44" r="0.55" fill="#1aa6d8"/><circle cx="449.64" cy="71.30" r="0.55" fill="#1aa6d8"/><circle cx="446.63" cy="71.01" r="0.55" fill="#1aa6d8"/><circle cx="454.89" cy="77.47" r="0.55" fill="#1aa6d8"/><circle cx="453.97" cy="73.49" r="0.55" fill="#1aa6d8"/><circle cx="453.41" cy="71.84" r="0.55" fill="#1aa6d8"/><circle cx="452.87" cy="70.95" r="0.55" fill="#1aa6d8"/><circle cx="454.31" cy="72.71" r="0.55" fill="#1aa6d8"/>
<rect x="445.4" y="60.5" width="10.4" height="9.5" fill="#EE9F00"/>
<text x="450.60" y="66.30" font-size="3.60" fill="#333" text-anchor="middle" >HP</text>
<rect x="457.0" y="40.4" width="11.0" height="52.4" fill="#ededed"/>
<circle cx="465.37" cy="59.43" r="0.55" fill="#ee2a2a"/><circle cx="462.87" cy="59.32" r="0.55" fill="#ee2a2a"/><circle cx="457.61" cy="48.94" r="0.55" fill="#ee2a2a"/><circle cx="460.53" cy="58.79" r="0.55" fill="#ee2a2a"/><circle cx="458.21" cy="58.39" r="0.55" fill="#ee2a2a"/><circle cx="465.59" cy="51.68" r="0.55" fill="#ee2a2a"/><circle cx="461.09" cy="57.98" r="0.55" fill="#ee2a2a"/><circle cx="458.05" cy="56.63" r="0.55" fill="#ee2a2a"/><circle cx="466.41" cy="59.69" r="0.55" fill="#ee2a2a"/><circle cx="462.48" cy="58.48" r="0.55" fill="#ee2a2a"/><circle cx="467.18" cy="50.02" r="0.55" fill="#ee2a2a"/><circle cx="459.62" cy="57.50" r="0.55" fill="#ee2a2a"/><circle cx="466.64" cy="58.54" r="0.55" fill="#ee2a2a"/><circle cx="459.52" cy="51.62" r="0.55" fill="#ee2a2a"/><circle cx="461.07" cy="53.25" r="0.55" fill="#ee2a2a"/><circle cx="459.28" cy="57.50" r="0.55" fill="#ee2a2a"/><circle cx="467.35" cy="52.18" r="0.55" fill="#ee2a2a"/><circle cx="463.80" cy="58.99" r="0.55" fill="#ee2a2a"/><circle cx="466.23" cy="59.03" r="0.55" fill="#ee2a2a"/><circle cx="458.64" cy="59.62" r="0.55" fill="#ee2a2a"/><circle cx="460.67" cy="55.14" r="0.55" fill="#ee2a2a"/><circle cx="466.12" cy="51.50" r="0.55" fill="#ee2a2a"/><circle cx="458.92" cy="55.30" r="0.55" fill="#ee2a2a"/><circle cx="466.79" cy="55.51" r="0.55" fill="#ee2a2a"/><circle cx="458.37" cy="57.68" r="0.55" fill="#ee2a2a"/><circle cx="460.61" cy="58.89" r="0.55" fill="#ee2a2a"/><circle cx="459.53" cy="55.34" r="0.55" fill="#ee2a2a"/><circle cx="459.91" cy="59.08" r="0.55" fill="#ee2a2a"/><circle cx="465.35" cy="55.87" r="0.55" fill="#ee2a2a"/><circle cx="464.09" cy="58.12" r="0.55" fill="#ee2a2a"/><circle cx="463.38" cy="52.03" r="0.55" fill="#ee2a2a"/><circle cx="460.55" cy="58.86" r="0.55" fill="#ee2a2a"/><circle cx="464.14" cy="50.39" r="0.55" fill="#ee2a2a"/><circle cx="463.87" cy="58.63" r="0.55" fill="#ee2a2a"/><circle cx="467.23" cy="59.46" r="0.55" fill="#ee2a2a"/><circle cx="462.78" cy="57.71" r="0.55" fill="#ee2a2a"/><circle cx="458.04" cy="57.08" r="0.55" fill="#ee2a2a"/><circle cx="460.39" cy="56.50" r="0.55" fill="#ee2a2a"/><circle cx="465.47" cy="58.76" r="0.55" fill="#ee2a2a"/><circle cx="460.39" cy="59.47" r="0.55" fill="#ee2a2a"/><circle cx="460.01" cy="54.73" r="0.55" fill="#ee2a2a"/><circle cx="462.97" cy="58.62" r="0.55" fill="#ee2a2a"/><circle cx="466.39" cy="59.06" r="0.55" fill="#ee2a2a"/><circle cx="457.93" cy="43.96" r="0.55" fill="#ee2a2a"/><circle cx="464.96" cy="57.57" r="0.55" fill="#ee2a2a"/><circle cx="466.71" cy="58.05" r="0.55" fill="#ee2a2a"/><circle cx="459.36" cy="57.31" r="0.55" fill="#ee2a2a"/><circle cx="463.92" cy="56.88" r="0.55" fill="#ee2a2a"/><circle cx="464.05" cy="58.20" r="0.55" fill="#ee2a2a"/><circle cx="462.66" cy="54.30" r="0.55" fill="#ee2a2a"/><circle cx="465.88" cy="57.26" r="0.55" fill="#ee2a2a"/><circle cx="462.70" cy="55.65" r="0.55" fill="#ee2a2a"/><circle cx="459.30" cy="48.90" r="0.55" fill="#ee2a2a"/><circle cx="459.22" cy="54.35" r="0.55" fill="#ee2a2a"/><circle cx="459.91" cy="56.43" r="0.55" fill="#ee2a2a"/><circle cx="465.18" cy="57.71" r="0.55" fill="#ee2a2a"/><circle cx="465.35" cy="54.24" r="0.55" fill="#ee2a2a"/><circle cx="462.39" cy="58.83" r="0.55" fill="#ee2a2a"/><circle cx="463.28" cy="58.90" r="0.55" fill="#ee2a2a"/><circle cx="457.95" cy="57.31" r="0.55" fill="#ee2a2a"/><circle cx="464.60" cy="56.53" r="0.55" fill="#ee2a2a"/><circle cx="466.15" cy="56.74" r="0.55" fill="#ee2a2a"/><circle cx="459.09" cy="59.09" r="0.55" fill="#ee2a2a"/><circle cx="462.46" cy="59.74" r="0.55" fill="#ee2a2a"/><circle cx="461.93" cy="57.75" r="0.55" fill="#ee2a2a"/><circle cx="465.43" cy="58.70" r="0.55" fill="#ee2a2a"/><circle cx="466.49" cy="59.53" r="0.55" fill="#ee2a2a"/><circle cx="462.92" cy="56.77" r="0.55" fill="#ee2a2a"/><circle cx="459.93" cy="54.15" r="0.55" fill="#ee2a2a"/><circle cx="460.65" cy="59.23" r="0.55" fill="#ee2a2a"/><circle cx="460.68" cy="59.64" r="0.55" fill="#ee2a2a"/><circle cx="462.75" cy="56.31" r="0.55" fill="#ee2a2a"/><circle cx="463.37" cy="58.69" r="0.55" fill="#ee2a2a"/><circle cx="465.64" cy="59.47" r="0.55" fill="#ee2a2a"/><circle cx="460.10" cy="59.12" r="0.55" fill="#ee2a2a"/><circle cx="464.37" cy="59.17" r="0.55" fill="#ee2a2a"/><circle cx="465.31" cy="53.40" r="0.55" fill="#ee2a2a"/><circle cx="461.62" cy="59.57" r="0.55" fill="#ee2a2a"/><circle cx="459.72" cy="58.17" r="0.55" fill="#ee2a2a"/><circle cx="458.01" cy="47.11" r="0.55" fill="#ee2a2a"/><circle cx="465.06" cy="57.38" r="0.55" fill="#ee2a2a"/><circle cx="459.02" cy="44.38" r="0.55" fill="#ee2a2a"/><circle cx="464.90" cy="57.61" r="0.55" fill="#ee2a2a"/><circle cx="459.96" cy="59.66" r="0.55" fill="#ee2a2a"/><circle cx="458.99" cy="51.85" r="0.55" fill="#ee2a2a"/><circle cx="460.52" cy="58.00" r="0.55" fill="#ee2a2a"/><circle cx="458.35" cy="57.81" r="0.55" fill="#ee2a2a"/><circle cx="467.36" cy="59.67" r="0.55" fill="#ee2a2a"/><circle cx="464.79" cy="54.61" r="0.55" fill="#ee2a2a"/><circle cx="460.08" cy="58.86" r="0.55" fill="#ee2a2a"/><circle cx="459.97" cy="56.91" r="0.55" fill="#ee2a2a"/><circle cx="466.74" cy="57.57" r="0.55" fill="#ee2a2a"/><circle cx="460.90" cy="58.17" r="0.55" fill="#ee2a2a"/><circle cx="463.59" cy="45.48" r="0.55" fill="#ee2a2a"/><circle cx="461.55" cy="59.65" r="0.55" fill="#ee2a2a"/><circle cx="458.17" cy="56.02" r="0.55" fill="#ee2a2a"/><circle cx="464.41" cy="58.29" r="0.55" fill="#ee2a2a"/><circle cx="463.39" cy="52.61" r="0.55" fill="#ee2a2a"/><circle cx="462.13" cy="51.97" r="0.55" fill="#ee2a2a"/><circle cx="465.86" cy="58.00" r="0.55" fill="#ee2a2a"/><circle cx="465.26" cy="58.07" r="0.55" fill="#ee2a2a"/><circle cx="461.00" cy="58.93" r="0.55" fill="#ee2a2a"/><circle cx="462.99" cy="59.07" r="0.55" fill="#ee2a2a"/><circle cx="459.60" cy="59.16" r="0.55" fill="#ee2a2a"/><circle cx="462.18" cy="58.93" r="0.55" fill="#ee2a2a"/><circle cx="461.98" cy="58.47" r="0.55" fill="#ee2a2a"/><circle cx="464.26" cy="41.77" r="0.55" fill="#ee2a2a"/><circle cx="459.60" cy="52.65" r="0.55" fill="#ee2a2a"/><circle cx="458.31" cy="58.06" r="0.55" fill="#ee2a2a"/><circle cx="461.16" cy="55.57" r="0.55" fill="#ee2a2a"/><circle cx="457.78" cy="58.64" r="0.55" fill="#ee2a2a"/><circle cx="460.17" cy="59.08" r="0.55" fill="#ee2a2a"/><circle cx="466.65" cy="58.00" r="0.55" fill="#ee2a2a"/><circle cx="460.23" cy="55.28" r="0.55" fill="#ee2a2a"/><circle cx="459.10" cy="58.19" r="0.55" fill="#ee2a2a"/><circle cx="461.13" cy="49.87" r="0.55" fill="#ee2a2a"/><circle cx="464.69" cy="54.58" r="0.55" fill="#ee2a2a"/><circle cx="457.80" cy="51.25" r="0.55" fill="#ee2a2a"/><circle cx="461.37" cy="58.40" r="0.55" fill="#ee2a2a"/><circle cx="466.25" cy="59.49" r="0.55" fill="#ee2a2a"/><circle cx="465.15" cy="58.38" r="0.55" fill="#ee2a2a"/><circle cx="458.14" cy="57.16" r="0.55" fill="#ee2a2a"/><circle cx="459.94" cy="58.00" r="0.55" fill="#ee2a2a"/><circle cx="459.08" cy="59.65" r="0.55" fill="#ee2a2a"/><circle cx="457.91" cy="56.54" r="0.55" fill="#ee2a2a"/><circle cx="461.76" cy="58.45" r="0.55" fill="#ee2a2a"/><circle cx="458.93" cy="56.97" r="0.55" fill="#ee2a2a"/><circle cx="460.15" cy="55.39" r="0.55" fill="#ee2a2a"/><circle cx="464.13" cy="55.15" r="0.55" fill="#ee2a2a"/><circle cx="459.61" cy="59.23" r="0.55" fill="#ee2a2a"/><circle cx="464.59" cy="58.62" r="0.55" fill="#ee2a2a"/><circle cx="461.39" cy="57.93" r="0.55" fill="#ee2a2a"/><circle cx="459.82" cy="52.57" r="0.55" fill="#ee2a2a"/><circle cx="460.98" cy="58.56" r="0.55" fill="#ee2a2a"/><circle cx="458.00" cy="58.93" r="0.55" fill="#ee2a2a"/><circle cx="463.78" cy="59.71" r="0.55" fill="#ee2a2a"/><circle cx="465.53" cy="56.80" r="0.55" fill="#ee2a2a"/><circle cx="460.52" cy="46.43" r="0.55" fill="#ee2a2a"/><circle cx="466.61" cy="55.80" r="0.55" fill="#ee2a2a"/><circle cx="464.35" cy="58.92" r="0.55" fill="#ee2a2a"/><circle cx="466.96" cy="55.85" r="0.55" fill="#ee2a2a"/><circle cx="459.90" cy="52.50" r="0.55" fill="#ee2a2a"/><circle cx="458.48" cy="56.20" r="0.55" fill="#ee2a2a"/><circle cx="461.45" cy="57.79" r="0.55" fill="#ee2a2a"/><circle cx="461.36" cy="59.58" r="0.55" fill="#ee2a2a"/><circle cx="462.47" cy="58.37" r="0.55" fill="#ee2a2a"/><circle cx="459.15" cy="58.62" r="0.55" fill="#ee2a2a"/><circle cx="462.26" cy="57.95" r="0.55" fill="#ee2a2a"/><circle cx="464.12" cy="59.14" r="0.55" fill="#ee2a2a"/><circle cx="458.51" cy="58.81" r="0.55" fill="#ee2a2a"/><circle cx="461.74" cy="71.45" r="0.55" fill="#1aa6d8"/><circle cx="463.31" cy="70.69" r="0.55" fill="#1aa6d8"/><circle cx="463.02" cy="73.83" r="0.55" fill="#1aa6d8"/><circle cx="457.83" cy="73.81" r="0.55" fill="#1aa6d8"/><circle cx="461.17" cy="71.69" r="0.55" fill="#1aa6d8"/><circle cx="461.56" cy="70.40" r="0.55" fill="#1aa6d8"/><circle cx="462.46" cy="70.37" r="0.55" fill="#1aa6d8"/><circle cx="462.20" cy="72.84" r="0.55" fill="#1aa6d8"/><circle cx="460.08" cy="71.38" r="0.55" fill="#1aa6d8"/><circle cx="461.00" cy="70.27" r="0.55" fill="#1aa6d8"/><circle cx="463.14" cy="76.87" r="0.55" fill="#1aa6d8"/><circle cx="464.15" cy="71.11" r="0.55" fill="#1aa6d8"/><circle cx="462.20" cy="70.82" r="0.55" fill="#1aa6d8"/><circle cx="466.96" cy="73.07" r="0.55" fill="#1aa6d8"/><circle cx="463.25" cy="71.55" r="0.55" fill="#1aa6d8"/><circle cx="465.16" cy="78.76" r="0.55" fill="#1aa6d8"/><circle cx="463.68" cy="73.16" r="0.55" fill="#1aa6d8"/><circle cx="461.67" cy="71.79" r="0.55" fill="#1aa6d8"/><circle cx="465.73" cy="71.17" r="0.55" fill="#1aa6d8"/><circle cx="461.34" cy="76.55" r="0.55" fill="#1aa6d8"/><circle cx="457.97" cy="77.41" r="0.55" fill="#1aa6d8"/><circle cx="462.57" cy="70.64" r="0.55" fill="#1aa6d8"/><circle cx="461.13" cy="71.31" r="0.55" fill="#1aa6d8"/><circle cx="459.07" cy="81.51" r="0.55" fill="#1aa6d8"/><circle cx="459.84" cy="70.84" r="0.55" fill="#1aa6d8"/><circle cx="459.90" cy="73.62" r="0.55" fill="#1aa6d8"/><circle cx="462.93" cy="70.20" r="0.55" fill="#1aa6d8"/><circle cx="459.95" cy="71.70" r="0.55" fill="#1aa6d8"/><circle cx="463.97" cy="72.24" r="0.55" fill="#1aa6d8"/><circle cx="463.72" cy="72.58" r="0.55" fill="#1aa6d8"/><circle cx="465.74" cy="72.67" r="0.55" fill="#1aa6d8"/><circle cx="460.87" cy="80.60" r="0.55" fill="#1aa6d8"/><circle cx="466.29" cy="71.48" r="0.55" fill="#1aa6d8"/><circle cx="464.62" cy="71.33" r="0.55" fill="#1aa6d8"/><circle cx="464.33" cy="73.77" r="0.55" fill="#1aa6d8"/><circle cx="465.68" cy="80.17" r="0.55" fill="#1aa6d8"/><circle cx="463.69" cy="70.72" r="0.55" fill="#1aa6d8"/><circle cx="463.13" cy="72.22" r="0.55" fill="#1aa6d8"/><circle cx="460.40" cy="71.58" r="0.55" fill="#1aa6d8"/><circle cx="462.83" cy="74.35" r="0.55" fill="#1aa6d8"/><circle cx="460.04" cy="71.01" r="0.55" fill="#1aa6d8"/><circle cx="459.34" cy="71.38" r="0.55" fill="#1aa6d8"/><circle cx="458.83" cy="72.36" r="0.55" fill="#1aa6d8"/><circle cx="458.27" cy="70.40" r="0.55" fill="#1aa6d8"/><circle cx="464.51" cy="70.52" r="0.55" fill="#1aa6d8"/><circle cx="462.03" cy="70.56" r="0.55" fill="#1aa6d8"/><circle cx="462.31" cy="74.64" r="0.55" fill="#1aa6d8"/><circle cx="466.09" cy="70.73" r="0.55" fill="#1aa6d8"/><circle cx="458.12" cy="76.32" r="0.55" fill="#1aa6d8"/><circle cx="462.57" cy="71.08" r="0.55" fill="#1aa6d8"/><circle cx="461.44" cy="74.98" r="0.55" fill="#1aa6d8"/><circle cx="460.07" cy="73.98" r="0.55" fill="#1aa6d8"/><circle cx="460.80" cy="73.97" r="0.55" fill="#1aa6d8"/><circle cx="465.04" cy="71.42" r="0.55" fill="#1aa6d8"/><circle cx="465.72" cy="75.75" r="0.55" fill="#1aa6d8"/><circle cx="461.72" cy="72.71" r="0.55" fill="#1aa6d8"/><circle cx="463.71" cy="73.88" r="0.55" fill="#1aa6d8"/><circle cx="465.45" cy="75.53" r="0.55" fill="#1aa6d8"/><circle cx="461.29" cy="70.60" r="0.55" fill="#1aa6d8"/><circle cx="459.86" cy="73.52" r="0.55" fill="#1aa6d8"/><circle cx="457.73" cy="70.81" r="0.55" fill="#1aa6d8"/><circle cx="466.82" cy="72.84" r="0.55" fill="#1aa6d8"/><circle cx="458.91" cy="80.76" r="0.55" fill="#1aa6d8"/><circle cx="461.71" cy="73.69" r="0.55" fill="#1aa6d8"/><circle cx="461.49" cy="73.19" r="0.55" fill="#1aa6d8"/><circle cx="467.29" cy="78.33" r="0.55" fill="#1aa6d8"/><circle cx="464.59" cy="70.35" r="0.55" fill="#1aa6d8"/><circle cx="458.02" cy="70.58" r="0.55" fill="#1aa6d8"/><circle cx="464.77" cy="71.21" r="0.55" fill="#1aa6d8"/><circle cx="458.78" cy="85.37" r="0.55" fill="#1aa6d8"/><circle cx="457.86" cy="71.40" r="0.55" fill="#1aa6d8"/><circle cx="462.33" cy="72.55" r="0.55" fill="#1aa6d8"/><circle cx="460.63" cy="71.60" r="0.55" fill="#1aa6d8"/><circle cx="465.82" cy="75.04" r="0.55" fill="#1aa6d8"/><circle cx="461.44" cy="71.20" r="0.55" fill="#1aa6d8"/><circle cx="465.10" cy="73.09" r="0.55" fill="#1aa6d8"/><circle cx="461.42" cy="82.09" r="0.55" fill="#1aa6d8"/><circle cx="462.95" cy="73.75" r="0.55" fill="#1aa6d8"/><circle cx="459.04" cy="75.03" r="0.55" fill="#1aa6d8"/><circle cx="458.65" cy="70.78" r="0.55" fill="#1aa6d8"/><circle cx="460.06" cy="78.33" r="0.55" fill="#1aa6d8"/><circle cx="458.78" cy="72.21" r="0.55" fill="#1aa6d8"/><circle cx="457.79" cy="71.37" r="0.55" fill="#1aa6d8"/><circle cx="459.01" cy="72.70" r="0.55" fill="#1aa6d8"/><circle cx="460.29" cy="73.14" r="0.55" fill="#1aa6d8"/><circle cx="462.33" cy="70.97" r="0.55" fill="#1aa6d8"/><circle cx="460.14" cy="71.57" r="0.55" fill="#1aa6d8"/><circle cx="458.23" cy="70.36" r="0.55" fill="#1aa6d8"/><circle cx="460.63" cy="76.89" r="0.55" fill="#1aa6d8"/><circle cx="459.39" cy="70.44" r="0.55" fill="#1aa6d8"/><circle cx="467.37" cy="72.18" r="0.55" fill="#1aa6d8"/><circle cx="466.10" cy="70.88" r="0.55" fill="#1aa6d8"/><circle cx="461.66" cy="72.19" r="0.55" fill="#1aa6d8"/><circle cx="461.48" cy="75.14" r="0.55" fill="#1aa6d8"/><circle cx="463.00" cy="70.38" r="0.55" fill="#1aa6d8"/><circle cx="463.71" cy="73.41" r="0.55" fill="#1aa6d8"/><circle cx="466.80" cy="71.17" r="0.55" fill="#1aa6d8"/><circle cx="467.34" cy="76.20" r="0.55" fill="#1aa6d8"/><circle cx="465.77" cy="71.96" r="0.55" fill="#1aa6d8"/><circle cx="459.32" cy="74.07" r="0.55" fill="#1aa6d8"/><circle cx="459.25" cy="70.28" r="0.55" fill="#1aa6d8"/><circle cx="458.33" cy="70.58" r="0.55" fill="#1aa6d8"/><circle cx="464.98" cy="71.53" r="0.55" fill="#1aa6d8"/><circle cx="462.64" cy="71.31" r="0.55" fill="#1aa6d8"/><circle cx="459.66" cy="70.23" r="0.55" fill="#1aa6d8"/><circle cx="457.71" cy="79.80" r="0.55" fill="#1aa6d8"/><circle cx="465.54" cy="72.45" r="0.55" fill="#1aa6d8"/><circle cx="464.81" cy="74.91" r="0.55" fill="#1aa6d8"/><circle cx="465.47" cy="71.73" r="0.55" fill="#1aa6d8"/><circle cx="465.12" cy="75.47" r="0.55" fill="#1aa6d8"/>
<rect x="457.0" y="60.5" width="11.0" height="9.5" fill="#4CB520"/>
<text x="462.50" y="66.30" font-size="3.60" fill="#333" text-anchor="middle" >TH</text>
<rect x="468.9" y="41.6" width="10.6" height="52.0" fill="#ededed"/>
<circle cx="470.45" cy="44.45" r="0.55" fill="#ee2a2a"/><circle cx="473.28" cy="48.99" r="0.55" fill="#ee2a2a"/><circle cx="471.85" cy="55.40" r="0.55" fill="#ee2a2a"/><circle cx="469.72" cy="51.15" r="0.55" fill="#ee2a2a"/><circle cx="471.64" cy="56.70" r="0.55" fill="#ee2a2a"/><circle cx="472.97" cy="58.03" r="0.55" fill="#ee2a2a"/><circle cx="477.12" cy="55.95" r="0.55" fill="#ee2a2a"/><circle cx="475.50" cy="58.17" r="0.55" fill="#ee2a2a"/><circle cx="472.12" cy="58.23" r="0.55" fill="#ee2a2a"/><circle cx="472.52" cy="51.32" r="0.55" fill="#ee2a2a"/><circle cx="472.65" cy="59.44" r="0.55" fill="#ee2a2a"/><circle cx="471.49" cy="54.93" r="0.55" fill="#ee2a2a"/><circle cx="474.63" cy="54.91" r="0.55" fill="#ee2a2a"/><circle cx="471.17" cy="55.70" r="0.55" fill="#ee2a2a"/><circle cx="470.84" cy="59.40" r="0.55" fill="#ee2a2a"/><circle cx="473.55" cy="58.25" r="0.55" fill="#ee2a2a"/><circle cx="474.22" cy="59.77" r="0.55" fill="#ee2a2a"/><circle cx="472.52" cy="57.94" r="0.55" fill="#ee2a2a"/><circle cx="478.45" cy="57.03" r="0.55" fill="#ee2a2a"/><circle cx="477.78" cy="58.98" r="0.55" fill="#ee2a2a"/><circle cx="476.59" cy="58.41" r="0.55" fill="#ee2a2a"/><circle cx="478.78" cy="59.39" r="0.55" fill="#ee2a2a"/><circle cx="478.55" cy="57.78" r="0.55" fill="#ee2a2a"/><circle cx="473.34" cy="58.91" r="0.55" fill="#ee2a2a"/><circle cx="471.17" cy="55.39" r="0.55" fill="#ee2a2a"/><circle cx="475.87" cy="58.65" r="0.55" fill="#ee2a2a"/><circle cx="472.53" cy="49.18" r="0.55" fill="#ee2a2a"/><circle cx="472.86" cy="59.07" r="0.55" fill="#ee2a2a"/><circle cx="470.89" cy="43.41" r="0.55" fill="#ee2a2a"/><circle cx="473.05" cy="56.17" r="0.55" fill="#ee2a2a"/><circle cx="471.50" cy="56.08" r="0.55" fill="#ee2a2a"/><circle cx="477.84" cy="56.35" r="0.55" fill="#ee2a2a"/><circle cx="475.41" cy="52.81" r="0.55" fill="#ee2a2a"/><circle cx="474.84" cy="57.27" r="0.55" fill="#ee2a2a"/><circle cx="477.37" cy="59.36" r="0.55" fill="#ee2a2a"/><circle cx="473.76" cy="55.59" r="0.55" fill="#ee2a2a"/><circle cx="473.44" cy="55.86" r="0.55" fill="#ee2a2a"/><circle cx="471.66" cy="58.05" r="0.55" fill="#ee2a2a"/><circle cx="474.88" cy="56.50" r="0.55" fill="#ee2a2a"/><circle cx="469.80" cy="57.19" r="0.55" fill="#ee2a2a"/><circle cx="473.70" cy="56.25" r="0.55" fill="#ee2a2a"/><circle cx="475.09" cy="56.56" r="0.55" fill="#ee2a2a"/><circle cx="470.93" cy="50.14" r="0.55" fill="#ee2a2a"/><circle cx="478.83" cy="57.52" r="0.55" fill="#ee2a2a"/><circle cx="472.44" cy="54.98" r="0.55" fill="#ee2a2a"/><circle cx="478.80" cy="55.00" r="0.55" fill="#ee2a2a"/><circle cx="477.65" cy="57.95" r="0.55" fill="#ee2a2a"/><circle cx="478.81" cy="59.31" r="0.55" fill="#ee2a2a"/><circle cx="471.70" cy="57.37" r="0.55" fill="#ee2a2a"/><circle cx="475.60" cy="53.20" r="0.55" fill="#ee2a2a"/><circle cx="477.30" cy="49.81" r="0.55" fill="#ee2a2a"/><circle cx="474.31" cy="54.05" r="0.55" fill="#ee2a2a"/><circle cx="476.19" cy="52.45" r="0.55" fill="#ee2a2a"/><circle cx="477.09" cy="58.76" r="0.55" fill="#ee2a2a"/><circle cx="474.54" cy="57.62" r="0.55" fill="#ee2a2a"/><circle cx="471.34" cy="52.58" r="0.55" fill="#ee2a2a"/><circle cx="475.55" cy="58.62" r="0.55" fill="#ee2a2a"/><circle cx="474.72" cy="59.52" r="0.55" fill="#ee2a2a"/><circle cx="474.11" cy="54.23" r="0.55" fill="#ee2a2a"/><circle cx="477.02" cy="58.80" r="0.55" fill="#ee2a2a"/><circle cx="476.75" cy="52.85" r="0.55" fill="#ee2a2a"/><circle cx="478.01" cy="56.93" r="0.55" fill="#ee2a2a"/><circle cx="470.93" cy="54.06" r="0.55" fill="#ee2a2a"/><circle cx="470.44" cy="58.16" r="0.55" fill="#ee2a2a"/><circle cx="472.75" cy="59.67" r="0.55" fill="#ee2a2a"/><circle cx="477.34" cy="52.60" r="0.55" fill="#ee2a2a"/><circle cx="471.21" cy="59.35" r="0.55" fill="#ee2a2a"/><circle cx="477.48" cy="58.03" r="0.55" fill="#ee2a2a"/><circle cx="477.98" cy="56.34" r="0.55" fill="#ee2a2a"/><circle cx="478.79" cy="59.53" r="0.55" fill="#ee2a2a"/><circle cx="475.41" cy="58.97" r="0.55" fill="#ee2a2a"/><circle cx="476.34" cy="52.27" r="0.55" fill="#ee2a2a"/><circle cx="475.78" cy="59.01" r="0.55" fill="#ee2a2a"/><circle cx="469.64" cy="57.77" r="0.55" fill="#ee2a2a"/><circle cx="472.46" cy="58.31" r="0.55" fill="#ee2a2a"/><circle cx="472.12" cy="56.22" r="0.55" fill="#ee2a2a"/><circle cx="476.03" cy="56.47" r="0.55" fill="#ee2a2a"/><circle cx="470.70" cy="59.08" r="0.55" fill="#ee2a2a"/><circle cx="473.88" cy="55.54" r="0.55" fill="#ee2a2a"/><circle cx="470.59" cy="59.30" r="0.55" fill="#ee2a2a"/><circle cx="475.23" cy="49.61" r="0.55" fill="#ee2a2a"/><circle cx="471.34" cy="58.21" r="0.55" fill="#ee2a2a"/><circle cx="472.89" cy="55.00" r="0.55" fill="#ee2a2a"/><circle cx="473.34" cy="58.46" r="0.55" fill="#ee2a2a"/><circle cx="475.43" cy="59.23" r="0.55" fill="#ee2a2a"/><circle cx="477.21" cy="57.81" r="0.55" fill="#ee2a2a"/><circle cx="473.79" cy="57.91" r="0.55" fill="#ee2a2a"/><circle cx="478.35" cy="57.26" r="0.55" fill="#ee2a2a"/><circle cx="476.11" cy="58.27" r="0.55" fill="#ee2a2a"/><circle cx="474.95" cy="58.84" r="0.55" fill="#ee2a2a"/><circle cx="477.70" cy="58.59" r="0.55" fill="#ee2a2a"/><circle cx="477.53" cy="58.58" r="0.55" fill="#ee2a2a"/><circle cx="473.78" cy="55.74" r="0.55" fill="#ee2a2a"/><circle cx="473.14" cy="50.03" r="0.55" fill="#ee2a2a"/><circle cx="475.15" cy="54.90" r="0.55" fill="#ee2a2a"/><circle cx="470.10" cy="57.66" r="0.55" fill="#ee2a2a"/><circle cx="472.14" cy="57.84" r="0.55" fill="#ee2a2a"/><circle cx="478.47" cy="57.71" r="0.55" fill="#ee2a2a"/><circle cx="476.03" cy="58.55" r="0.55" fill="#ee2a2a"/><circle cx="471.80" cy="55.79" r="0.55" fill="#ee2a2a"/><circle cx="470.74" cy="57.89" r="0.55" fill="#ee2a2a"/><circle cx="471.87" cy="51.67" r="0.55" fill="#ee2a2a"/><circle cx="472.71" cy="57.83" r="0.55" fill="#ee2a2a"/><circle cx="477.49" cy="53.62" r="0.55" fill="#ee2a2a"/><circle cx="474.63" cy="56.58" r="0.55" fill="#ee2a2a"/><circle cx="477.93" cy="59.42" r="0.55" fill="#ee2a2a"/><circle cx="472.92" cy="59.47" r="0.55" fill="#ee2a2a"/><circle cx="476.30" cy="58.11" r="0.55" fill="#ee2a2a"/><circle cx="472.73" cy="55.82" r="0.55" fill="#ee2a2a"/><circle cx="478.43" cy="51.59" r="0.55" fill="#ee2a2a"/><circle cx="475.45" cy="59.72" r="0.55" fill="#ee2a2a"/><circle cx="472.90" cy="57.52" r="0.55" fill="#ee2a2a"/><circle cx="472.47" cy="57.55" r="0.55" fill="#ee2a2a"/><circle cx="475.19" cy="55.80" r="0.55" fill="#ee2a2a"/><circle cx="478.68" cy="47.13" r="0.55" fill="#ee2a2a"/><circle cx="475.61" cy="53.45" r="0.55" fill="#ee2a2a"/><circle cx="478.88" cy="55.45" r="0.55" fill="#ee2a2a"/><circle cx="473.84" cy="59.55" r="0.55" fill="#ee2a2a"/><circle cx="475.67" cy="57.95" r="0.55" fill="#ee2a2a"/><circle cx="478.80" cy="58.91" r="0.55" fill="#ee2a2a"/><circle cx="472.98" cy="58.95" r="0.55" fill="#ee2a2a"/><circle cx="473.21" cy="59.24" r="0.55" fill="#ee2a2a"/><circle cx="470.29" cy="54.93" r="0.55" fill="#ee2a2a"/><circle cx="475.60" cy="59.14" r="0.55" fill="#ee2a2a"/><circle cx="476.48" cy="56.29" r="0.55" fill="#ee2a2a"/><circle cx="477.13" cy="58.75" r="0.55" fill="#ee2a2a"/><circle cx="476.79" cy="55.07" r="0.55" fill="#ee2a2a"/><circle cx="473.91" cy="59.34" r="0.55" fill="#ee2a2a"/><circle cx="477.58" cy="59.74" r="0.55" fill="#ee2a2a"/><circle cx="477.92" cy="49.39" r="0.55" fill="#ee2a2a"/><circle cx="472.80" cy="59.71" r="0.55" fill="#ee2a2a"/><circle cx="474.52" cy="57.04" r="0.55" fill="#ee2a2a"/><circle cx="476.92" cy="59.38" r="0.55" fill="#ee2a2a"/><circle cx="474.27" cy="58.51" r="0.55" fill="#ee2a2a"/><circle cx="474.84" cy="59.32" r="0.55" fill="#ee2a2a"/><circle cx="470.33" cy="59.30" r="0.55" fill="#ee2a2a"/><circle cx="472.26" cy="57.22" r="0.55" fill="#ee2a2a"/><circle cx="471.82" cy="54.39" r="0.55" fill="#ee2a2a"/><circle cx="470.01" cy="57.88" r="0.55" fill="#ee2a2a"/><circle cx="473.75" cy="58.92" r="0.55" fill="#ee2a2a"/><circle cx="473.82" cy="56.86" r="0.55" fill="#ee2a2a"/><circle cx="470.48" cy="52.95" r="0.55" fill="#ee2a2a"/><circle cx="470.96" cy="52.97" r="0.55" fill="#ee2a2a"/><circle cx="474.43" cy="47.14" r="0.55" fill="#ee2a2a"/><circle cx="475.25" cy="57.92" r="0.55" fill="#ee2a2a"/><circle cx="478.56" cy="52.62" r="0.55" fill="#ee2a2a"/><circle cx="469.60" cy="57.88" r="0.55" fill="#ee2a2a"/><circle cx="477.19" cy="70.70" r="0.55" fill="#1aa6d8"/><circle cx="476.20" cy="74.18" r="0.55" fill="#1aa6d8"/><circle cx="474.49" cy="70.71" r="0.55" fill="#1aa6d8"/><circle cx="470.54" cy="70.29" r="0.55" fill="#1aa6d8"/><circle cx="478.58" cy="71.27" r="0.55" fill="#1aa6d8"/><circle cx="477.47" cy="73.29" r="0.55" fill="#1aa6d8"/><circle cx="473.41" cy="70.34" r="0.55" fill="#1aa6d8"/><circle cx="471.95" cy="70.44" r="0.55" fill="#1aa6d8"/><circle cx="478.14" cy="70.56" r="0.55" fill="#1aa6d8"/><circle cx="474.10" cy="71.40" r="0.55" fill="#1aa6d8"/><circle cx="477.83" cy="73.38" r="0.55" fill="#1aa6d8"/><circle cx="474.84" cy="78.98" r="0.55" fill="#1aa6d8"/><circle cx="478.00" cy="72.29" r="0.55" fill="#1aa6d8"/><circle cx="472.31" cy="71.70" r="0.55" fill="#1aa6d8"/><circle cx="471.93" cy="74.23" r="0.55" fill="#1aa6d8"/><circle cx="473.53" cy="71.58" r="0.55" fill="#1aa6d8"/><circle cx="472.87" cy="72.14" r="0.55" fill="#1aa6d8"/><circle cx="473.74" cy="71.89" r="0.55" fill="#1aa6d8"/><circle cx="477.36" cy="70.35" r="0.55" fill="#1aa6d8"/><circle cx="474.46" cy="70.39" r="0.55" fill="#1aa6d8"/><circle cx="473.26" cy="72.58" r="0.55" fill="#1aa6d8"/><circle cx="470.43" cy="70.96" r="0.55" fill="#1aa6d8"/><circle cx="472.46" cy="71.60" r="0.55" fill="#1aa6d8"/><circle cx="471.66" cy="72.19" r="0.55" fill="#1aa6d8"/><circle cx="474.08" cy="74.35" r="0.55" fill="#1aa6d8"/><circle cx="473.32" cy="70.23" r="0.55" fill="#1aa6d8"/><circle cx="469.57" cy="80.37" r="0.55" fill="#1aa6d8"/><circle cx="478.53" cy="72.90" r="0.55" fill="#1aa6d8"/><circle cx="475.12" cy="71.57" r="0.55" fill="#1aa6d8"/><circle cx="472.33" cy="71.58" r="0.55" fill="#1aa6d8"/><circle cx="475.04" cy="73.02" r="0.55" fill="#1aa6d8"/><circle cx="474.18" cy="71.34" r="0.55" fill="#1aa6d8"/><circle cx="476.59" cy="72.38" r="0.55" fill="#1aa6d8"/><circle cx="470.37" cy="70.36" r="0.55" fill="#1aa6d8"/><circle cx="472.04" cy="71.07" r="0.55" fill="#1aa6d8"/><circle cx="473.50" cy="74.96" r="0.55" fill="#1aa6d8"/><circle cx="473.28" cy="76.10" r="0.55" fill="#1aa6d8"/><circle cx="475.89" cy="71.21" r="0.55" fill="#1aa6d8"/><circle cx="478.75" cy="70.47" r="0.55" fill="#1aa6d8"/><circle cx="472.58" cy="75.54" r="0.55" fill="#1aa6d8"/><circle cx="477.20" cy="71.35" r="0.55" fill="#1aa6d8"/><circle cx="475.54" cy="74.86" r="0.55" fill="#1aa6d8"/><circle cx="476.68" cy="70.38" r="0.55" fill="#1aa6d8"/><circle cx="475.37" cy="70.35" r="0.55" fill="#1aa6d8"/><circle cx="478.22" cy="72.61" r="0.55" fill="#1aa6d8"/><circle cx="469.71" cy="73.25" r="0.55" fill="#1aa6d8"/><circle cx="476.58" cy="78.37" r="0.55" fill="#1aa6d8"/><circle cx="469.55" cy="72.80" r="0.55" fill="#1aa6d8"/><circle cx="473.43" cy="74.21" r="0.55" fill="#1aa6d8"/><circle cx="478.75" cy="73.61" r="0.55" fill="#1aa6d8"/><circle cx="470.20" cy="77.66" r="0.55" fill="#1aa6d8"/><circle cx="473.64" cy="74.76" r="0.55" fill="#1aa6d8"/><circle cx="473.05" cy="74.38" r="0.55" fill="#1aa6d8"/><circle cx="473.61" cy="71.98" r="0.55" fill="#1aa6d8"/><circle cx="472.51" cy="70.58" r="0.55" fill="#1aa6d8"/><circle cx="470.17" cy="74.18" r="0.55" fill="#1aa6d8"/><circle cx="477.34" cy="70.57" r="0.55" fill="#1aa6d8"/><circle cx="474.65" cy="73.49" r="0.55" fill="#1aa6d8"/><circle cx="470.61" cy="70.56" r="0.55" fill="#1aa6d8"/><circle cx="478.47" cy="71.31" r="0.55" fill="#1aa6d8"/><circle cx="478.17" cy="72.66" r="0.55" fill="#1aa6d8"/><circle cx="473.40" cy="70.91" r="0.55" fill="#1aa6d8"/><circle cx="477.39" cy="72.51" r="0.55" fill="#1aa6d8"/><circle cx="477.71" cy="70.59" r="0.55" fill="#1aa6d8"/><circle cx="469.79" cy="72.12" r="0.55" fill="#1aa6d8"/><circle cx="473.05" cy="71.90" r="0.55" fill="#1aa6d8"/><circle cx="478.22" cy="73.57" r="0.55" fill="#1aa6d8"/><circle cx="475.98" cy="72.24" r="0.55" fill="#1aa6d8"/><circle cx="476.82" cy="71.67" r="0.55" fill="#1aa6d8"/><circle cx="476.48" cy="70.53" r="0.55" fill="#1aa6d8"/><circle cx="475.01" cy="70.75" r="0.55" fill="#1aa6d8"/><circle cx="472.75" cy="70.88" r="0.55" fill="#1aa6d8"/><circle cx="472.79" cy="70.74" r="0.55" fill="#1aa6d8"/><circle cx="474.39" cy="72.89" r="0.55" fill="#1aa6d8"/><circle cx="474.90" cy="71.68" r="0.55" fill="#1aa6d8"/><circle cx="472.87" cy="75.74" r="0.55" fill="#1aa6d8"/><circle cx="474.02" cy="72.83" r="0.55" fill="#1aa6d8"/><circle cx="472.58" cy="82.03" r="0.55" fill="#1aa6d8"/><circle cx="471.70" cy="73.79" r="0.55" fill="#1aa6d8"/><circle cx="476.37" cy="71.11" r="0.55" fill="#1aa6d8"/><circle cx="471.92" cy="72.77" r="0.55" fill="#1aa6d8"/><circle cx="477.25" cy="70.40" r="0.55" fill="#1aa6d8"/><circle cx="476.23" cy="71.62" r="0.55" fill="#1aa6d8"/><circle cx="475.31" cy="71.90" r="0.55" fill="#1aa6d8"/><circle cx="478.67" cy="72.66" r="0.55" fill="#1aa6d8"/><circle cx="473.78" cy="77.41" r="0.55" fill="#1aa6d8"/><circle cx="471.67" cy="72.20" r="0.55" fill="#1aa6d8"/><circle cx="470.46" cy="74.40" r="0.55" fill="#1aa6d8"/><circle cx="477.47" cy="71.30" r="0.55" fill="#1aa6d8"/><circle cx="476.07" cy="70.31" r="0.55" fill="#1aa6d8"/><circle cx="474.68" cy="72.72" r="0.55" fill="#1aa6d8"/><circle cx="470.92" cy="71.42" r="0.55" fill="#1aa6d8"/><circle cx="476.69" cy="79.24" r="0.55" fill="#1aa6d8"/><circle cx="470.42" cy="75.12" r="0.55" fill="#1aa6d8"/><circle cx="471.55" cy="74.80" r="0.55" fill="#1aa6d8"/><circle cx="474.53" cy="70.87" r="0.55" fill="#1aa6d8"/><circle cx="470.64" cy="73.02" r="0.55" fill="#1aa6d8"/><circle cx="474.97" cy="74.54" r="0.55" fill="#1aa6d8"/><circle cx="478.18" cy="77.09" r="0.55" fill="#1aa6d8"/><circle cx="472.92" cy="73.71" r="0.55" fill="#1aa6d8"/><circle cx="476.25" cy="79.25" r="0.55" fill="#1aa6d8"/><circle cx="477.56" cy="71.23" r="0.55" fill="#1aa6d8"/><circle cx="471.99" cy="74.09" r="0.55" fill="#1aa6d8"/><circle cx="469.69" cy="71.06" r="0.55" fill="#1aa6d8"/><circle cx="471.88" cy="72.51" r="0.55" fill="#1aa6d8"/><circle cx="471.88" cy="71.24" r="0.55" fill="#1aa6d8"/><circle cx="474.06" cy="70.62" r="0.55" fill="#1aa6d8"/><circle cx="472.18" cy="71.15" r="0.55" fill="#1aa6d8"/><circle cx="474.29" cy="71.18" r="0.55" fill="#1aa6d8"/><circle cx="471.00" cy="76.41" r="0.55" fill="#1aa6d8"/>
<rect x="468.9" y="60.5" width="10.6" height="9.5" fill="#00BE67"/>
<text x="474.20" y="66.30" font-size="3.60" fill="#333" text-anchor="middle" >HY</text>
<rect x="480.7" y="36.5" width="10.9" height="49.4" fill="#ededed"/>
<circle cx="489.59" cy="52.73" r="0.55" fill="#ee2a2a"/><circle cx="486.57" cy="56.42" r="0.55" fill="#ee2a2a"/><circle cx="486.49" cy="55.03" r="0.55" fill="#ee2a2a"/><circle cx="490.22" cy="55.92" r="0.55" fill="#ee2a2a"/><circle cx="483.82" cy="54.43" r="0.55" fill="#ee2a2a"/><circle cx="490.39" cy="59.60" r="0.55" fill="#ee2a2a"/><circle cx="488.94" cy="58.18" r="0.55" fill="#ee2a2a"/><circle cx="485.69" cy="58.84" r="0.55" fill="#ee2a2a"/><circle cx="488.37" cy="58.13" r="0.55" fill="#ee2a2a"/><circle cx="486.20" cy="49.45" r="0.55" fill="#ee2a2a"/><circle cx="484.68" cy="56.79" r="0.55" fill="#ee2a2a"/><circle cx="490.51" cy="58.85" r="0.55" fill="#ee2a2a"/><circle cx="490.42" cy="59.38" r="0.55" fill="#ee2a2a"/><circle cx="482.00" cy="55.95" r="0.55" fill="#ee2a2a"/><circle cx="482.29" cy="51.45" r="0.55" fill="#ee2a2a"/><circle cx="482.46" cy="56.80" r="0.55" fill="#ee2a2a"/><circle cx="484.30" cy="43.62" r="0.55" fill="#ee2a2a"/><circle cx="481.90" cy="52.40" r="0.55" fill="#ee2a2a"/><circle cx="481.96" cy="55.85" r="0.55" fill="#ee2a2a"/><circle cx="486.84" cy="59.69" r="0.55" fill="#ee2a2a"/><circle cx="487.95" cy="45.17" r="0.55" fill="#ee2a2a"/><circle cx="488.91" cy="52.84" r="0.55" fill="#ee2a2a"/><circle cx="482.05" cy="57.15" r="0.55" fill="#ee2a2a"/><circle cx="483.09" cy="57.10" r="0.55" fill="#ee2a2a"/><circle cx="484.74" cy="57.11" r="0.55" fill="#ee2a2a"/><circle cx="483.22" cy="57.31" r="0.55" fill="#ee2a2a"/><circle cx="485.35" cy="55.40" r="0.55" fill="#ee2a2a"/><circle cx="482.06" cy="57.40" r="0.55" fill="#ee2a2a"/><circle cx="486.71" cy="57.40" r="0.55" fill="#ee2a2a"/><circle cx="486.75" cy="46.86" r="0.55" fill="#ee2a2a"/><circle cx="484.21" cy="59.28" r="0.55" fill="#ee2a2a"/><circle cx="488.11" cy="58.33" r="0.55" fill="#ee2a2a"/><circle cx="490.77" cy="49.74" r="0.55" fill="#ee2a2a"/><circle cx="490.28" cy="49.02" r="0.55" fill="#ee2a2a"/><circle cx="490.37" cy="52.76" r="0.55" fill="#ee2a2a"/><circle cx="486.05" cy="59.73" r="0.55" fill="#ee2a2a"/><circle cx="487.95" cy="56.58" r="0.55" fill="#ee2a2a"/><circle cx="487.25" cy="56.38" r="0.55" fill="#ee2a2a"/><circle cx="482.14" cy="50.06" r="0.55" fill="#ee2a2a"/><circle cx="490.61" cy="57.16" r="0.55" fill="#ee2a2a"/><circle cx="482.38" cy="59.68" r="0.55" fill="#ee2a2a"/><circle cx="490.58" cy="52.48" r="0.55" fill="#ee2a2a"/><circle cx="481.61" cy="59.71" r="0.55" fill="#ee2a2a"/><circle cx="487.98" cy="53.43" r="0.55" fill="#ee2a2a"/><circle cx="486.93" cy="57.16" r="0.55" fill="#ee2a2a"/><circle cx="489.14" cy="54.70" r="0.55" fill="#ee2a2a"/><circle cx="481.96" cy="59.80" r="0.55" fill="#ee2a2a"/><circle cx="490.76" cy="54.11" r="0.55" fill="#ee2a2a"/><circle cx="485.25" cy="53.35" r="0.55" fill="#ee2a2a"/><circle cx="484.66" cy="58.33" r="0.55" fill="#ee2a2a"/><circle cx="488.77" cy="59.75" r="0.55" fill="#ee2a2a"/><circle cx="486.98" cy="58.70" r="0.55" fill="#ee2a2a"/><circle cx="484.55" cy="57.11" r="0.55" fill="#ee2a2a"/><circle cx="485.71" cy="55.75" r="0.55" fill="#ee2a2a"/><circle cx="489.85" cy="58.84" r="0.55" fill="#ee2a2a"/><circle cx="482.75" cy="59.10" r="0.55" fill="#ee2a2a"/><circle cx="485.95" cy="58.75" r="0.55" fill="#ee2a2a"/><circle cx="484.53" cy="54.29" r="0.55" fill="#ee2a2a"/><circle cx="487.65" cy="58.82" r="0.55" fill="#ee2a2a"/><circle cx="486.37" cy="58.71" r="0.55" fill="#ee2a2a"/><circle cx="489.81" cy="58.74" r="0.55" fill="#ee2a2a"/><circle cx="483.55" cy="59.07" r="0.55" fill="#ee2a2a"/><circle cx="484.50" cy="58.51" r="0.55" fill="#ee2a2a"/><circle cx="487.84" cy="55.13" r="0.55" fill="#ee2a2a"/><circle cx="486.54" cy="54.18" r="0.55" fill="#ee2a2a"/><circle cx="488.71" cy="59.51" r="0.55" fill="#ee2a2a"/><circle cx="483.41" cy="58.79" r="0.55" fill="#ee2a2a"/><circle cx="490.90" cy="57.87" r="0.55" fill="#ee2a2a"/><circle cx="484.76" cy="58.13" r="0.55" fill="#ee2a2a"/><circle cx="490.91" cy="51.09" r="0.55" fill="#ee2a2a"/><circle cx="482.61" cy="58.04" r="0.55" fill="#ee2a2a"/><circle cx="488.89" cy="54.19" r="0.55" fill="#ee2a2a"/><circle cx="488.97" cy="58.31" r="0.55" fill="#ee2a2a"/><circle cx="484.08" cy="58.08" r="0.55" fill="#ee2a2a"/><circle cx="488.49" cy="56.56" r="0.55" fill="#ee2a2a"/><circle cx="489.24" cy="57.47" r="0.55" fill="#ee2a2a"/><circle cx="486.14" cy="59.75" r="0.55" fill="#ee2a2a"/><circle cx="481.93" cy="58.08" r="0.55" fill="#ee2a2a"/><circle cx="482.69" cy="50.95" r="0.55" fill="#ee2a2a"/><circle cx="489.82" cy="58.97" r="0.55" fill="#ee2a2a"/><circle cx="490.34" cy="48.17" r="0.55" fill="#ee2a2a"/><circle cx="490.33" cy="58.29" r="0.55" fill="#ee2a2a"/><circle cx="488.23" cy="59.25" r="0.55" fill="#ee2a2a"/><circle cx="483.17" cy="49.32" r="0.55" fill="#ee2a2a"/><circle cx="487.88" cy="59.27" r="0.55" fill="#ee2a2a"/><circle cx="488.35" cy="52.09" r="0.55" fill="#ee2a2a"/><circle cx="485.70" cy="49.07" r="0.55" fill="#ee2a2a"/><circle cx="482.47" cy="58.12" r="0.55" fill="#ee2a2a"/><circle cx="490.41" cy="58.65" r="0.55" fill="#ee2a2a"/><circle cx="483.09" cy="59.53" r="0.55" fill="#ee2a2a"/><circle cx="481.78" cy="58.26" r="0.55" fill="#ee2a2a"/><circle cx="483.07" cy="58.48" r="0.55" fill="#ee2a2a"/><circle cx="486.41" cy="59.33" r="0.55" fill="#ee2a2a"/><circle cx="486.81" cy="57.00" r="0.55" fill="#ee2a2a"/><circle cx="486.41" cy="54.63" r="0.55" fill="#ee2a2a"/><circle cx="482.09" cy="49.22" r="0.55" fill="#ee2a2a"/><circle cx="482.04" cy="58.89" r="0.55" fill="#ee2a2a"/><circle cx="488.68" cy="58.47" r="0.55" fill="#ee2a2a"/><circle cx="486.19" cy="50.51" r="0.55" fill="#ee2a2a"/><circle cx="484.51" cy="59.17" r="0.55" fill="#ee2a2a"/><circle cx="484.16" cy="56.77" r="0.55" fill="#ee2a2a"/><circle cx="490.73" cy="54.13" r="0.55" fill="#ee2a2a"/><circle cx="487.15" cy="57.58" r="0.55" fill="#ee2a2a"/><circle cx="485.81" cy="53.06" r="0.55" fill="#ee2a2a"/><circle cx="490.46" cy="59.04" r="0.55" fill="#ee2a2a"/><circle cx="481.54" cy="46.07" r="0.55" fill="#ee2a2a"/><circle cx="485.19" cy="54.62" r="0.55" fill="#ee2a2a"/><circle cx="482.88" cy="59.61" r="0.55" fill="#ee2a2a"/><circle cx="488.44" cy="59.12" r="0.55" fill="#ee2a2a"/><circle cx="481.49" cy="58.94" r="0.55" fill="#ee2a2a"/><circle cx="489.05" cy="58.91" r="0.55" fill="#ee2a2a"/><circle cx="487.63" cy="57.31" r="0.55" fill="#ee2a2a"/><circle cx="483.07" cy="57.55" r="0.55" fill="#ee2a2a"/><circle cx="484.25" cy="59.74" r="0.55" fill="#ee2a2a"/><circle cx="483.83" cy="59.65" r="0.55" fill="#ee2a2a"/><circle cx="484.88" cy="56.33" r="0.55" fill="#ee2a2a"/><circle cx="487.35" cy="57.49" r="0.55" fill="#ee2a2a"/><circle cx="484.76" cy="58.43" r="0.55" fill="#ee2a2a"/><circle cx="486.94" cy="52.05" r="0.55" fill="#ee2a2a"/><circle cx="486.54" cy="57.86" r="0.55" fill="#ee2a2a"/><circle cx="484.52" cy="57.58" r="0.55" fill="#ee2a2a"/><circle cx="483.56" cy="50.98" r="0.55" fill="#ee2a2a"/><circle cx="489.57" cy="49.91" r="0.55" fill="#ee2a2a"/><circle cx="482.88" cy="52.11" r="0.55" fill="#ee2a2a"/><circle cx="490.85" cy="57.24" r="0.55" fill="#ee2a2a"/><circle cx="482.96" cy="58.57" r="0.55" fill="#ee2a2a"/><circle cx="483.58" cy="55.17" r="0.55" fill="#ee2a2a"/><circle cx="482.83" cy="56.65" r="0.55" fill="#ee2a2a"/><circle cx="484.06" cy="49.19" r="0.55" fill="#ee2a2a"/><circle cx="487.97" cy="59.43" r="0.55" fill="#ee2a2a"/><circle cx="486.73" cy="58.27" r="0.55" fill="#ee2a2a"/><circle cx="490.25" cy="57.32" r="0.55" fill="#ee2a2a"/><circle cx="484.98" cy="57.20" r="0.55" fill="#ee2a2a"/><circle cx="486.12" cy="59.79" r="0.55" fill="#ee2a2a"/><circle cx="486.87" cy="58.67" r="0.55" fill="#ee2a2a"/><circle cx="485.78" cy="56.20" r="0.55" fill="#ee2a2a"/><circle cx="486.13" cy="59.46" r="0.55" fill="#ee2a2a"/><circle cx="487.52" cy="57.43" r="0.55" fill="#ee2a2a"/><circle cx="484.02" cy="47.16" r="0.55" fill="#ee2a2a"/><circle cx="482.12" cy="57.70" r="0.55" fill="#ee2a2a"/><circle cx="483.57" cy="54.01" r="0.55" fill="#ee2a2a"/><circle cx="489.04" cy="53.44" r="0.55" fill="#ee2a2a"/><circle cx="490.06" cy="58.74" r="0.55" fill="#ee2a2a"/><circle cx="485.43" cy="57.28" r="0.55" fill="#ee2a2a"/><circle cx="490.48" cy="56.88" r="0.55" fill="#ee2a2a"/><circle cx="485.98" cy="57.38" r="0.55" fill="#ee2a2a"/><circle cx="489.46" cy="58.56" r="0.55" fill="#ee2a2a"/><circle cx="484.62" cy="57.28" r="0.55" fill="#ee2a2a"/><circle cx="483.39" cy="59.01" r="0.55" fill="#ee2a2a"/><circle cx="489.09" cy="53.33" r="0.55" fill="#ee2a2a"/><circle cx="490.20" cy="81.74" r="0.55" fill="#1aa6d8"/><circle cx="489.04" cy="73.67" r="0.55" fill="#1aa6d8"/><circle cx="489.15" cy="73.93" r="0.55" fill="#1aa6d8"/><circle cx="483.01" cy="75.05" r="0.55" fill="#1aa6d8"/><circle cx="484.24" cy="75.26" r="0.55" fill="#1aa6d8"/><circle cx="490.22" cy="71.04" r="0.55" fill="#1aa6d8"/><circle cx="486.26" cy="70.27" r="0.55" fill="#1aa6d8"/><circle cx="488.98" cy="71.46" r="0.55" fill="#1aa6d8"/><circle cx="490.14" cy="73.03" r="0.55" fill="#1aa6d8"/><circle cx="487.55" cy="78.29" r="0.55" fill="#1aa6d8"/><circle cx="487.77" cy="70.40" r="0.55" fill="#1aa6d8"/><circle cx="490.83" cy="70.55" r="0.55" fill="#1aa6d8"/><circle cx="484.31" cy="76.35" r="0.55" fill="#1aa6d8"/><circle cx="488.03" cy="70.82" r="0.55" fill="#1aa6d8"/><circle cx="490.85" cy="74.46" r="0.55" fill="#1aa6d8"/><circle cx="482.52" cy="73.13" r="0.55" fill="#1aa6d8"/><circle cx="481.87" cy="74.09" r="0.55" fill="#1aa6d8"/><circle cx="488.76" cy="76.27" r="0.55" fill="#1aa6d8"/><circle cx="489.77" cy="74.82" r="0.55" fill="#1aa6d8"/><circle cx="490.45" cy="72.73" r="0.55" fill="#1aa6d8"/><circle cx="486.07" cy="73.26" r="0.55" fill="#1aa6d8"/><circle cx="484.73" cy="71.66" r="0.55" fill="#1aa6d8"/><circle cx="482.86" cy="70.27" r="0.55" fill="#1aa6d8"/><circle cx="483.52" cy="74.96" r="0.55" fill="#1aa6d8"/><circle cx="488.82" cy="73.38" r="0.55" fill="#1aa6d8"/><circle cx="486.30" cy="73.76" r="0.55" fill="#1aa6d8"/><circle cx="483.95" cy="71.34" r="0.55" fill="#1aa6d8"/><circle cx="487.58" cy="70.82" r="0.55" fill="#1aa6d8"/><circle cx="490.44" cy="73.68" r="0.55" fill="#1aa6d8"/><circle cx="490.29" cy="71.40" r="0.55" fill="#1aa6d8"/><circle cx="484.12" cy="77.47" r="0.55" fill="#1aa6d8"/><circle cx="487.31" cy="79.31" r="0.55" fill="#1aa6d8"/><circle cx="488.81" cy="80.05" r="0.55" fill="#1aa6d8"/><circle cx="484.01" cy="71.42" r="0.55" fill="#1aa6d8"/><circle cx="486.03" cy="72.42" r="0.55" fill="#1aa6d8"/><circle cx="489.67" cy="70.31" r="0.55" fill="#1aa6d8"/><circle cx="485.89" cy="72.50" r="0.55" fill="#1aa6d8"/><circle cx="483.72" cy="74.29" r="0.55" fill="#1aa6d8"/><circle cx="486.93" cy="70.87" r="0.55" fill="#1aa6d8"/><circle cx="484.48" cy="71.03" r="0.55" fill="#1aa6d8"/><circle cx="481.81" cy="70.42" r="0.55" fill="#1aa6d8"/><circle cx="486.41" cy="71.52" r="0.55" fill="#1aa6d8"/><circle cx="487.50" cy="79.12" r="0.55" fill="#1aa6d8"/><circle cx="485.25" cy="71.81" r="0.55" fill="#1aa6d8"/><circle cx="485.90" cy="71.01" r="0.55" fill="#1aa6d8"/><circle cx="482.48" cy="79.79" r="0.55" fill="#1aa6d8"/><circle cx="487.95" cy="71.90" r="0.55" fill="#1aa6d8"/><circle cx="486.68" cy="74.51" r="0.55" fill="#1aa6d8"/><circle cx="490.40" cy="73.27" r="0.55" fill="#1aa6d8"/><circle cx="483.74" cy="77.19" r="0.55" fill="#1aa6d8"/><circle cx="490.97" cy="72.54" r="0.55" fill="#1aa6d8"/><circle cx="483.14" cy="72.45" r="0.55" fill="#1aa6d8"/><circle cx="481.85" cy="74.56" r="0.55" fill="#1aa6d8"/><circle cx="486.65" cy="70.69" r="0.55" fill="#1aa6d8"/><circle cx="488.28" cy="71.15" r="0.55" fill="#1aa6d8"/><circle cx="484.40" cy="74.09" r="0.55" fill="#1aa6d8"/><circle cx="487.58" cy="74.57" r="0.55" fill="#1aa6d8"/><circle cx="485.73" cy="73.87" r="0.55" fill="#1aa6d8"/><circle cx="482.33" cy="71.90" r="0.55" fill="#1aa6d8"/><circle cx="490.56" cy="72.13" r="0.55" fill="#1aa6d8"/><circle cx="481.84" cy="76.78" r="0.55" fill="#1aa6d8"/><circle cx="483.91" cy="70.42" r="0.55" fill="#1aa6d8"/><circle cx="485.54" cy="73.76" r="0.55" fill="#1aa6d8"/><circle cx="485.43" cy="70.61" r="0.55" fill="#1aa6d8"/><circle cx="488.52" cy="72.75" r="0.55" fill="#1aa6d8"/><circle cx="487.60" cy="71.75" r="0.55" fill="#1aa6d8"/><circle cx="487.27" cy="73.63" r="0.55" fill="#1aa6d8"/><circle cx="488.19" cy="70.34" r="0.55" fill="#1aa6d8"/><circle cx="481.83" cy="70.61" r="0.55" fill="#1aa6d8"/><circle cx="481.46" cy="72.13" r="0.55" fill="#1aa6d8"/><circle cx="485.09" cy="70.43" r="0.55" fill="#1aa6d8"/><circle cx="482.32" cy="72.10" r="0.55" fill="#1aa6d8"/><circle cx="489.57" cy="79.42" r="0.55" fill="#1aa6d8"/><circle cx="487.00" cy="72.20" r="0.55" fill="#1aa6d8"/><circle cx="490.84" cy="71.34" r="0.55" fill="#1aa6d8"/><circle cx="484.25" cy="70.58" r="0.55" fill="#1aa6d8"/><circle cx="489.70" cy="70.95" r="0.55" fill="#1aa6d8"/><circle cx="485.28" cy="72.33" r="0.55" fill="#1aa6d8"/><circle cx="489.90" cy="71.73" r="0.55" fill="#1aa6d8"/><circle cx="488.98" cy="71.09" r="0.55" fill="#1aa6d8"/><circle cx="485.65" cy="73.89" r="0.55" fill="#1aa6d8"/><circle cx="485.54" cy="71.57" r="0.55" fill="#1aa6d8"/><circle cx="484.36" cy="72.01" r="0.55" fill="#1aa6d8"/><circle cx="485.29" cy="73.13" r="0.55" fill="#1aa6d8"/><circle cx="488.80" cy="71.29" r="0.55" fill="#1aa6d8"/><circle cx="485.89" cy="72.02" r="0.55" fill="#1aa6d8"/><circle cx="485.71" cy="76.55" r="0.55" fill="#1aa6d8"/><circle cx="490.01" cy="71.61" r="0.55" fill="#1aa6d8"/><circle cx="488.92" cy="81.44" r="0.55" fill="#1aa6d8"/><circle cx="487.81" cy="71.74" r="0.55" fill="#1aa6d8"/><circle cx="484.17" cy="74.25" r="0.55" fill="#1aa6d8"/><circle cx="490.51" cy="74.06" r="0.55" fill="#1aa6d8"/><circle cx="487.79" cy="73.40" r="0.55" fill="#1aa6d8"/><circle cx="487.64" cy="71.91" r="0.55" fill="#1aa6d8"/><circle cx="488.77" cy="70.97" r="0.55" fill="#1aa6d8"/><circle cx="490.81" cy="72.52" r="0.55" fill="#1aa6d8"/><circle cx="488.20" cy="71.45" r="0.55" fill="#1aa6d8"/><circle cx="485.34" cy="70.25" r="0.55" fill="#1aa6d8"/><circle cx="483.82" cy="74.56" r="0.55" fill="#1aa6d8"/><circle cx="483.44" cy="73.05" r="0.55" fill="#1aa6d8"/><circle cx="490.94" cy="71.72" r="0.55" fill="#1aa6d8"/><circle cx="490.15" cy="70.86" r="0.55" fill="#1aa6d8"/><circle cx="486.95" cy="70.38" r="0.55" fill="#1aa6d8"/><circle cx="489.42" cy="75.37" r="0.55" fill="#1aa6d8"/><circle cx="487.03" cy="71.69" r="0.55" fill="#1aa6d8"/><circle cx="488.69" cy="73.94" r="0.55" fill="#1aa6d8"/><circle cx="486.92" cy="74.32" r="0.55" fill="#1aa6d8"/><circle cx="488.14" cy="71.07" r="0.55" fill="#1aa6d8"/><circle cx="486.58" cy="72.67" r="0.55" fill="#1aa6d8"/><circle cx="482.62" cy="83.25" r="0.55" fill="#1aa6d8"/>
<rect x="480.7" y="60.5" width="10.9" height="9.5" fill="#00BFC4"/>
<text x="486.15" y="66.30" font-size="3.60" fill="#333" text-anchor="middle" >STR</text>
<rect x="492.6" y="39.4" width="10.4" height="66.6" fill="#ededed"/>
<circle cx="496.19" cy="54.34" r="0.55" fill="#ee2a2a"/><circle cx="501.94" cy="55.13" r="0.55" fill="#ee2a2a"/><circle cx="498.42" cy="58.65" r="0.55" fill="#ee2a2a"/><circle cx="497.76" cy="57.09" r="0.55" fill="#ee2a2a"/><circle cx="498.95" cy="59.14" r="0.55" fill="#ee2a2a"/><circle cx="499.30" cy="51.74" r="0.55" fill="#ee2a2a"/><circle cx="500.62" cy="58.57" r="0.55" fill="#ee2a2a"/><circle cx="494.54" cy="57.84" r="0.55" fill="#ee2a2a"/><circle cx="497.44" cy="56.45" r="0.55" fill="#ee2a2a"/><circle cx="502.32" cy="57.08" r="0.55" fill="#ee2a2a"/><circle cx="501.97" cy="56.77" r="0.55" fill="#ee2a2a"/><circle cx="500.18" cy="58.23" r="0.55" fill="#ee2a2a"/><circle cx="495.96" cy="59.52" r="0.55" fill="#ee2a2a"/><circle cx="499.55" cy="55.56" r="0.55" fill="#ee2a2a"/><circle cx="496.70" cy="53.45" r="0.55" fill="#ee2a2a"/><circle cx="496.50" cy="58.65" r="0.55" fill="#ee2a2a"/><circle cx="493.42" cy="57.03" r="0.55" fill="#ee2a2a"/><circle cx="499.25" cy="58.11" r="0.55" fill="#ee2a2a"/><circle cx="496.06" cy="59.22" r="0.55" fill="#ee2a2a"/><circle cx="501.79" cy="52.38" r="0.55" fill="#ee2a2a"/><circle cx="494.84" cy="58.77" r="0.55" fill="#ee2a2a"/><circle cx="493.99" cy="59.35" r="0.55" fill="#ee2a2a"/><circle cx="500.00" cy="54.11" r="0.55" fill="#ee2a2a"/><circle cx="497.70" cy="58.69" r="0.55" fill="#ee2a2a"/><circle cx="493.46" cy="55.52" r="0.55" fill="#ee2a2a"/><circle cx="501.11" cy="53.65" r="0.55" fill="#ee2a2a"/><circle cx="499.67" cy="58.95" r="0.55" fill="#ee2a2a"/><circle cx="496.30" cy="55.47" r="0.55" fill="#ee2a2a"/><circle cx="495.21" cy="52.21" r="0.55" fill="#ee2a2a"/><circle cx="496.09" cy="57.49" r="0.55" fill="#ee2a2a"/><circle cx="500.67" cy="57.70" r="0.55" fill="#ee2a2a"/><circle cx="498.81" cy="56.76" r="0.55" fill="#ee2a2a"/><circle cx="495.26" cy="44.16" r="0.55" fill="#ee2a2a"/><circle cx="498.90" cy="58.89" r="0.55" fill="#ee2a2a"/><circle cx="502.07" cy="59.21" r="0.55" fill="#ee2a2a"/><circle cx="497.25" cy="58.30" r="0.55" fill="#ee2a2a"/><circle cx="500.81" cy="57.77" r="0.55" fill="#ee2a2a"/><circle cx="499.43" cy="50.91" r="0.55" fill="#ee2a2a"/><circle cx="496.47" cy="59.12" r="0.55" fill="#ee2a2a"/><circle cx="495.19" cy="55.39" r="0.55" fill="#ee2a2a"/><circle cx="501.22" cy="52.09" r="0.55" fill="#ee2a2a"/><circle cx="496.55" cy="58.88" r="0.55" fill="#ee2a2a"/><circle cx="499.81" cy="58.86" r="0.55" fill="#ee2a2a"/><circle cx="499.60" cy="59.63" r="0.55" fill="#ee2a2a"/><circle cx="500.94" cy="59.57" r="0.55" fill="#ee2a2a"/><circle cx="498.57" cy="56.98" r="0.55" fill="#ee2a2a"/><circle cx="493.61" cy="59.44" r="0.55" fill="#ee2a2a"/><circle cx="502.26" cy="58.23" r="0.55" fill="#ee2a2a"/><circle cx="501.13" cy="56.50" r="0.55" fill="#ee2a2a"/><circle cx="494.14" cy="59.57" r="0.55" fill="#ee2a2a"/><circle cx="499.61" cy="59.72" r="0.55" fill="#ee2a2a"/><circle cx="495.71" cy="59.10" r="0.55" fill="#ee2a2a"/><circle cx="499.60" cy="55.84" r="0.55" fill="#ee2a2a"/><circle cx="497.50" cy="58.40" r="0.55" fill="#ee2a2a"/><circle cx="498.36" cy="58.57" r="0.55" fill="#ee2a2a"/><circle cx="496.51" cy="58.22" r="0.55" fill="#ee2a2a"/><circle cx="495.89" cy="58.77" r="0.55" fill="#ee2a2a"/><circle cx="493.35" cy="58.71" r="0.55" fill="#ee2a2a"/><circle cx="498.65" cy="58.46" r="0.55" fill="#ee2a2a"/><circle cx="494.24" cy="58.67" r="0.55" fill="#ee2a2a"/><circle cx="497.52" cy="53.06" r="0.55" fill="#ee2a2a"/><circle cx="496.07" cy="57.22" r="0.55" fill="#ee2a2a"/><circle cx="500.14" cy="51.95" r="0.55" fill="#ee2a2a"/><circle cx="499.27" cy="56.29" r="0.55" fill="#ee2a2a"/><circle cx="497.80" cy="55.56" r="0.55" fill="#ee2a2a"/><circle cx="496.79" cy="57.88" r="0.55" fill="#ee2a2a"/><circle cx="497.51" cy="57.27" r="0.55" fill="#ee2a2a"/><circle cx="498.10" cy="57.09" r="0.55" fill="#ee2a2a"/><circle cx="501.41" cy="54.21" r="0.55" fill="#ee2a2a"/><circle cx="493.40" cy="58.89" r="0.55" fill="#ee2a2a"/><circle cx="493.49" cy="58.51" r="0.55" fill="#ee2a2a"/><circle cx="498.91" cy="54.07" r="0.55" fill="#ee2a2a"/><circle cx="494.96" cy="58.59" r="0.55" fill="#ee2a2a"/><circle cx="500.89" cy="52.49" r="0.55" fill="#ee2a2a"/><circle cx="499.56" cy="55.66" r="0.55" fill="#ee2a2a"/><circle cx="497.38" cy="54.89" r="0.55" fill="#ee2a2a"/><circle cx="498.29" cy="57.98" r="0.55" fill="#ee2a2a"/><circle cx="502.32" cy="52.15" r="0.55" fill="#ee2a2a"/><circle cx="500.89" cy="50.84" r="0.55" fill="#ee2a2a"/><circle cx="495.47" cy="59.52" r="0.55" fill="#ee2a2a"/><circle cx="498.20" cy="47.05" r="0.55" fill="#ee2a2a"/><circle cx="496.05" cy="57.20" r="0.55" fill="#ee2a2a"/><circle cx="497.95" cy="52.67" r="0.55" fill="#ee2a2a"/><circle cx="493.90" cy="43.09" r="0.55" fill="#ee2a2a"/><circle cx="493.32" cy="41.79" r="0.55" fill="#ee2a2a"/><circle cx="496.78" cy="59.22" r="0.55" fill="#ee2a2a"/><circle cx="494.22" cy="56.13" r="0.55" fill="#ee2a2a"/><circle cx="501.84" cy="56.82" r="0.55" fill="#ee2a2a"/><circle cx="500.21" cy="57.74" r="0.55" fill="#ee2a2a"/><circle cx="498.56" cy="56.57" r="0.55" fill="#ee2a2a"/><circle cx="497.47" cy="59.12" r="0.55" fill="#ee2a2a"/><circle cx="499.40" cy="51.50" r="0.55" fill="#ee2a2a"/><circle cx="497.31" cy="58.92" r="0.55" fill="#ee2a2a"/><circle cx="496.30" cy="56.98" r="0.55" fill="#ee2a2a"/><circle cx="499.01" cy="56.70" r="0.55" fill="#ee2a2a"/><circle cx="495.22" cy="59.74" r="0.55" fill="#ee2a2a"/><circle cx="495.17" cy="55.95" r="0.55" fill="#ee2a2a"/><circle cx="500.21" cy="59.53" r="0.55" fill="#ee2a2a"/><circle cx="502.01" cy="58.34" r="0.55" fill="#ee2a2a"/><circle cx="494.13" cy="56.85" r="0.55" fill="#ee2a2a"/><circle cx="495.61" cy="56.15" r="0.55" fill="#ee2a2a"/><circle cx="499.86" cy="53.74" r="0.55" fill="#ee2a2a"/><circle cx="493.73" cy="54.69" r="0.55" fill="#ee2a2a"/><circle cx="500.54" cy="59.67" r="0.55" fill="#ee2a2a"/><circle cx="495.06" cy="59.25" r="0.55" fill="#ee2a2a"/><circle cx="494.70" cy="59.69" r="0.55" fill="#ee2a2a"/><circle cx="502.01" cy="57.49" r="0.55" fill="#ee2a2a"/><circle cx="495.59" cy="58.40" r="0.55" fill="#ee2a2a"/><circle cx="494.90" cy="53.46" r="0.55" fill="#ee2a2a"/><circle cx="498.86" cy="56.17" r="0.55" fill="#ee2a2a"/><circle cx="493.60" cy="49.94" r="0.55" fill="#ee2a2a"/><circle cx="496.72" cy="56.82" r="0.55" fill="#ee2a2a"/><circle cx="495.52" cy="53.55" r="0.55" fill="#ee2a2a"/><circle cx="494.90" cy="55.28" r="0.55" fill="#ee2a2a"/><circle cx="502.11" cy="57.34" r="0.55" fill="#ee2a2a"/><circle cx="495.77" cy="58.81" r="0.55" fill="#ee2a2a"/><circle cx="499.41" cy="50.82" r="0.55" fill="#ee2a2a"/><circle cx="494.92" cy="59.55" r="0.55" fill="#ee2a2a"/><circle cx="495.87" cy="58.83" r="0.55" fill="#ee2a2a"/><circle cx="499.64" cy="53.10" r="0.55" fill="#ee2a2a"/><circle cx="499.36" cy="45.76" r="0.55" fill="#ee2a2a"/><circle cx="496.72" cy="56.24" r="0.55" fill="#ee2a2a"/><circle cx="497.74" cy="55.25" r="0.55" fill="#ee2a2a"/><circle cx="497.73" cy="59.58" r="0.55" fill="#ee2a2a"/><circle cx="498.08" cy="58.06" r="0.55" fill="#ee2a2a"/><circle cx="493.46" cy="59.62" r="0.55" fill="#ee2a2a"/><circle cx="496.62" cy="45.16" r="0.55" fill="#ee2a2a"/><circle cx="494.56" cy="58.36" r="0.55" fill="#ee2a2a"/><circle cx="501.62" cy="56.57" r="0.55" fill="#ee2a2a"/><circle cx="497.80" cy="59.08" r="0.55" fill="#ee2a2a"/><circle cx="500.25" cy="57.31" r="0.55" fill="#ee2a2a"/><circle cx="495.40" cy="56.80" r="0.55" fill="#ee2a2a"/><circle cx="499.87" cy="59.04" r="0.55" fill="#ee2a2a"/><circle cx="501.16" cy="59.51" r="0.55" fill="#ee2a2a"/><circle cx="494.94" cy="59.68" r="0.55" fill="#ee2a2a"/><circle cx="500.96" cy="57.53" r="0.55" fill="#ee2a2a"/><circle cx="500.06" cy="56.32" r="0.55" fill="#ee2a2a"/><circle cx="499.85" cy="54.65" r="0.55" fill="#ee2a2a"/><circle cx="500.79" cy="59.61" r="0.55" fill="#ee2a2a"/><circle cx="494.69" cy="59.22" r="0.55" fill="#ee2a2a"/><circle cx="493.46" cy="59.66" r="0.55" fill="#ee2a2a"/><circle cx="496.70" cy="52.26" r="0.55" fill="#ee2a2a"/><circle cx="493.63" cy="59.47" r="0.55" fill="#ee2a2a"/><circle cx="498.73" cy="53.06" r="0.55" fill="#ee2a2a"/><circle cx="493.54" cy="50.87" r="0.55" fill="#ee2a2a"/><circle cx="495.84" cy="59.37" r="0.55" fill="#ee2a2a"/><circle cx="494.23" cy="59.04" r="0.55" fill="#ee2a2a"/><circle cx="499.09" cy="58.99" r="0.55" fill="#ee2a2a"/><circle cx="494.75" cy="59.14" r="0.55" fill="#ee2a2a"/><circle cx="496.65" cy="57.04" r="0.55" fill="#ee2a2a"/><circle cx="498.43" cy="70.69" r="0.55" fill="#1aa6d8"/><circle cx="496.77" cy="72.33" r="0.55" fill="#1aa6d8"/><circle cx="493.57" cy="72.13" r="0.55" fill="#1aa6d8"/><circle cx="494.98" cy="73.06" r="0.55" fill="#1aa6d8"/><circle cx="493.29" cy="71.43" r="0.55" fill="#1aa6d8"/><circle cx="498.61" cy="76.76" r="0.55" fill="#1aa6d8"/><circle cx="498.19" cy="71.69" r="0.55" fill="#1aa6d8"/><circle cx="494.42" cy="78.63" r="0.55" fill="#1aa6d8"/><circle cx="499.71" cy="71.65" r="0.55" fill="#1aa6d8"/><circle cx="499.70" cy="71.60" r="0.55" fill="#1aa6d8"/><circle cx="493.58" cy="77.37" r="0.55" fill="#1aa6d8"/><circle cx="495.89" cy="71.20" r="0.55" fill="#1aa6d8"/><circle cx="500.42" cy="74.36" r="0.55" fill="#1aa6d8"/><circle cx="501.71" cy="73.81" r="0.55" fill="#1aa6d8"/><circle cx="496.82" cy="70.82" r="0.55" fill="#1aa6d8"/><circle cx="500.24" cy="75.95" r="0.55" fill="#1aa6d8"/><circle cx="502.21" cy="70.56" r="0.55" fill="#1aa6d8"/><circle cx="501.17" cy="74.25" r="0.55" fill="#1aa6d8"/><circle cx="498.77" cy="71.55" r="0.55" fill="#1aa6d8"/><circle cx="501.46" cy="79.76" r="0.55" fill="#1aa6d8"/><circle cx="501.39" cy="72.78" r="0.55" fill="#1aa6d8"/><circle cx="500.92" cy="90.88" r="0.55" fill="#1aa6d8"/><circle cx="502.04" cy="73.40" r="0.55" fill="#1aa6d8"/><circle cx="496.91" cy="70.67" r="0.55" fill="#1aa6d8"/><circle cx="494.41" cy="72.69" r="0.55" fill="#1aa6d8"/><circle cx="493.77" cy="74.75" r="0.55" fill="#1aa6d8"/><circle cx="495.77" cy="73.17" r="0.55" fill="#1aa6d8"/><circle cx="498.78" cy="71.37" r="0.55" fill="#1aa6d8"/><circle cx="497.32" cy="70.84" r="0.55" fill="#1aa6d8"/><circle cx="502.28" cy="76.04" r="0.55" fill="#1aa6d8"/><circle cx="496.56" cy="71.11" r="0.55" fill="#1aa6d8"/><circle cx="494.95" cy="73.75" r="0.55" fill="#1aa6d8"/><circle cx="495.03" cy="75.87" r="0.55" fill="#1aa6d8"/><circle cx="496.32" cy="72.64" r="0.55" fill="#1aa6d8"/><circle cx="493.21" cy="70.20" r="0.55" fill="#1aa6d8"/><circle cx="496.22" cy="70.21" r="0.55" fill="#1aa6d8"/><circle cx="502.32" cy="71.17" r="0.55" fill="#1aa6d8"/><circle cx="493.80" cy="73.25" r="0.55" fill="#1aa6d8"/><circle cx="495.34" cy="73.98" r="0.55" fill="#1aa6d8"/><circle cx="499.85" cy="72.17" r="0.55" fill="#1aa6d8"/><circle cx="501.80" cy="76.03" r="0.55" fill="#1aa6d8"/><circle cx="496.12" cy="71.84" r="0.55" fill="#1aa6d8"/><circle cx="496.08" cy="71.72" r="0.55" fill="#1aa6d8"/><circle cx="497.46" cy="74.26" r="0.55" fill="#1aa6d8"/><circle cx="494.60" cy="73.67" r="0.55" fill="#1aa6d8"/><circle cx="502.09" cy="74.78" r="0.55" fill="#1aa6d8"/><circle cx="498.87" cy="70.88" r="0.55" fill="#1aa6d8"/><circle cx="493.53" cy="70.73" r="0.55" fill="#1aa6d8"/><circle cx="494.89" cy="71.80" r="0.55" fill="#1aa6d8"/><circle cx="498.47" cy="74.14" r="0.55" fill="#1aa6d8"/><circle cx="502.11" cy="73.57" r="0.55" fill="#1aa6d8"/><circle cx="494.10" cy="70.38" r="0.55" fill="#1aa6d8"/><circle cx="497.43" cy="70.31" r="0.55" fill="#1aa6d8"/><circle cx="499.49" cy="75.42" r="0.55" fill="#1aa6d8"/><circle cx="501.08" cy="72.58" r="0.55" fill="#1aa6d8"/><circle cx="494.24" cy="71.60" r="0.55" fill="#1aa6d8"/><circle cx="493.44" cy="73.28" r="0.55" fill="#1aa6d8"/><circle cx="493.47" cy="70.98" r="0.55" fill="#1aa6d8"/><circle cx="493.79" cy="70.73" r="0.55" fill="#1aa6d8"/><circle cx="494.38" cy="72.47" r="0.55" fill="#1aa6d8"/><circle cx="500.78" cy="72.97" r="0.55" fill="#1aa6d8"/><circle cx="494.31" cy="71.47" r="0.55" fill="#1aa6d8"/><circle cx="499.90" cy="73.54" r="0.55" fill="#1aa6d8"/><circle cx="498.30" cy="76.66" r="0.55" fill="#1aa6d8"/><circle cx="501.14" cy="72.82" r="0.55" fill="#1aa6d8"/><circle cx="502.17" cy="73.59" r="0.55" fill="#1aa6d8"/><circle cx="500.32" cy="71.21" r="0.55" fill="#1aa6d8"/><circle cx="497.51" cy="73.21" r="0.55" fill="#1aa6d8"/><circle cx="497.58" cy="70.23" r="0.55" fill="#1aa6d8"/><circle cx="498.73" cy="71.12" r="0.55" fill="#1aa6d8"/><circle cx="497.90" cy="72.34" r="0.55" fill="#1aa6d8"/><circle cx="494.41" cy="70.38" r="0.55" fill="#1aa6d8"/><circle cx="499.47" cy="73.00" r="0.55" fill="#1aa6d8"/><circle cx="500.49" cy="84.18" r="0.55" fill="#1aa6d8"/><circle cx="497.39" cy="71.23" r="0.55" fill="#1aa6d8"/><circle cx="500.60" cy="72.31" r="0.55" fill="#1aa6d8"/><circle cx="501.67" cy="71.71" r="0.55" fill="#1aa6d8"/><circle cx="496.86" cy="72.18" r="0.55" fill="#1aa6d8"/><circle cx="496.49" cy="72.16" r="0.55" fill="#1aa6d8"/><circle cx="493.63" cy="93.92" r="0.55" fill="#1aa6d8"/><circle cx="493.93" cy="71.73" r="0.55" fill="#1aa6d8"/><circle cx="494.59" cy="73.60" r="0.55" fill="#1aa6d8"/><circle cx="497.09" cy="70.68" r="0.55" fill="#1aa6d8"/><circle cx="500.23" cy="72.96" r="0.55" fill="#1aa6d8"/><circle cx="495.91" cy="71.96" r="0.55" fill="#1aa6d8"/><circle cx="501.37" cy="71.58" r="0.55" fill="#1aa6d8"/><circle cx="493.30" cy="70.92" r="0.55" fill="#1aa6d8"/><circle cx="497.64" cy="76.71" r="0.55" fill="#1aa6d8"/><circle cx="494.45" cy="70.63" r="0.55" fill="#1aa6d8"/><circle cx="500.09" cy="76.83" r="0.55" fill="#1aa6d8"/><circle cx="499.41" cy="70.40" r="0.55" fill="#1aa6d8"/><circle cx="497.30" cy="70.92" r="0.55" fill="#1aa6d8"/><circle cx="493.67" cy="72.99" r="0.55" fill="#1aa6d8"/><circle cx="496.28" cy="78.42" r="0.55" fill="#1aa6d8"/><circle cx="500.38" cy="70.67" r="0.55" fill="#1aa6d8"/><circle cx="493.54" cy="70.55" r="0.55" fill="#1aa6d8"/><circle cx="497.52" cy="73.37" r="0.55" fill="#1aa6d8"/><circle cx="500.47" cy="77.13" r="0.55" fill="#1aa6d8"/><circle cx="493.62" cy="70.89" r="0.55" fill="#1aa6d8"/><circle cx="497.53" cy="72.97" r="0.55" fill="#1aa6d8"/><circle cx="501.64" cy="71.27" r="0.55" fill="#1aa6d8"/><circle cx="499.12" cy="70.90" r="0.55" fill="#1aa6d8"/><circle cx="501.70" cy="70.43" r="0.55" fill="#1aa6d8"/><circle cx="498.89" cy="79.11" r="0.55" fill="#1aa6d8"/><circle cx="499.86" cy="71.36" r="0.55" fill="#1aa6d8"/><circle cx="500.51" cy="77.21" r="0.55" fill="#1aa6d8"/><circle cx="497.84" cy="70.32" r="0.55" fill="#1aa6d8"/><circle cx="498.23" cy="70.65" r="0.55" fill="#1aa6d8"/><circle cx="501.16" cy="79.19" r="0.55" fill="#1aa6d8"/><circle cx="498.28" cy="71.06" r="0.55" fill="#1aa6d8"/>
<rect x="492.6" y="60.5" width="10.4" height="9.5" fill="#00A9FF"/>
<text x="497.80" y="66.30" font-size="3.60" fill="#333" text-anchor="middle" >FT</text>
<line x1="402.5" y1="143.2" x2="402.5" y2="158.3" stroke="#808080" stroke-width="0.7"/>
<line x1="416.4" y1="143.2" x2="416.4" y2="158.3" stroke="#808080" stroke-width="0.7"/>
<line x1="430.5" y1="143.2" x2="430.5" y2="158.3" stroke="#808080" stroke-width="0.7"/>
<line x1="444.6" y1="143.2" x2="444.6" y2="158.3" stroke="#808080" stroke-width="0.7"/>
<line x1="458.7" y1="143.2" x2="458.7" y2="158.3" stroke="#808080" stroke-width="0.7"/>
<line x1="472.8" y1="143.2" x2="472.8" y2="158.3" stroke="#808080" stroke-width="0.7"/>
<line x1="486.7" y1="143.2" x2="486.7" y2="158.3" stroke="#808080" stroke-width="0.7"/>
<line x1="500.8" y1="143.2" x2="500.8" y2="158.3" stroke="#808080" stroke-width="0.7"/>
<line x1="402.5" y1="161.9" x2="402.5" y2="176.6" stroke="#808080" stroke-width="0.7"/>
<line x1="416.4" y1="161.9" x2="416.4" y2="176.6" stroke="#808080" stroke-width="0.7"/>
<line x1="430.5" y1="161.9" x2="430.5" y2="176.6" stroke="#808080" stroke-width="0.7"/>
<line x1="444.6" y1="161.9" x2="444.6" y2="176.6" stroke="#808080" stroke-width="0.7"/>
<line x1="458.7" y1="161.9" x2="458.7" y2="176.6" stroke="#808080" stroke-width="0.7"/>
<line x1="472.8" y1="161.9" x2="472.8" y2="176.6" stroke="#808080" stroke-width="0.7"/>
<line x1="486.7" y1="161.9" x2="486.7" y2="176.6" stroke="#808080" stroke-width="0.7"/>
<line x1="500.8" y1="161.9" x2="500.8" y2="176.6" stroke="#808080" stroke-width="0.7"/>
<line x1="402.5" y1="180.2" x2="402.5" y2="195.2" stroke="#808080" stroke-width="0.7"/>
<line x1="416.4" y1="180.2" x2="416.4" y2="195.2" stroke="#808080" stroke-width="0.7"/>
<line x1="430.5" y1="180.2" x2="430.5" y2="195.2" stroke="#808080" stroke-width="0.7"/>
<line x1="444.6" y1="180.2" x2="444.6" y2="195.2" stroke="#808080" stroke-width="0.7"/>
<line x1="458.7" y1="180.2" x2="458.7" y2="195.2" stroke="#808080" stroke-width="0.7"/>
<line x1="472.8" y1="180.2" x2="472.8" y2="195.2" stroke="#808080" stroke-width="0.7"/>
<line x1="486.7" y1="180.2" x2="486.7" y2="195.2" stroke="#808080" stroke-width="0.7"/>
<line x1="500.8" y1="180.2" x2="500.8" y2="195.2" stroke="#808080" stroke-width="0.7"/>
<line x1="402.5" y1="198.8" x2="402.5" y2="213.6" stroke="#808080" stroke-width="0.7"/>
<line x1="416.4" y1="198.8" x2="416.4" y2="213.6" stroke="#808080" stroke-width="0.7"/>
<line x1="430.5" y1="198.8" x2="430.5" y2="213.6" stroke="#808080" stroke-width="0.7"/>
<line x1="444.6" y1="198.8" x2="444.6" y2="213.6" stroke="#808080" stroke-width="0.7"/>
<line x1="458.7" y1="198.8" x2="458.7" y2="213.6" stroke="#808080" stroke-width="0.7"/>
<line x1="472.8" y1="198.8" x2="472.8" y2="213.6" stroke="#808080" stroke-width="0.7"/>
<line x1="486.7" y1="198.8" x2="486.7" y2="213.6" stroke="#808080" stroke-width="0.7"/>
<line x1="500.8" y1="198.8" x2="500.8" y2="213.6" stroke="#808080" stroke-width="0.7"/>
<line x1="402.5" y1="217.2" x2="402.5" y2="232.2" stroke="#808080" stroke-width="0.7"/>
<line x1="416.4" y1="217.2" x2="416.4" y2="232.2" stroke="#808080" stroke-width="0.7"/>
<line x1="430.5" y1="217.2" x2="430.5" y2="232.2" stroke="#808080" stroke-width="0.7"/>
<line x1="444.6" y1="217.2" x2="444.6" y2="232.2" stroke="#808080" stroke-width="0.7"/>
<line x1="458.7" y1="217.2" x2="458.7" y2="232.2" stroke="#808080" stroke-width="0.7"/>
<line x1="472.8" y1="217.2" x2="472.8" y2="232.2" stroke="#808080" stroke-width="0.7"/>
<line x1="486.7" y1="217.2" x2="486.7" y2="232.2" stroke="#808080" stroke-width="0.7"/>
<line x1="500.8" y1="217.2" x2="500.8" y2="232.2" stroke="#808080" stroke-width="0.7"/>
<line x1="402.5" y1="235.8" x2="402.5" y2="251.0" stroke="#808080" stroke-width="0.7"/>
<line x1="416.4" y1="235.8" x2="416.4" y2="251.0" stroke="#808080" stroke-width="0.7"/>
<line x1="430.5" y1="235.8" x2="430.5" y2="251.0" stroke="#808080" stroke-width="0.7"/>
<line x1="444.6" y1="235.8" x2="444.6" y2="251.0" stroke="#808080" stroke-width="0.7"/>
<line x1="458.7" y1="235.8" x2="458.7" y2="251.0" stroke="#808080" stroke-width="0.7"/>
<line x1="472.8" y1="235.8" x2="472.8" y2="251.0" stroke="#808080" stroke-width="0.7"/>
<line x1="486.7" y1="235.8" x2="486.7" y2="251.0" stroke="#808080" stroke-width="0.7"/>
<line x1="500.8" y1="235.8" x2="500.8" y2="251.0" stroke="#808080" stroke-width="0.7"/>
<line x1="402.5" y1="254.6" x2="402.5" y2="269.6" stroke="#808080" stroke-width="0.7"/>
<line x1="416.4" y1="254.6" x2="416.4" y2="269.6" stroke="#808080" stroke-width="0.7"/>
<line x1="430.5" y1="254.6" x2="430.5" y2="269.6" stroke="#808080" stroke-width="0.7"/>
<line x1="444.6" y1="254.6" x2="444.6" y2="269.6" stroke="#808080" stroke-width="0.7"/>
<line x1="458.7" y1="254.6" x2="458.7" y2="269.6" stroke="#808080" stroke-width="0.7"/>
<line x1="472.8" y1="254.6" x2="472.8" y2="269.6" stroke="#808080" stroke-width="0.7"/>
<line x1="486.7" y1="254.6" x2="486.7" y2="269.6" stroke="#808080" stroke-width="0.7"/>
<line x1="500.8" y1="254.6" x2="500.8" y2="269.6" stroke="#808080" stroke-width="0.7"/>
<line x1="402.5" y1="273.2" x2="402.5" y2="287.6" stroke="#808080" stroke-width="0.7"/>
<line x1="416.4" y1="273.2" x2="416.4" y2="287.6" stroke="#808080" stroke-width="0.7"/>
<line x1="430.5" y1="273.2" x2="430.5" y2="287.6" stroke="#808080" stroke-width="0.7"/>
<line x1="444.6" y1="273.2" x2="444.6" y2="287.6" stroke="#808080" stroke-width="0.7"/>
<line x1="458.7" y1="273.2" x2="458.7" y2="287.6" stroke="#808080" stroke-width="0.7"/>
<line x1="472.8" y1="273.2" x2="472.8" y2="287.6" stroke="#808080" stroke-width="0.7"/>
<line x1="486.7" y1="273.2" x2="486.7" y2="287.6" stroke="#808080" stroke-width="0.7"/>
<line x1="500.8" y1="273.2" x2="500.8" y2="287.6" stroke="#808080" stroke-width="0.7"/>
<line x1="402.5" y1="287.6" x2="402.5" y2="290" stroke="#444" stroke-width="0.8"/>
<line x1="416.4" y1="287.6" x2="416.4" y2="290" stroke="#444" stroke-width="0.8"/>
<line x1="430.5" y1="287.6" x2="430.5" y2="290" stroke="#444" stroke-width="0.8"/>
<line x1="444.6" y1="287.6" x2="444.6" y2="290" stroke="#444" stroke-width="0.8"/>
<line x1="458.7" y1="287.6" x2="458.7" y2="290" stroke="#444" stroke-width="0.8"/>
<line x1="472.8" y1="287.6" x2="472.8" y2="290" stroke="#444" stroke-width="0.8"/>
<line x1="486.7" y1="287.6" x2="486.7" y2="290" stroke="#444" stroke-width="0.8"/>
<line x1="500.8" y1="287.6" x2="500.8" y2="290" stroke="#444" stroke-width="0.8"/>
<line x1="393.5" y1="158.3" x2="509" y2="158.3" stroke="#808080" stroke-width="0.85"/>
<line x1="393.5" y1="176.6" x2="509" y2="176.6" stroke="#808080" stroke-width="0.85"/>
<line x1="393.5" y1="195.2" x2="509" y2="195.2" stroke="#808080" stroke-width="0.85"/>
<line x1="393.5" y1="213.6" x2="509" y2="213.6" stroke="#808080" stroke-width="0.85"/>
<line x1="393.5" y1="232.2" x2="509" y2="232.2" stroke="#808080" stroke-width="0.85"/>
<line x1="393.5" y1="251.0" x2="509" y2="251.0" stroke="#808080" stroke-width="0.85"/>
<line x1="393.5" y1="269.6" x2="509" y2="269.6" stroke="#808080" stroke-width="0.85"/>
<line x1="393.5" y1="287.6" x2="509" y2="287.6" stroke="#808080" stroke-width="0.85"/>
<line x1="509.2" y1="139.6" x2="509.2" y2="287.6" stroke="#c8c8c8" stroke-width="0.9"/>
<line x1="393.5" y1="139.6" x2="509.2" y2="139.6" stroke="#b4b4b4" stroke-width="0.7"/>
<line x1="393.5" y1="139.6" x2="393.5" y2="287.6" stroke="#444" stroke-width="0.9" stroke-dasharray="1.2 0.8"/>
<text x="392.00" y="146.20" font-size="7.80" fill="#222" text-anchor="end" >6</text>
<text x="392.00" y="164.50" font-size="7.80" fill="#222" text-anchor="end" >5</text>
<text x="392.00" y="182.90" font-size="7.80" fill="#222" text-anchor="end" >6</text>
<text x="392.00" y="202.90" font-size="7.80" fill="#222" text-anchor="end" >6</text>
<text x="392.00" y="219.50" font-size="7.80" fill="#222" text-anchor="end" >6</text>
<text x="392.00" y="238.30" font-size="7.80" fill="#222" text-anchor="end" >6</text>
<text x="392.00" y="257.50" font-size="7.80" fill="#222" text-anchor="end" >6</text>
<text x="392.00" y="275.30" font-size="7.80" fill="#222" text-anchor="end" >5</text>
<text x="0.00" y="0.00" font-size="9.60" fill="#1a1a1a" text-anchor="middle" stroke="#1a1a1a" stroke-width="0.30" transform="translate(383.6,213.6) rotate(-90)">Expression Level</text>
<path d="M402.50,141.60 C403.07,143.80 404.40,144.90 404.40,147.10 C404.40,149.30 403.07,150.40 402.50,152.60 C401.93,150.40 400.60,149.30 400.60,147.10 C400.60,144.90 401.93,143.80 402.50,141.60 Z" fill="#1f77b4"/><line x1="402.50" y1="152.10" x2="402.50" y2="157.30" stroke="#1f77b4" stroke-width="0.9"/><path d="M402.00,155.50 C401.50,156.60 398.72,157.60 396.20,158.30 L408.80,158.30 C406.28,157.60 403.50,156.60 403.00,155.50 Z" fill="#1f77b4"/>
<path d="M416.40,158.80 C417.12,160.92 418.80,161.98 418.80,164.10 C418.80,166.22 417.12,167.28 416.40,169.40 C415.68,167.28 414.00,166.22 414.00,164.10 C414.00,161.98 415.68,160.92 416.40,158.80 Z" fill="#ff7f0e"/><line x1="416.40" y1="168.90" x2="416.40" y2="175.60" stroke="#ff7f0e" stroke-width="0.9"/><path d="M415.90,173.80 C415.40,174.90 412.68,175.90 410.20,176.60 L422.60,176.60 C420.12,175.90 417.40,174.90 416.90,173.80 Z" fill="#ff7f0e"/>
<path d="M430.50,177.40 C432.24,180.00 436.30,181.30 436.30,183.90 C436.30,186.50 432.24,187.80 430.50,190.40 C428.76,187.80 424.70,186.50 424.70,183.90 C424.70,181.30 428.76,180.00 430.50,177.40 Z" fill="#2ca02c"/><line x1="430.50" y1="189.90" x2="430.50" y2="194.20" stroke="#2ca02c" stroke-width="0.9"/><path d="M430.00,192.40 C429.50,193.50 427.02,194.50 424.70,195.20 L436.30,195.20 C433.98,194.50 431.50,193.50 431.00,192.40 Z" fill="#2ca02c"/>
<path d="M500.80,181.60 C501.61,183.32 503.50,184.18 503.50,185.90 C503.50,187.62 501.61,188.48 500.80,190.20 C499.99,188.48 498.10,187.62 498.10,185.90 C498.10,184.18 499.99,183.32 500.80,181.60 Z" fill="#2ca02c"/><line x1="500.80" y1="189.70" x2="500.80" y2="194.20" stroke="#2ca02c" stroke-width="0.9"/><path d="M500.30,192.40 C499.80,193.50 496.90,194.50 494.30,195.20 L507.30,195.20 C504.70,194.50 501.80,193.50 501.30,192.40 Z" fill="#2ca02c"/>
<path d="M444.60,197.60 C445.29,199.56 446.90,200.54 446.90,202.50 C446.90,204.46 445.29,205.44 444.60,207.40 C443.91,205.44 442.30,204.46 442.30,202.50 C442.30,200.54 443.91,199.56 444.60,197.60 Z" fill="#d62728"/><line x1="444.60" y1="206.90" x2="444.60" y2="212.60" stroke="#d62728" stroke-width="0.9"/><path d="M444.10,210.80 C443.60,211.90 441.12,212.90 438.80,213.60 L450.40,213.60 C448.08,212.90 445.60,211.90 445.10,210.80 Z" fill="#d62728"/>
<path d="M458.70,214.20 C459.51,216.28 461.40,217.32 461.40,219.40 C461.40,221.48 459.51,222.52 458.70,224.60 C457.89,222.52 456.00,221.48 456.00,219.40 C456.00,217.32 457.89,216.28 458.70,214.20 Z" fill="#9467bd"/><line x1="458.70" y1="224.10" x2="458.70" y2="231.20" stroke="#9467bd" stroke-width="0.9"/><path d="M458.20,229.40 C457.70,230.50 454.86,231.50 452.30,232.20 L465.10,232.20 C462.54,231.50 459.70,230.50 459.20,229.40 Z" fill="#9467bd"/>
<path d="M472.80,233.80 C473.31,235.60 474.50,236.50 474.50,238.30 C474.50,240.10 473.31,241.00 472.80,242.80 C472.29,241.00 471.10,240.10 471.10,238.30 C471.10,236.50 472.29,235.60 472.80,233.80 Z" fill="#8c564b"/><line x1="472.80" y1="242.30" x2="472.80" y2="250.00" stroke="#8c564b" stroke-width="0.9"/><path d="M472.30,248.20 C471.80,249.30 469.32,250.30 467.00,251.00 L478.60,251.00 C476.28,250.30 473.80,249.30 473.30,248.20 Z" fill="#8c564b"/>
<path d="M481.70,251.3 L491.70,251.3 L492.30,254.8 C490.70,257.8 488.30,261.3 487.15,263.5 L486.25,263.5 C485.10,261.3 482.70,257.8 481.10,254.8 Z" fill="#f075c8"/>
<path d="M486.25,263.2 C486.00,266.8 483.70,268.7 481.90,269.6 L491.50,269.6 C489.70,268.7 487.40,266.8 487.15,263.2 Z" fill="#f075c8"/>
<path d="M500.80,271.00 C501.64,272.80 503.60,273.70 503.60,275.50 C503.60,277.30 501.64,278.20 500.80,280.00 C499.96,278.20 498.00,277.30 498.00,275.50 C498.00,273.70 499.96,272.80 500.80,271.00 Z" fill="#cfcfcf" stroke="#8c8c8c" stroke-width="0.5"/><line x1="500.80" y1="279.50" x2="500.80" y2="286.60" stroke="#b8b8b8" stroke-width="0.9"/><path d="M500.30,283.00 C499.80,285.90 496.72,286.90 494.00,287.60 L507.60,287.60 C504.88,286.90 501.80,285.90 501.30,283.00 Z" fill="#cfcfcf" stroke="#8c8c8c" stroke-width="0.5"/>
<text x="528.80" y="152.25" font-size="9.20" fill="#1a1a1a" text-anchor="middle" stroke="#1a1a1a" stroke-width="0.30" font-style="italic">Igfn1</text>
<text x="528.80" y="170.75" font-size="9.20" fill="#1a1a1a" text-anchor="middle" stroke="#1a1a1a" stroke-width="0.30" font-style="italic">Klk8</text>
<text x="528.80" y="189.20" font-size="9.20" fill="#1a1a1a" text-anchor="middle" stroke="#1a1a1a" stroke-width="0.30" font-style="italic">Abhd12b</text>
<text x="528.80" y="207.70" font-size="9.20" fill="#1a1a1a" text-anchor="middle" stroke="#1a1a1a" stroke-width="0.30" font-style="italic">Gal</text>
<text x="528.80" y="226.20" font-size="9.20" fill="#1a1a1a" text-anchor="middle" stroke="#1a1a1a" stroke-width="0.30" font-style="italic">Adora2a</text>
<text x="528.80" y="244.90" font-size="9.20" fill="#1a1a1a" text-anchor="middle" stroke="#1a1a1a" stroke-width="0.30" font-style="italic">Lgals3</text>
<text x="528.80" y="263.60" font-size="9.20" fill="#1a1a1a" text-anchor="middle" stroke="#1a1a1a" stroke-width="0.30" font-style="italic">Gm5741</text>
<text x="528.80" y="281.90" font-size="9.20" fill="#1a1a1a" text-anchor="middle" stroke="#1a1a1a" stroke-width="0.30" font-style="italic">Gnb3</text>
<text x="0.00" y="0.00" font-size="9.00" fill="#1a1a1a" text-anchor="end" stroke="#1a1a1a" stroke-width="0.30" transform="translate(406.50,295.6) rotate(-45)">CTX</text>
<text x="0.00" y="0.00" font-size="9.00" fill="#1a1a1a" text-anchor="end" stroke="#1a1a1a" stroke-width="0.30" transform="translate(420.40,295.6) rotate(-45)">HP</text>
<text x="0.00" y="0.00" font-size="9.00" fill="#1a1a1a" text-anchor="end" stroke="#1a1a1a" stroke-width="0.30" transform="translate(434.50,295.6) rotate(-45)">TH</text>
<text x="0.00" y="0.00" font-size="9.00" fill="#1a1a1a" text-anchor="end" stroke="#1a1a1a" stroke-width="0.30" transform="translate(448.60,295.6) rotate(-45)">HY</text>
<text x="0.00" y="0.00" font-size="9.00" fill="#1a1a1a" text-anchor="end" stroke="#1a1a1a" stroke-width="0.30" transform="translate(462.70,295.6) rotate(-45)">STR</text>
<text x="0.00" y="0.00" font-size="9.00" fill="#1a1a1a" text-anchor="end" stroke="#1a1a1a" stroke-width="0.30" transform="translate(476.80,295.6) rotate(-45)">FT</text>
<text x="0.00" y="0.00" font-size="9.00" fill="#1a1a1a" text-anchor="end" stroke="#1a1a1a" stroke-width="0.30" transform="translate(490.70,295.6) rotate(-45)">VS</text>
<text x="0.00" y="0.00" font-size="9.00" fill="#1a1a1a" text-anchor="end" stroke="#1a1a1a" stroke-width="0.30" transform="translate(504.80,295.6) rotate(-45)">RT</text>
<rect x="320.2" y="19.8" width="1.2" height="0.9" fill="#c8c8c8"/>
<rect x="320.2" y="30.6" width="1.2" height="0.9" fill="#c8c8c8"/>
<rect x="320.2" y="40.0" width="1.2" height="0.9" fill="#c8c8c8"/>
<rect x="320.2" y="51.3" width="1.2" height="0.9" fill="#c8c8c8"/>
<rect x="325.5" y="62.6" width="1.2" height="0.9" fill="#c8c8c8"/>
<rect x="335.2" y="62.6" width="1.2" height="0.9" fill="#c8c8c8"/>
<rect x="345.6" y="62.6" width="1.2" height="0.9" fill="#c8c8c8"/>
<rect x="355.3" y="62.6" width="1.2" height="0.9" fill="#c8c8c8"/>
<line x1="321.3" y1="64" x2="321.3" y2="104" stroke="#ececec" stroke-width="0.6"/>
</svg></body></html>
